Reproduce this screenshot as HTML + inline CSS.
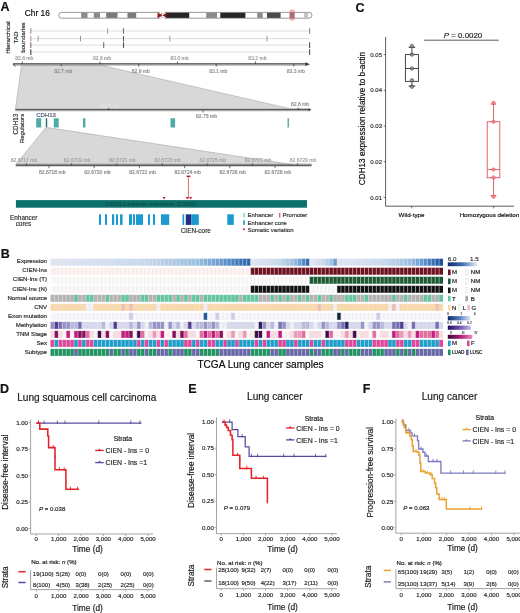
<!DOCTYPE html>
<html><head><meta charset="utf-8"><title>Figure</title>
<style>
html,body{margin:0;padding:0;background:#fff;}
body{width:520px;height:613px;overflow:hidden;}
svg{display:block;}
svg text{font-family:'Liberation Sans', Arial, sans-serif;}
</style></head>
<body>
<svg width="520" height="613" viewBox="0 0 520 613">
<rect width="520" height="613" fill="#fff"/>
<text x="0.50" y="10.90" font-size="12.5" fill="#111" stroke="#111" stroke-width="0.18" font-weight="bold">A</text>
<text x="0.80" y="258.00" font-size="12.5" fill="#111" stroke="#111" stroke-width="0.18" font-weight="bold">B</text>
<text x="355.50" y="11.50" font-size="12.5" fill="#111" stroke="#111" stroke-width="0.18" font-weight="bold">C</text>
<text x="0.00" y="392.60" font-size="12.5" fill="#111" stroke="#111" stroke-width="0.18" font-weight="bold">D</text>
<text x="188.30" y="393.00" font-size="12.5" fill="#111" stroke="#111" stroke-width="0.18" font-weight="bold">E</text>
<text x="362.80" y="392.80" font-size="12.5" fill="#111" stroke="#111" stroke-width="0.18" font-weight="bold">F</text>
<text x="24.80" y="16.10" font-size="8.4" stroke="#222" stroke-width="0.18">Chr 16</text>
<rect x="58.7" y="12.4" width="104" height="5.80" rx="2.9" fill="#fff" stroke="#555" stroke-width="0.6"/>
<rect x="161" y="12.4" width="151" height="5.80" rx="2.9" fill="#fff" stroke="#555" stroke-width="0.6"/>
<rect x="81.20" y="12.70" width="6.30" height="5.20" fill="#8a8a8a"/>
<rect x="93.80" y="12.70" width="6.20" height="5.20" fill="#8a8a8a"/>
<rect x="106.20" y="12.70" width="11.30" height="5.20" fill="#7a7a7a"/>
<rect x="127.50" y="12.70" width="8.70" height="5.20" fill="#7a7a7a"/>
<rect x="166.30" y="12.70" width="22.90" height="5.20" fill="#262626"/>
<rect x="206.20" y="12.70" width="10.80" height="5.20" fill="#8a8a8a"/>
<rect x="220.30" y="12.70" width="25.10" height="5.20" fill="#262626"/>
<rect x="257.20" y="12.70" width="5.50" height="5.20" fill="#8a8a8a"/>
<rect x="267.00" y="12.70" width="13.60" height="5.20" fill="#4a4a4a"/>
<rect x="289.60" y="12.70" width="4.90" height="5.20" fill="#8a8a8a"/>
<rect x="304.00" y="12.70" width="4.00" height="5.20" fill="#c4c4c4"/>
<path d="M157.5 12.4 L162.4 15.30 L157.5 18.2 Z" fill="#8b1a1a"/>
<path d="M167 12.4 L162.4 15.30 L167 18.2 Z" fill="#8b1a1a"/>
<rect x="160.20" y="11.90" width="4.40" height="1.20" fill="#fff"/>
<rect x="160.20" y="17.50" width="4.40" height="1.20" fill="#fff"/>
<rect x="289.8" y="9.8" width="4.8" height="10.6" rx="1.3" fill="#e23a4e" fill-opacity="0.38" stroke="#e86070" stroke-width="0.5" stroke-opacity="0.5" stroke-dasharray="1 0.6"/>
<text x="10.00" y="37.50" font-size="6.15" text-anchor="middle" fill="#333" stroke="#333" stroke-width="0.18" transform="rotate(-90 10.00 37.50)">Hierarchical</text>
<text x="17.50" y="37.50" font-size="6.15" text-anchor="middle" fill="#333" stroke="#333" stroke-width="0.18" transform="rotate(-90 17.50 37.50)">TAD</text>
<text x="24.60" y="37.50" font-size="6.15" text-anchor="middle" fill="#333" stroke="#333" stroke-width="0.18" transform="rotate(-90 24.60 37.50)">boundaries</text>
<line x1="30.80" y1="31.00" x2="309.60" y2="31.00" stroke="#cbcbcb" stroke-width="0.65"/>
<line x1="30.80" y1="38.60" x2="309.60" y2="38.60" stroke="#cbcbcb" stroke-width="0.65"/>
<line x1="30.80" y1="45.10" x2="309.60" y2="45.10" stroke="#cbcbcb" stroke-width="0.65"/>
<line x1="30.80" y1="52.10" x2="309.60" y2="52.10" stroke="#cbcbcb" stroke-width="0.65"/>
<line x1="30.80" y1="28.20" x2="30.80" y2="33.80" stroke="#a888b0" stroke-width="1.1"/>
<line x1="107.60" y1="28.20" x2="107.60" y2="33.80" stroke="#a4a4ac" stroke-width="1.1"/>
<line x1="123.50" y1="28.20" x2="123.50" y2="33.80" stroke="#786878" stroke-width="1.1"/>
<line x1="309.60" y1="28.20" x2="309.60" y2="33.80" stroke="#888" stroke-width="1.1"/>
<line x1="30.80" y1="35.80" x2="30.80" y2="41.40" stroke="#b890a8" stroke-width="1.1"/>
<line x1="38.20" y1="35.80" x2="38.20" y2="41.40" stroke="#a4a4a4" stroke-width="1.1"/>
<line x1="80.50" y1="35.80" x2="80.50" y2="41.40" stroke="#b888a0" stroke-width="1.1"/>
<line x1="123.50" y1="35.80" x2="123.50" y2="41.40" stroke="#6a5868" stroke-width="1.1"/>
<line x1="169.80" y1="35.80" x2="169.80" y2="41.40" stroke="#a4a4a4" stroke-width="1.1"/>
<line x1="267.00" y1="35.80" x2="267.00" y2="41.40" stroke="#a4a4a4" stroke-width="1.1"/>
<line x1="30.80" y1="42.30" x2="30.80" y2="47.90" stroke="#806878" stroke-width="1.1"/>
<line x1="103.70" y1="42.30" x2="103.70" y2="47.90" stroke="#707070" stroke-width="1.1"/>
<line x1="123.50" y1="42.30" x2="123.50" y2="47.90" stroke="#5a4858" stroke-width="1.1"/>
<line x1="309.60" y1="42.30" x2="309.60" y2="47.90" stroke="#555" stroke-width="1.1"/>
<line x1="30.80" y1="49.30" x2="30.80" y2="54.90" stroke="#444" stroke-width="1.1"/>
<line x1="309.60" y1="49.30" x2="309.60" y2="54.90" stroke="#555" stroke-width="1.1"/>
<path d="M21.5 65 L100 65 L293.5 109.5 L15.4 109.5 Z" fill="#d8d8d8" stroke="#9a9a9a" stroke-width="0.5"/>
<line x1="13.00" y1="64.90" x2="306.50" y2="64.90" stroke="#8e8e8e" stroke-width="1.3"/>
<line x1="13.00" y1="63.70" x2="306.50" y2="63.70" stroke="#4e4e4e" stroke-width="1.0"/>
<path d="M305.5 62.3 L310 64.2 L305.5 65.9 Z" fill="#3a3a3a"/>
<path d="M13 64 L15.5 66.5" fill="none" stroke="#333" stroke-width="0.8"/>
<line x1="22.30" y1="61.40" x2="22.30" y2="64.00" stroke="#333" stroke-width="0.7"/>
<text x="24.30" y="60.20" font-size="5" text-anchor="middle" fill="#9c9c9c" stroke="#9c9c9c" stroke-width="0.18">82.6 mb</text>
<line x1="100.00" y1="61.40" x2="100.00" y2="64.00" stroke="#333" stroke-width="0.7"/>
<text x="102.00" y="60.20" font-size="5" text-anchor="middle" fill="#9c9c9c" stroke="#9c9c9c" stroke-width="0.18">82.8 mb</text>
<line x1="177.50" y1="61.40" x2="177.50" y2="64.00" stroke="#333" stroke-width="0.7"/>
<text x="179.50" y="60.20" font-size="5" text-anchor="middle" fill="#9c9c9c" stroke="#9c9c9c" stroke-width="0.18">83.0 mb</text>
<line x1="255.40" y1="61.40" x2="255.40" y2="64.00" stroke="#333" stroke-width="0.7"/>
<text x="257.40" y="60.20" font-size="5" text-anchor="middle" fill="#9c9c9c" stroke="#9c9c9c" stroke-width="0.18">83.2 mb</text>
<line x1="61.20" y1="64.00" x2="61.20" y2="66.60" stroke="#333" stroke-width="0.7"/>
<text x="63.20" y="72.60" font-size="5" text-anchor="middle" fill="#8c8c8c" stroke="#8c8c8c" stroke-width="0.18">82.7 mb</text>
<line x1="138.75" y1="64.00" x2="138.75" y2="66.60" stroke="#333" stroke-width="0.7"/>
<text x="140.75" y="72.60" font-size="5" text-anchor="middle" fill="#8c8c8c" stroke="#8c8c8c" stroke-width="0.18">82.9 mb</text>
<line x1="216.25" y1="64.00" x2="216.25" y2="66.60" stroke="#333" stroke-width="0.7"/>
<text x="218.25" y="72.60" font-size="5" text-anchor="middle" fill="#8c8c8c" stroke="#8c8c8c" stroke-width="0.18">83.1 mb</text>
<line x1="293.80" y1="64.00" x2="293.80" y2="66.60" stroke="#333" stroke-width="0.7"/>
<text x="295.80" y="72.60" font-size="5" text-anchor="middle" fill="#8c8c8c" stroke="#8c8c8c" stroke-width="0.18">83.3 mb</text>
<line x1="15.40" y1="108.40" x2="309.50" y2="108.40" stroke="#c2c2c2" stroke-width="1.0"/>
<line x1="15.40" y1="109.80" x2="309.50" y2="109.80" stroke="#585858" stroke-width="1.5"/>
<line x1="15.40" y1="110.90" x2="309.50" y2="110.90" stroke="#a8a8a8" stroke-width="0.6"/>
<path d="M308.6 108.3 L311.4 109.8 L308.6 111.3 Z" fill="#3a3a3a"/>
<line x1="108.50" y1="107.70" x2="108.50" y2="110.20" stroke="#333" stroke-width="0.7"/>
<text x="109.50" y="107.50" font-size="5" text-anchor="middle" fill="#e2e2e2" stroke="#e2e2e2" stroke-width="0.18">82.7 mb</text>
<line x1="203.00" y1="110.20" x2="203.00" y2="112.60" stroke="#333" stroke-width="0.7"/>
<text x="206.50" y="117.90" font-size="5" text-anchor="middle" fill="#8c8c8c" stroke="#8c8c8c" stroke-width="0.18">82.75 mb</text>
<line x1="298.30" y1="107.70" x2="298.30" y2="110.20" stroke="#333" stroke-width="0.7"/>
<text x="300.00" y="106.20" font-size="5" text-anchor="middle" fill="#8c8c8c" stroke="#8c8c8c" stroke-width="0.18">82.8 mb</text>
<text x="17.80" y="113.80" font-size="6.3" text-anchor="end" fill="#333" stroke="#333" stroke-width="0.18" transform="rotate(-90 17.80 113.80)">CDH13</text>
<text x="23.80" y="113.80" font-size="6.1" text-anchor="end" fill="#333" stroke="#333" stroke-width="0.18" transform="rotate(-90 23.80 113.80)">Regulators</text>
<text x="36.20" y="116.80" font-size="6" fill="#4e5e72" stroke="#4e5e72" stroke-width="0.18">CDH13</text>
<rect x="36.20" y="118.30" width="5.00" height="9.20" fill="#4eaaa4"/>
<rect x="45.80" y="118.30" width="1.40" height="9.20" fill="#2a6a6a"/>
<rect x="53.80" y="118.30" width="4.90" height="9.20" fill="#4eaaa4"/>
<rect x="83.00" y="118.30" width="2.40" height="9.20" fill="#4eaaa4"/>
<rect x="170.50" y="118.30" width="4.60" height="9.20" fill="#4eaaa4"/>
<rect x="287.60" y="118.30" width="1.20" height="9.20" fill="#3a9a98"/>
<path d="M45.8 127.6 L47.6 127.6 L293 164.6 L15.8 164.6 Z" fill="#d8d8d8" stroke="#9a9a9a" stroke-width="0.5"/>
<line x1="15.80" y1="163.90" x2="311.60" y2="163.90" stroke="#b4b4b4" stroke-width="0.9"/>
<line x1="15.80" y1="165.20" x2="311.60" y2="165.20" stroke="#565656" stroke-width="1.5"/>
<line x1="15.80" y1="166.30" x2="311.60" y2="166.30" stroke="#a8a8a8" stroke-width="0.6"/>
<line x1="49.00" y1="165.80" x2="49.00" y2="168.20" stroke="#333" stroke-width="0.7"/>
<text x="52.30" y="173.90" font-size="5" text-anchor="middle" fill="#8a8a8a" stroke="#8a8a8a" stroke-width="0.18">82.6718 mb</text>
<line x1="94.20" y1="165.80" x2="94.20" y2="168.20" stroke="#333" stroke-width="0.7"/>
<text x="97.40" y="173.90" font-size="5" text-anchor="middle" fill="#8a8a8a" stroke="#8a8a8a" stroke-width="0.18">82.6720 mb</text>
<line x1="139.40" y1="165.80" x2="139.40" y2="168.20" stroke="#333" stroke-width="0.7"/>
<text x="142.50" y="173.90" font-size="5" text-anchor="middle" fill="#8a8a8a" stroke="#8a8a8a" stroke-width="0.18">82.6722 mb</text>
<line x1="184.60" y1="165.80" x2="184.60" y2="168.20" stroke="#333" stroke-width="0.7"/>
<text x="187.60" y="173.90" font-size="5" text-anchor="middle" fill="#8a8a8a" stroke="#8a8a8a" stroke-width="0.18">82.6724 mb</text>
<line x1="229.80" y1="165.80" x2="229.80" y2="168.20" stroke="#333" stroke-width="0.7"/>
<text x="232.70" y="173.90" font-size="5" text-anchor="middle" fill="#8a8a8a" stroke="#8a8a8a" stroke-width="0.18">82.6726 mb</text>
<line x1="275.00" y1="165.80" x2="275.00" y2="168.20" stroke="#333" stroke-width="0.7"/>
<text x="277.80" y="173.90" font-size="5" text-anchor="middle" fill="#8a8a8a" stroke="#8a8a8a" stroke-width="0.18">82.6728 mb</text>
<line x1="26.40" y1="163.40" x2="26.40" y2="165.80" stroke="#333" stroke-width="0.7"/>
<text x="24.00" y="161.60" font-size="5" text-anchor="middle" fill="#a4a4a4" stroke="#a4a4a4" stroke-width="0.18">82.6717 mb</text>
<line x1="71.60" y1="163.40" x2="71.60" y2="165.80" stroke="#333" stroke-width="0.7"/>
<text x="77.00" y="161.60" font-size="5" text-anchor="middle" fill="#a4a4a4" stroke="#a4a4a4" stroke-width="0.18">82.6719 mb</text>
<line x1="116.80" y1="163.40" x2="116.80" y2="165.80" stroke="#333" stroke-width="0.7"/>
<text x="122.40" y="161.60" font-size="5" text-anchor="middle" fill="#a4a4a4" stroke="#a4a4a4" stroke-width="0.18">82.6721 mb</text>
<line x1="162.00" y1="163.40" x2="162.00" y2="165.80" stroke="#333" stroke-width="0.7"/>
<text x="167.60" y="161.60" font-size="5" text-anchor="middle" fill="#a4a4a4" stroke="#a4a4a4" stroke-width="0.18">82.6723 mb</text>
<line x1="207.20" y1="163.40" x2="207.20" y2="165.80" stroke="#333" stroke-width="0.7"/>
<text x="212.80" y="161.60" font-size="5" text-anchor="middle" fill="#a4a4a4" stroke="#a4a4a4" stroke-width="0.18">82.6725 mb</text>
<line x1="252.40" y1="163.40" x2="252.40" y2="165.80" stroke="#333" stroke-width="0.7"/>
<text x="258.00" y="161.60" font-size="5" text-anchor="middle" fill="#a4a4a4" stroke="#a4a4a4" stroke-width="0.18">82.6727 mb</text>
<line x1="297.60" y1="163.40" x2="297.60" y2="165.80" stroke="#333" stroke-width="0.7"/>
<text x="303.00" y="161.60" font-size="5" text-anchor="middle" fill="#a4a4a4" stroke="#a4a4a4" stroke-width="0.18">82.6729 mb</text>
<line x1="188.40" y1="176.50" x2="188.40" y2="198.60" stroke="#e8404a" stroke-width="0.8"/>
<rect x="186.60" y="175.60" width="3.80" height="1.40" fill="#b02030"/>
<path d="M162.60 197.0 L165.60 197.0 L164.10 199.4 Z" fill="#c0202a"/>
<path d="M185.70 197.0 L188.70 197.0 L187.20 199.4 Z" fill="#c0202a"/>
<path d="M189.10 197.0 L192.10 197.0 L190.60 199.4 Z" fill="#c0202a"/>
<rect x="15.90" y="200.10" width="291.10" height="7.60" fill="#0c706b"/>
<text x="150.50" y="206.10" font-size="6.2" text-anchor="middle" fill="#0b5451" stroke="#0b5451" stroke-width="0.18">CDH13 intronic enhancer (CIEN)</text>
<text x="23.70" y="219.50" font-size="6.4" text-anchor="middle" fill="#333" stroke="#333" stroke-width="0.18">Enhancer</text>
<text x="23.50" y="226.00" font-size="6.4" text-anchor="middle" fill="#333" stroke="#333" stroke-width="0.18">cores</text>
<rect x="99.00" y="214.30" width="2.00" height="10.60" fill="#1b9ad0"/>
<rect x="105.00" y="214.30" width="2.00" height="10.60" fill="#1b9ad0"/>
<rect x="112.00" y="214.30" width="2.20" height="10.60" fill="#1b9ad0"/>
<rect x="116.00" y="214.30" width="2.00" height="10.60" fill="#1b9ad0"/>
<rect x="120.00" y="214.30" width="2.60" height="10.60" fill="#1b9ad0"/>
<rect x="129.00" y="214.30" width="3.00" height="10.60" fill="#1b9ad0"/>
<rect x="133.00" y="214.30" width="2.00" height="10.60" fill="#1b9ad0"/>
<rect x="136.00" y="214.30" width="7.00" height="10.60" fill="#1b9ad0"/>
<rect x="148.00" y="214.30" width="2.00" height="10.60" fill="#1b9ad0"/>
<rect x="153.00" y="214.30" width="2.00" height="10.60" fill="#1b9ad0"/>
<rect x="161.00" y="214.30" width="8.20" height="10.60" fill="#1b9ad0"/>
<rect x="182.50" y="214.30" width="1.70" height="10.60" fill="#1b9ad0"/>
<rect x="185.80" y="214.30" width="5.40" height="10.60" fill="#232c80"/>
<rect x="191.20" y="214.30" width="7.60" height="10.60" fill="#1b9ad0"/>
<rect x="227.30" y="214.30" width="6.50" height="10.60" fill="#1b9ad0"/>
<text x="195.80" y="232.60" font-size="6.5" text-anchor="middle" fill="#333" stroke="#333" stroke-width="0.18">CIEN-core</text>
<rect x="243.30" y="212.90" width="1.50" height="4.60" fill="#7ed0e8"/>
<text x="247.50" y="217.40" font-size="6" fill="#333" stroke="#333" stroke-width="0.18">Enhancer</text>
<rect x="278.90" y="212.90" width="1.50" height="4.60" fill="#e07070"/>
<text x="282.60" y="217.40" font-size="6" fill="#333" stroke="#333" stroke-width="0.18">Promoter</text>
<rect x="243.30" y="220.30" width="1.50" height="4.60" fill="#1b8ac0"/>
<text x="247.50" y="224.80" font-size="6" fill="#333" stroke="#333" stroke-width="0.18">Enhancer core</text>
<path d="M242.6 228.6 L245.4 228.6 L244 230.8 Z" fill="#c0202a"/>
<text x="247.50" y="232.20" font-size="6" fill="#333" stroke="#333" stroke-width="0.18">Somatic variation</text>
<line x1="385.60" y1="37.00" x2="385.60" y2="206.20" stroke="#333" stroke-width="0.8"/>
<line x1="385.60" y1="206.20" x2="514.00" y2="206.20" stroke="#333" stroke-width="0.8"/>
<line x1="383.60" y1="54.60" x2="385.60" y2="54.60" stroke="#333" stroke-width="0.7"/>
<text x="382.00" y="56.70" font-size="6" text-anchor="end" fill="#333" stroke="#333" stroke-width="0.18">0.05</text>
<line x1="383.60" y1="90.30" x2="385.60" y2="90.30" stroke="#333" stroke-width="0.7"/>
<text x="382.00" y="92.40" font-size="6" text-anchor="end" fill="#333" stroke="#333" stroke-width="0.18">0.04</text>
<line x1="383.60" y1="126.00" x2="385.60" y2="126.00" stroke="#333" stroke-width="0.7"/>
<text x="382.00" y="128.10" font-size="6" text-anchor="end" fill="#333" stroke="#333" stroke-width="0.18">0.03</text>
<line x1="383.60" y1="161.70" x2="385.60" y2="161.70" stroke="#333" stroke-width="0.7"/>
<text x="382.00" y="163.80" font-size="6" text-anchor="end" fill="#333" stroke="#333" stroke-width="0.18">0.02</text>
<line x1="383.60" y1="197.40" x2="385.60" y2="197.40" stroke="#333" stroke-width="0.7"/>
<text x="382.00" y="199.50" font-size="6" text-anchor="end" fill="#333" stroke="#333" stroke-width="0.18">0.01</text>
<text x="364.80" y="118.50" font-size="8.2" text-anchor="middle" stroke="#222" stroke-width="0.18" transform="rotate(-90 364.80 118.50)">CDH13 expression relative to b-actin</text>
<line x1="411.70" y1="206.20" x2="411.70" y2="208.40" stroke="#333" stroke-width="0.7"/>
<text x="411.50" y="217.00" font-size="6.2" text-anchor="middle" stroke="#222" stroke-width="0.18">Wild-type</text>
<line x1="493.70" y1="206.20" x2="493.70" y2="208.40" stroke="#333" stroke-width="0.7"/>
<text x="489.40" y="217.00" font-size="6.2" text-anchor="middle" stroke="#222" stroke-width="0.18">Homozygous deletion</text>
<line x1="424.20" y1="40.20" x2="498.80" y2="40.20" stroke="#333" stroke-width="0.8"/>
<text x="463" y="37.9" font-size="7.9" text-anchor="middle" fill="#222" stroke="#222" stroke-width="0.18"><tspan font-style="italic">P</tspan> = 0.0020</text>
<line x1="411.90" y1="46.03" x2="411.90" y2="54.60" stroke="#333" stroke-width="0.9"/>
<line x1="411.90" y1="81.38" x2="411.90" y2="87.09" stroke="#333" stroke-width="0.9"/>
<line x1="408.60" y1="47.23" x2="415.20" y2="47.23" stroke="#333" stroke-width="1.1"/>
<line x1="408.60" y1="86.09" x2="415.20" y2="86.09" stroke="#333" stroke-width="1.1"/>
<rect x="405.40" y="54.60" width="13.00" height="26.77" fill="none" stroke="#333" stroke-width="0.9"/>
<line x1="405.40" y1="68.52" x2="418.40" y2="68.52" stroke="#333" stroke-width="0.9"/>
<circle cx="411.90" cy="46.03" r="1.75" fill="#8a8a8a" fill-opacity="0.85" stroke="#333" stroke-width="0.5"/>
<circle cx="411.90" cy="54.60" r="1.75" fill="#8a8a8a" fill-opacity="0.85" stroke="#333" stroke-width="0.5"/>
<circle cx="411.90" cy="68.52" r="1.75" fill="#8a8a8a" fill-opacity="0.85" stroke="#333" stroke-width="0.5"/>
<circle cx="411.90" cy="80.30" r="1.75" fill="#8a8a8a" fill-opacity="0.85" stroke="#333" stroke-width="0.5"/>
<circle cx="411.90" cy="86.73" r="1.75" fill="#8a8a8a" fill-opacity="0.85" stroke="#333" stroke-width="0.5"/>
<line x1="493.50" y1="102.80" x2="493.50" y2="121.72" stroke="#e0505a" stroke-width="0.9"/>
<line x1="493.50" y1="177.77" x2="493.50" y2="196.69" stroke="#e0505a" stroke-width="0.9"/>
<line x1="490.70" y1="104.00" x2="496.30" y2="104.00" stroke="#e0505a" stroke-width="1.1"/>
<line x1="490.70" y1="195.69" x2="496.30" y2="195.69" stroke="#e0505a" stroke-width="1.1"/>
<rect x="487.20" y="121.72" width="12.60" height="56.05" fill="none" stroke="#e0505a" stroke-width="0.9"/>
<line x1="487.20" y1="169.55" x2="499.80" y2="169.55" stroke="#e0505a" stroke-width="0.9"/>
<circle cx="493.50" cy="102.80" r="1.75" fill="#ee8088" fill-opacity="0.85" stroke="#e0505a" stroke-width="0.5"/>
<circle cx="493.50" cy="121.72" r="1.75" fill="#ee8088" fill-opacity="0.85" stroke="#e0505a" stroke-width="0.5"/>
<circle cx="493.50" cy="169.55" r="1.75" fill="#ee8088" fill-opacity="0.85" stroke="#e0505a" stroke-width="0.5"/>
<circle cx="493.50" cy="177.41" r="1.75" fill="#ee8088" fill-opacity="0.85" stroke="#e0505a" stroke-width="0.5"/>
<circle cx="493.50" cy="196.69" r="1.75" fill="#ee8088" fill-opacity="0.85" stroke="#e0505a" stroke-width="0.5"/>
<text x="47.00" y="263.45" font-size="6.1" text-anchor="end" fill="#2a2a2a" stroke="#2a2a2a" stroke-width="0.18">Expression</text>
<text x="47.00" y="272.47" font-size="6.1" text-anchor="end" fill="#2a2a2a" stroke="#2a2a2a" stroke-width="0.18">CIEN-Ins</text>
<text x="47.00" y="281.49" font-size="6.1" text-anchor="end" fill="#2a2a2a" stroke="#2a2a2a" stroke-width="0.18">CIEN-Ins (T)</text>
<text x="47.00" y="290.51" font-size="6.1" text-anchor="end" fill="#2a2a2a" stroke="#2a2a2a" stroke-width="0.18">CIEN-Ins (N)</text>
<text x="47.00" y="299.53" font-size="6.1" text-anchor="end" fill="#2a2a2a" stroke="#2a2a2a" stroke-width="0.18">Normal source</text>
<text x="47.00" y="308.55" font-size="6.1" text-anchor="end" fill="#2a2a2a" stroke="#2a2a2a" stroke-width="0.18">CNV</text>
<text x="47.00" y="317.57" font-size="6.1" text-anchor="end" fill="#2a2a2a" stroke="#2a2a2a" stroke-width="0.18">Exon mutation</text>
<text x="47.00" y="326.59" font-size="6.1" text-anchor="end" fill="#2a2a2a" stroke="#2a2a2a" stroke-width="0.18">Methylation</text>
<text x="47.00" y="335.61" font-size="6.1" text-anchor="end" fill="#2a2a2a" stroke="#2a2a2a" stroke-width="0.18">TNM Stage</text>
<text x="47.00" y="344.63" font-size="6.1" text-anchor="end" fill="#2a2a2a" stroke="#2a2a2a" stroke-width="0.18">Sex</text>
<text x="47.00" y="353.65" font-size="6.1" text-anchor="end" fill="#2a2a2a" stroke="#2a2a2a" stroke-width="0.18">Subtype</text>
<rect x="50.50" y="258.70" width="3.92" height="7.00" fill="#e0e6f3"/>
<rect x="54.42" y="258.70" width="3.92" height="7.00" fill="#dfe5f3"/>
<rect x="58.35" y="258.70" width="3.92" height="7.00" fill="#dee5f3"/>
<rect x="62.27" y="258.70" width="3.92" height="7.00" fill="#dde4f2"/>
<rect x="66.20" y="258.70" width="3.92" height="7.00" fill="#dce4f2"/>
<rect x="70.12" y="258.70" width="3.92" height="7.00" fill="#dbe3f2"/>
<rect x="74.05" y="258.70" width="3.92" height="7.00" fill="#d9e3f2"/>
<rect x="77.97" y="258.70" width="3.92" height="7.00" fill="#d8e2f2"/>
<rect x="81.90" y="258.70" width="3.92" height="7.00" fill="#d7e2f2"/>
<rect x="85.82" y="258.70" width="3.92" height="7.00" fill="#d6e1f1"/>
<rect x="89.75" y="258.70" width="3.92" height="7.00" fill="#d5e1f1"/>
<rect x="93.67" y="258.70" width="3.92" height="7.00" fill="#d4e0f1"/>
<rect x="97.60" y="258.70" width="3.92" height="7.00" fill="#d3dff1"/>
<rect x="101.53" y="258.70" width="3.92" height="7.00" fill="#d2dff1"/>
<rect x="105.45" y="258.70" width="3.92" height="7.00" fill="#d1def1"/>
<rect x="109.38" y="258.70" width="3.92" height="7.00" fill="#d0def0"/>
<rect x="113.30" y="258.70" width="3.92" height="7.00" fill="#ceddf0"/>
<rect x="117.22" y="258.70" width="3.92" height="7.00" fill="#cdddf0"/>
<rect x="121.15" y="258.70" width="3.92" height="7.00" fill="#ccdcf0"/>
<rect x="125.08" y="258.70" width="3.92" height="7.00" fill="#cbdcf0"/>
<rect x="129.00" y="258.70" width="3.92" height="7.00" fill="#cadbf0"/>
<rect x="132.93" y="258.70" width="3.92" height="7.00" fill="#c9daef"/>
<rect x="136.85" y="258.70" width="3.92" height="7.00" fill="#c8daef"/>
<rect x="140.77" y="258.70" width="3.92" height="7.00" fill="#c7d9ef"/>
<rect x="144.70" y="258.70" width="3.92" height="7.00" fill="#c5d8ef"/>
<rect x="148.62" y="258.70" width="3.92" height="7.00" fill="#c1d6ee"/>
<rect x="152.55" y="258.70" width="3.92" height="7.00" fill="#bed4ed"/>
<rect x="156.47" y="258.70" width="3.92" height="7.00" fill="#bad2ec"/>
<rect x="160.40" y="258.70" width="3.92" height="7.00" fill="#b7d0eb"/>
<rect x="164.32" y="258.70" width="3.92" height="7.00" fill="#b3ceeb"/>
<rect x="168.25" y="258.70" width="3.92" height="7.00" fill="#b0cdea"/>
<rect x="172.18" y="258.70" width="3.92" height="7.00" fill="#accbe9"/>
<rect x="176.10" y="258.70" width="3.92" height="7.00" fill="#a9c9e8"/>
<rect x="180.03" y="258.70" width="3.92" height="7.00" fill="#a5c7e7"/>
<rect x="183.95" y="258.70" width="3.92" height="7.00" fill="#a2c5e6"/>
<rect x="187.88" y="258.70" width="3.92" height="7.00" fill="#9ec3e6"/>
<rect x="191.80" y="258.70" width="3.92" height="7.00" fill="#9bc1e5"/>
<rect x="195.72" y="258.70" width="3.92" height="7.00" fill="#97bee3"/>
<rect x="199.65" y="258.70" width="3.92" height="7.00" fill="#8eb8e0"/>
<rect x="203.57" y="258.70" width="3.92" height="7.00" fill="#85b2dd"/>
<rect x="207.50" y="258.70" width="3.92" height="7.00" fill="#7dacda"/>
<rect x="211.42" y="258.70" width="3.92" height="7.00" fill="#74a5d6"/>
<rect x="215.35" y="258.70" width="3.92" height="7.00" fill="#6b9fd3"/>
<rect x="219.28" y="258.70" width="3.92" height="7.00" fill="#6399d0"/>
<rect x="223.20" y="258.70" width="3.92" height="7.00" fill="#5a93cc"/>
<rect x="227.12" y="258.70" width="3.92" height="7.00" fill="#518dc9"/>
<rect x="231.05" y="258.70" width="3.92" height="7.00" fill="#4a85c4"/>
<rect x="234.97" y="258.70" width="3.92" height="7.00" fill="#437dbe"/>
<rect x="238.90" y="258.70" width="3.92" height="7.00" fill="#3c74b8"/>
<rect x="242.82" y="258.70" width="3.92" height="7.00" fill="#356cb2"/>
<rect x="246.75" y="258.70" width="3.92" height="7.00" fill="#2e64ac"/>
<rect x="250.67" y="258.70" width="3.92" height="7.00" fill="#e0e6f3"/>
<rect x="254.60" y="258.70" width="3.92" height="7.00" fill="#dce4f2"/>
<rect x="258.52" y="258.70" width="3.92" height="7.00" fill="#d8e2f2"/>
<rect x="262.45" y="258.70" width="3.92" height="7.00" fill="#d4e0f1"/>
<rect x="266.38" y="258.70" width="3.92" height="7.00" fill="#d1def1"/>
<rect x="270.30" y="258.70" width="3.92" height="7.00" fill="#cddcf0"/>
<rect x="274.23" y="258.70" width="3.92" height="7.00" fill="#c9daef"/>
<rect x="278.15" y="258.70" width="3.92" height="7.00" fill="#c3d7ee"/>
<rect x="282.07" y="258.70" width="3.92" height="7.00" fill="#b7d1eb"/>
<rect x="286.00" y="258.70" width="3.92" height="7.00" fill="#abcae8"/>
<rect x="289.92" y="258.70" width="3.92" height="7.00" fill="#9fc3e6"/>
<rect x="293.85" y="258.70" width="3.92" height="7.00" fill="#8ab5df"/>
<rect x="297.77" y="258.70" width="3.92" height="7.00" fill="#6c9fd3"/>
<rect x="301.70" y="258.70" width="3.92" height="7.00" fill="#4e89c7"/>
<rect x="305.62" y="258.70" width="3.92" height="7.00" fill="#356cb2"/>
<rect x="309.55" y="258.70" width="3.92" height="7.00" fill="#e0e6f3"/>
<rect x="313.47" y="258.70" width="3.92" height="7.00" fill="#d8e2f2"/>
<rect x="317.40" y="258.70" width="3.92" height="7.00" fill="#d1def1"/>
<rect x="321.32" y="258.70" width="3.92" height="7.00" fill="#c9daef"/>
<rect x="325.25" y="258.70" width="3.92" height="7.00" fill="#b7d0eb"/>
<rect x="329.18" y="258.70" width="3.92" height="7.00" fill="#9ec2e5"/>
<rect x="333.10" y="258.70" width="3.92" height="7.00" fill="#6a9ed2"/>
<rect x="337.02" y="258.70" width="3.92" height="7.00" fill="#e0e6f3"/>
<rect x="340.95" y="258.70" width="3.92" height="7.00" fill="#dee5f3"/>
<rect x="344.88" y="258.70" width="3.92" height="7.00" fill="#dce4f2"/>
<rect x="348.80" y="258.70" width="3.92" height="7.00" fill="#d9e3f2"/>
<rect x="352.72" y="258.70" width="3.92" height="7.00" fill="#d7e2f2"/>
<rect x="356.65" y="258.70" width="3.92" height="7.00" fill="#d5e0f1"/>
<rect x="360.57" y="258.70" width="3.92" height="7.00" fill="#d3dff1"/>
<rect x="364.50" y="258.70" width="3.92" height="7.00" fill="#d0def1"/>
<rect x="368.43" y="258.70" width="3.92" height="7.00" fill="#ceddf0"/>
<rect x="372.35" y="258.70" width="3.92" height="7.00" fill="#ccdcf0"/>
<rect x="376.27" y="258.70" width="3.92" height="7.00" fill="#cadbf0"/>
<rect x="380.20" y="258.70" width="3.92" height="7.00" fill="#c8daef"/>
<rect x="384.12" y="258.70" width="3.92" height="7.00" fill="#c4d8ee"/>
<rect x="388.05" y="258.70" width="3.92" height="7.00" fill="#bdd4ed"/>
<rect x="391.97" y="258.70" width="3.92" height="7.00" fill="#b6d0eb"/>
<rect x="395.90" y="258.70" width="3.92" height="7.00" fill="#afcce9"/>
<rect x="399.82" y="258.70" width="3.92" height="7.00" fill="#a8c8e8"/>
<rect x="403.75" y="258.70" width="3.92" height="7.00" fill="#a0c4e6"/>
<rect x="407.68" y="258.70" width="3.92" height="7.00" fill="#99c0e4"/>
<rect x="411.60" y="258.70" width="3.92" height="7.00" fill="#8ab5df"/>
<rect x="415.52" y="258.70" width="3.92" height="7.00" fill="#78a8d8"/>
<rect x="419.45" y="258.70" width="3.92" height="7.00" fill="#679cd1"/>
<rect x="423.38" y="258.70" width="3.92" height="7.00" fill="#5590ca"/>
<rect x="427.30" y="258.70" width="3.92" height="7.00" fill="#4680c0"/>
<rect x="431.22" y="258.70" width="3.92" height="7.00" fill="#3870b4"/>
<rect x="435.15" y="258.70" width="3.92" height="7.00" fill="#295fa8"/>
<rect x="439.07" y="258.70" width="3.92" height="7.00" fill="#1b4e9c"/>
<path d="M54.42 258.70v7.0M58.35 258.70v7.0M62.27 258.70v7.0M66.20 258.70v7.0M70.12 258.70v7.0M74.05 258.70v7.0M77.97 258.70v7.0M81.90 258.70v7.0M85.82 258.70v7.0M89.75 258.70v7.0M93.67 258.70v7.0M97.60 258.70v7.0M101.53 258.70v7.0M105.45 258.70v7.0M109.38 258.70v7.0M113.30 258.70v7.0M117.22 258.70v7.0M121.15 258.70v7.0M125.08 258.70v7.0M129.00 258.70v7.0M132.93 258.70v7.0M136.85 258.70v7.0M140.77 258.70v7.0M144.70 258.70v7.0M148.62 258.70v7.0M152.55 258.70v7.0M156.47 258.70v7.0M160.40 258.70v7.0M164.32 258.70v7.0M168.25 258.70v7.0M172.18 258.70v7.0M176.10 258.70v7.0M180.03 258.70v7.0M183.95 258.70v7.0M187.88 258.70v7.0M191.80 258.70v7.0M195.72 258.70v7.0M199.65 258.70v7.0M203.57 258.70v7.0M207.50 258.70v7.0M211.42 258.70v7.0M215.35 258.70v7.0M219.28 258.70v7.0M223.20 258.70v7.0M227.12 258.70v7.0M231.05 258.70v7.0M234.97 258.70v7.0M238.90 258.70v7.0M242.82 258.70v7.0M246.75 258.70v7.0M250.67 258.70v7.0M254.60 258.70v7.0M258.52 258.70v7.0M262.45 258.70v7.0M266.38 258.70v7.0M270.30 258.70v7.0M274.23 258.70v7.0M278.15 258.70v7.0M282.07 258.70v7.0M286.00 258.70v7.0M289.92 258.70v7.0M293.85 258.70v7.0M297.77 258.70v7.0M301.70 258.70v7.0M305.62 258.70v7.0M309.55 258.70v7.0M313.47 258.70v7.0M317.40 258.70v7.0M321.32 258.70v7.0M325.25 258.70v7.0M329.18 258.70v7.0M333.10 258.70v7.0M337.02 258.70v7.0M340.95 258.70v7.0M344.88 258.70v7.0M348.80 258.70v7.0M352.72 258.70v7.0M356.65 258.70v7.0M360.57 258.70v7.0M364.50 258.70v7.0M368.43 258.70v7.0M372.35 258.70v7.0M376.27 258.70v7.0M380.20 258.70v7.0M384.12 258.70v7.0M388.05 258.70v7.0M391.97 258.70v7.0M395.90 258.70v7.0M399.82 258.70v7.0M403.75 258.70v7.0M407.68 258.70v7.0M411.60 258.70v7.0M415.52 258.70v7.0M419.45 258.70v7.0M423.38 258.70v7.0M427.30 258.70v7.0M431.22 258.70v7.0M435.15 258.70v7.0M439.07 258.70v7.0" fill="none" stroke="#e2dcdc" stroke-width="0.6" stroke-opacity="0.8"/>
<rect x="50.50" y="267.72" width="3.92" height="7.00" fill="#fdf3f1"/>
<rect x="54.42" y="267.72" width="3.92" height="7.00" fill="#fdf3f1"/>
<rect x="58.35" y="267.72" width="3.92" height="7.00" fill="#fdf3f1"/>
<rect x="62.27" y="267.72" width="3.92" height="7.00" fill="#fdf3f1"/>
<rect x="66.20" y="267.72" width="3.92" height="7.00" fill="#fdf3f1"/>
<rect x="70.12" y="267.72" width="3.92" height="7.00" fill="#fdf3f1"/>
<rect x="74.05" y="267.72" width="3.92" height="7.00" fill="#fdf3f1"/>
<rect x="77.97" y="267.72" width="3.92" height="7.00" fill="#fdf3f1"/>
<rect x="81.90" y="267.72" width="3.92" height="7.00" fill="#fdf3f1"/>
<rect x="85.82" y="267.72" width="3.92" height="7.00" fill="#fdf3f1"/>
<rect x="89.75" y="267.72" width="3.92" height="7.00" fill="#fdf3f1"/>
<rect x="93.67" y="267.72" width="3.92" height="7.00" fill="#fdf3f1"/>
<rect x="97.60" y="267.72" width="3.92" height="7.00" fill="#fdf3f1"/>
<rect x="101.53" y="267.72" width="3.92" height="7.00" fill="#fdf3f1"/>
<rect x="105.45" y="267.72" width="3.92" height="7.00" fill="#fdf3f1"/>
<rect x="109.38" y="267.72" width="3.92" height="7.00" fill="#fdf3f1"/>
<rect x="113.30" y="267.72" width="3.92" height="7.00" fill="#fdf3f1"/>
<rect x="117.22" y="267.72" width="3.92" height="7.00" fill="#fdf3f1"/>
<rect x="121.15" y="267.72" width="3.92" height="7.00" fill="#fdf3f1"/>
<rect x="125.08" y="267.72" width="3.92" height="7.00" fill="#fdf3f1"/>
<rect x="129.00" y="267.72" width="3.92" height="7.00" fill="#fdf3f1"/>
<rect x="132.93" y="267.72" width="3.92" height="7.00" fill="#fdf3f1"/>
<rect x="136.85" y="267.72" width="3.92" height="7.00" fill="#fdf3f1"/>
<rect x="140.77" y="267.72" width="3.92" height="7.00" fill="#fdf3f1"/>
<rect x="144.70" y="267.72" width="3.92" height="7.00" fill="#fdf3f1"/>
<rect x="148.62" y="267.72" width="3.92" height="7.00" fill="#fdf3f1"/>
<rect x="152.55" y="267.72" width="3.92" height="7.00" fill="#fdf3f1"/>
<rect x="156.47" y="267.72" width="3.92" height="7.00" fill="#fdf3f1"/>
<rect x="160.40" y="267.72" width="3.92" height="7.00" fill="#fdf3f1"/>
<rect x="164.32" y="267.72" width="3.92" height="7.00" fill="#fdf3f1"/>
<rect x="168.25" y="267.72" width="3.92" height="7.00" fill="#fdf3f1"/>
<rect x="172.18" y="267.72" width="3.92" height="7.00" fill="#fdf3f1"/>
<rect x="176.10" y="267.72" width="3.92" height="7.00" fill="#fdf3f1"/>
<rect x="180.03" y="267.72" width="3.92" height="7.00" fill="#fdf3f1"/>
<rect x="183.95" y="267.72" width="3.92" height="7.00" fill="#fdf3f1"/>
<rect x="187.88" y="267.72" width="3.92" height="7.00" fill="#fdf3f1"/>
<rect x="191.80" y="267.72" width="3.92" height="7.00" fill="#fdf3f1"/>
<rect x="195.72" y="267.72" width="3.92" height="7.00" fill="#fdf3f1"/>
<rect x="199.65" y="267.72" width="3.92" height="7.00" fill="#fdf3f1"/>
<rect x="203.57" y="267.72" width="3.92" height="7.00" fill="#fdf3f1"/>
<rect x="207.50" y="267.72" width="3.92" height="7.00" fill="#fdf3f1"/>
<rect x="211.42" y="267.72" width="3.92" height="7.00" fill="#fdf3f1"/>
<rect x="215.35" y="267.72" width="3.92" height="7.00" fill="#fdf3f1"/>
<rect x="219.28" y="267.72" width="3.92" height="7.00" fill="#fdf3f1"/>
<rect x="223.20" y="267.72" width="3.92" height="7.00" fill="#fdf3f1"/>
<rect x="227.12" y="267.72" width="3.92" height="7.00" fill="#fdf3f1"/>
<rect x="231.05" y="267.72" width="3.92" height="7.00" fill="#fdf3f1"/>
<rect x="234.97" y="267.72" width="3.92" height="7.00" fill="#fdf3f1"/>
<rect x="238.90" y="267.72" width="3.92" height="7.00" fill="#fdf3f1"/>
<rect x="242.82" y="267.72" width="3.92" height="7.00" fill="#fdf3f1"/>
<rect x="246.75" y="267.72" width="3.92" height="7.00" fill="#fdf3f1"/>
<rect x="250.67" y="267.72" width="3.92" height="7.00" fill="#6d1020"/>
<rect x="254.60" y="267.72" width="3.92" height="7.00" fill="#6d1020"/>
<rect x="258.52" y="267.72" width="3.92" height="7.00" fill="#6d1020"/>
<rect x="262.45" y="267.72" width="3.92" height="7.00" fill="#6d1020"/>
<rect x="266.38" y="267.72" width="3.92" height="7.00" fill="#6d1020"/>
<rect x="270.30" y="267.72" width="3.92" height="7.00" fill="#6d1020"/>
<rect x="274.23" y="267.72" width="3.92" height="7.00" fill="#6d1020"/>
<rect x="278.15" y="267.72" width="3.92" height="7.00" fill="#6d1020"/>
<rect x="282.07" y="267.72" width="3.92" height="7.00" fill="#6d1020"/>
<rect x="286.00" y="267.72" width="3.92" height="7.00" fill="#6d1020"/>
<rect x="289.92" y="267.72" width="3.92" height="7.00" fill="#6d1020"/>
<rect x="293.85" y="267.72" width="3.92" height="7.00" fill="#6d1020"/>
<rect x="297.77" y="267.72" width="3.92" height="7.00" fill="#6d1020"/>
<rect x="301.70" y="267.72" width="3.92" height="7.00" fill="#6d1020"/>
<rect x="305.62" y="267.72" width="3.92" height="7.00" fill="#6d1020"/>
<rect x="309.55" y="267.72" width="3.92" height="7.00" fill="#6d1020"/>
<rect x="313.47" y="267.72" width="3.92" height="7.00" fill="#6d1020"/>
<rect x="317.40" y="267.72" width="3.92" height="7.00" fill="#6d1020"/>
<rect x="321.32" y="267.72" width="3.92" height="7.00" fill="#6d1020"/>
<rect x="325.25" y="267.72" width="3.92" height="7.00" fill="#6d1020"/>
<rect x="329.18" y="267.72" width="3.92" height="7.00" fill="#6d1020"/>
<rect x="333.10" y="267.72" width="3.92" height="7.00" fill="#6d1020"/>
<rect x="337.02" y="267.72" width="3.92" height="7.00" fill="#6d1020"/>
<rect x="340.95" y="267.72" width="3.92" height="7.00" fill="#6d1020"/>
<rect x="344.88" y="267.72" width="3.92" height="7.00" fill="#6d1020"/>
<rect x="348.80" y="267.72" width="3.92" height="7.00" fill="#6d1020"/>
<rect x="352.72" y="267.72" width="3.92" height="7.00" fill="#6d1020"/>
<rect x="356.65" y="267.72" width="3.92" height="7.00" fill="#6d1020"/>
<rect x="360.57" y="267.72" width="3.92" height="7.00" fill="#6d1020"/>
<rect x="364.50" y="267.72" width="3.92" height="7.00" fill="#6d1020"/>
<rect x="368.43" y="267.72" width="3.92" height="7.00" fill="#6d1020"/>
<rect x="372.35" y="267.72" width="3.92" height="7.00" fill="#6d1020"/>
<rect x="376.27" y="267.72" width="3.92" height="7.00" fill="#6d1020"/>
<rect x="380.20" y="267.72" width="3.92" height="7.00" fill="#6d1020"/>
<rect x="384.12" y="267.72" width="3.92" height="7.00" fill="#6d1020"/>
<rect x="388.05" y="267.72" width="3.92" height="7.00" fill="#6d1020"/>
<rect x="391.97" y="267.72" width="3.92" height="7.00" fill="#6d1020"/>
<rect x="395.90" y="267.72" width="3.92" height="7.00" fill="#6d1020"/>
<rect x="399.82" y="267.72" width="3.92" height="7.00" fill="#6d1020"/>
<rect x="403.75" y="267.72" width="3.92" height="7.00" fill="#6d1020"/>
<rect x="407.68" y="267.72" width="3.92" height="7.00" fill="#6d1020"/>
<rect x="411.60" y="267.72" width="3.92" height="7.00" fill="#6d1020"/>
<rect x="415.52" y="267.72" width="3.92" height="7.00" fill="#6d1020"/>
<rect x="419.45" y="267.72" width="3.92" height="7.00" fill="#6d1020"/>
<rect x="423.38" y="267.72" width="3.92" height="7.00" fill="#6d1020"/>
<rect x="427.30" y="267.72" width="3.92" height="7.00" fill="#6d1020"/>
<rect x="431.22" y="267.72" width="3.92" height="7.00" fill="#6d1020"/>
<rect x="435.15" y="267.72" width="3.92" height="7.00" fill="#6d1020"/>
<rect x="439.07" y="267.72" width="3.92" height="7.00" fill="#6d1020"/>
<path d="M54.42 267.72v7.0M58.35 267.72v7.0M62.27 267.72v7.0M66.20 267.72v7.0M70.12 267.72v7.0M74.05 267.72v7.0M77.97 267.72v7.0M81.90 267.72v7.0M85.82 267.72v7.0M89.75 267.72v7.0M93.67 267.72v7.0M97.60 267.72v7.0M101.53 267.72v7.0M105.45 267.72v7.0M109.38 267.72v7.0M113.30 267.72v7.0M117.22 267.72v7.0M121.15 267.72v7.0M125.08 267.72v7.0M129.00 267.72v7.0M132.93 267.72v7.0M136.85 267.72v7.0M140.77 267.72v7.0M144.70 267.72v7.0M148.62 267.72v7.0M152.55 267.72v7.0M156.47 267.72v7.0M160.40 267.72v7.0M164.32 267.72v7.0M168.25 267.72v7.0M172.18 267.72v7.0M176.10 267.72v7.0M180.03 267.72v7.0M183.95 267.72v7.0M187.88 267.72v7.0M191.80 267.72v7.0M195.72 267.72v7.0M199.65 267.72v7.0M203.57 267.72v7.0M207.50 267.72v7.0M211.42 267.72v7.0M215.35 267.72v7.0M219.28 267.72v7.0M223.20 267.72v7.0M227.12 267.72v7.0M231.05 267.72v7.0M234.97 267.72v7.0M238.90 267.72v7.0M242.82 267.72v7.0M246.75 267.72v7.0M250.67 267.72v7.0M254.60 267.72v7.0M258.52 267.72v7.0M262.45 267.72v7.0M266.38 267.72v7.0M270.30 267.72v7.0M274.23 267.72v7.0M278.15 267.72v7.0M282.07 267.72v7.0M286.00 267.72v7.0M289.92 267.72v7.0M293.85 267.72v7.0M297.77 267.72v7.0M301.70 267.72v7.0M305.62 267.72v7.0M309.55 267.72v7.0M313.47 267.72v7.0M317.40 267.72v7.0M321.32 267.72v7.0M325.25 267.72v7.0M329.18 267.72v7.0M333.10 267.72v7.0M337.02 267.72v7.0M340.95 267.72v7.0M344.88 267.72v7.0M348.80 267.72v7.0M352.72 267.72v7.0M356.65 267.72v7.0M360.57 267.72v7.0M364.50 267.72v7.0M368.43 267.72v7.0M372.35 267.72v7.0M376.27 267.72v7.0M380.20 267.72v7.0M384.12 267.72v7.0M388.05 267.72v7.0M391.97 267.72v7.0M395.90 267.72v7.0M399.82 267.72v7.0M403.75 267.72v7.0M407.68 267.72v7.0M411.60 267.72v7.0M415.52 267.72v7.0M419.45 267.72v7.0M423.38 267.72v7.0M427.30 267.72v7.0M431.22 267.72v7.0M435.15 267.72v7.0M439.07 267.72v7.0" fill="none" stroke="#e2dcdc" stroke-width="0.6" stroke-opacity="0.8"/>
<rect x="50.50" y="276.74" width="3.92" height="7.00" fill="#fafaf9"/>
<rect x="54.42" y="276.74" width="3.92" height="7.00" fill="#fafaf9"/>
<rect x="58.35" y="276.74" width="3.92" height="7.00" fill="#fafaf9"/>
<rect x="62.27" y="276.74" width="3.92" height="7.00" fill="#fafaf9"/>
<rect x="66.20" y="276.74" width="3.92" height="7.00" fill="#fafaf9"/>
<rect x="70.12" y="276.74" width="3.92" height="7.00" fill="#fafaf9"/>
<rect x="74.05" y="276.74" width="3.92" height="7.00" fill="#fafaf9"/>
<rect x="77.97" y="276.74" width="3.92" height="7.00" fill="#fafaf9"/>
<rect x="81.90" y="276.74" width="3.92" height="7.00" fill="#fafaf9"/>
<rect x="85.82" y="276.74" width="3.92" height="7.00" fill="#fafaf9"/>
<rect x="89.75" y="276.74" width="3.92" height="7.00" fill="#fafaf9"/>
<rect x="93.67" y="276.74" width="3.92" height="7.00" fill="#fafaf9"/>
<rect x="97.60" y="276.74" width="3.92" height="7.00" fill="#fafaf9"/>
<rect x="101.53" y="276.74" width="3.92" height="7.00" fill="#fafaf9"/>
<rect x="105.45" y="276.74" width="3.92" height="7.00" fill="#fafaf9"/>
<rect x="109.38" y="276.74" width="3.92" height="7.00" fill="#fafaf9"/>
<rect x="113.30" y="276.74" width="3.92" height="7.00" fill="#fafaf9"/>
<rect x="117.22" y="276.74" width="3.92" height="7.00" fill="#fafaf9"/>
<rect x="121.15" y="276.74" width="3.92" height="7.00" fill="#fafaf9"/>
<rect x="125.08" y="276.74" width="3.92" height="7.00" fill="#fafaf9"/>
<rect x="129.00" y="276.74" width="3.92" height="7.00" fill="#fafaf9"/>
<rect x="132.93" y="276.74" width="3.92" height="7.00" fill="#fafaf9"/>
<rect x="136.85" y="276.74" width="3.92" height="7.00" fill="#fafaf9"/>
<rect x="140.77" y="276.74" width="3.92" height="7.00" fill="#fafaf9"/>
<rect x="144.70" y="276.74" width="3.92" height="7.00" fill="#fafaf9"/>
<rect x="148.62" y="276.74" width="3.92" height="7.00" fill="#fafaf9"/>
<rect x="152.55" y="276.74" width="3.92" height="7.00" fill="#fafaf9"/>
<rect x="156.47" y="276.74" width="3.92" height="7.00" fill="#fafaf9"/>
<rect x="160.40" y="276.74" width="3.92" height="7.00" fill="#fafaf9"/>
<rect x="164.32" y="276.74" width="3.92" height="7.00" fill="#fafaf9"/>
<rect x="168.25" y="276.74" width="3.92" height="7.00" fill="#fafaf9"/>
<rect x="172.18" y="276.74" width="3.92" height="7.00" fill="#fafaf9"/>
<rect x="176.10" y="276.74" width="3.92" height="7.00" fill="#fafaf9"/>
<rect x="180.03" y="276.74" width="3.92" height="7.00" fill="#fafaf9"/>
<rect x="183.95" y="276.74" width="3.92" height="7.00" fill="#fafaf9"/>
<rect x="187.88" y="276.74" width="3.92" height="7.00" fill="#fafaf9"/>
<rect x="191.80" y="276.74" width="3.92" height="7.00" fill="#fafaf9"/>
<rect x="195.72" y="276.74" width="3.92" height="7.00" fill="#fafaf9"/>
<rect x="199.65" y="276.74" width="3.92" height="7.00" fill="#fafaf9"/>
<rect x="203.57" y="276.74" width="3.92" height="7.00" fill="#fafaf9"/>
<rect x="207.50" y="276.74" width="3.92" height="7.00" fill="#fafaf9"/>
<rect x="211.42" y="276.74" width="3.92" height="7.00" fill="#fafaf9"/>
<rect x="215.35" y="276.74" width="3.92" height="7.00" fill="#fafaf9"/>
<rect x="219.28" y="276.74" width="3.92" height="7.00" fill="#fafaf9"/>
<rect x="223.20" y="276.74" width="3.92" height="7.00" fill="#fafaf9"/>
<rect x="227.12" y="276.74" width="3.92" height="7.00" fill="#fafaf9"/>
<rect x="231.05" y="276.74" width="3.92" height="7.00" fill="#fafaf9"/>
<rect x="234.97" y="276.74" width="3.92" height="7.00" fill="#fafaf9"/>
<rect x="238.90" y="276.74" width="3.92" height="7.00" fill="#fafaf9"/>
<rect x="242.82" y="276.74" width="3.92" height="7.00" fill="#fafaf9"/>
<rect x="246.75" y="276.74" width="3.92" height="7.00" fill="#fafaf9"/>
<rect x="250.67" y="276.74" width="3.92" height="7.00" fill="#fafaf9"/>
<rect x="254.60" y="276.74" width="3.92" height="7.00" fill="#fafaf9"/>
<rect x="258.52" y="276.74" width="3.92" height="7.00" fill="#fafaf9"/>
<rect x="262.45" y="276.74" width="3.92" height="7.00" fill="#fafaf9"/>
<rect x="266.38" y="276.74" width="3.92" height="7.00" fill="#fafaf9"/>
<rect x="270.30" y="276.74" width="3.92" height="7.00" fill="#fafaf9"/>
<rect x="274.23" y="276.74" width="3.92" height="7.00" fill="#fafaf9"/>
<rect x="278.15" y="276.74" width="3.92" height="7.00" fill="#fafaf9"/>
<rect x="282.07" y="276.74" width="3.92" height="7.00" fill="#fafaf9"/>
<rect x="286.00" y="276.74" width="3.92" height="7.00" fill="#fafaf9"/>
<rect x="289.92" y="276.74" width="3.92" height="7.00" fill="#fafaf9"/>
<rect x="293.85" y="276.74" width="3.92" height="7.00" fill="#fafaf9"/>
<rect x="297.77" y="276.74" width="3.92" height="7.00" fill="#fafaf9"/>
<rect x="301.70" y="276.74" width="3.92" height="7.00" fill="#fafaf9"/>
<rect x="305.62" y="276.74" width="3.92" height="7.00" fill="#fafaf9"/>
<rect x="309.55" y="276.74" width="3.92" height="7.00" fill="#1b5b33"/>
<rect x="313.47" y="276.74" width="3.92" height="7.00" fill="#1b5b33"/>
<rect x="317.40" y="276.74" width="3.92" height="7.00" fill="#1b5b33"/>
<rect x="321.32" y="276.74" width="3.92" height="7.00" fill="#1b5b33"/>
<rect x="325.25" y="276.74" width="3.92" height="7.00" fill="#1b5b33"/>
<rect x="329.18" y="276.74" width="3.92" height="7.00" fill="#1b5b33"/>
<rect x="333.10" y="276.74" width="3.92" height="7.00" fill="#1b5b33"/>
<rect x="337.02" y="276.74" width="3.92" height="7.00" fill="#1b5b33"/>
<rect x="340.95" y="276.74" width="3.92" height="7.00" fill="#1b5b33"/>
<rect x="344.88" y="276.74" width="3.92" height="7.00" fill="#1b5b33"/>
<rect x="348.80" y="276.74" width="3.92" height="7.00" fill="#1b5b33"/>
<rect x="352.72" y="276.74" width="3.92" height="7.00" fill="#1b5b33"/>
<rect x="356.65" y="276.74" width="3.92" height="7.00" fill="#1b5b33"/>
<rect x="360.57" y="276.74" width="3.92" height="7.00" fill="#1b5b33"/>
<rect x="364.50" y="276.74" width="3.92" height="7.00" fill="#1b5b33"/>
<rect x="368.43" y="276.74" width="3.92" height="7.00" fill="#1b5b33"/>
<rect x="372.35" y="276.74" width="3.92" height="7.00" fill="#1b5b33"/>
<rect x="376.27" y="276.74" width="3.92" height="7.00" fill="#1b5b33"/>
<rect x="380.20" y="276.74" width="3.92" height="7.00" fill="#1b5b33"/>
<rect x="384.12" y="276.74" width="3.92" height="7.00" fill="#1b5b33"/>
<rect x="388.05" y="276.74" width="3.92" height="7.00" fill="#1b5b33"/>
<rect x="391.97" y="276.74" width="3.92" height="7.00" fill="#1b5b33"/>
<rect x="395.90" y="276.74" width="3.92" height="7.00" fill="#1b5b33"/>
<rect x="399.82" y="276.74" width="3.92" height="7.00" fill="#1b5b33"/>
<rect x="403.75" y="276.74" width="3.92" height="7.00" fill="#1b5b33"/>
<rect x="407.68" y="276.74" width="3.92" height="7.00" fill="#1b5b33"/>
<rect x="411.60" y="276.74" width="3.92" height="7.00" fill="#1b5b33"/>
<rect x="415.52" y="276.74" width="3.92" height="7.00" fill="#1b5b33"/>
<rect x="419.45" y="276.74" width="3.92" height="7.00" fill="#1b5b33"/>
<rect x="423.38" y="276.74" width="3.92" height="7.00" fill="#1b5b33"/>
<rect x="427.30" y="276.74" width="3.92" height="7.00" fill="#1b5b33"/>
<rect x="431.22" y="276.74" width="3.92" height="7.00" fill="#1b5b33"/>
<rect x="435.15" y="276.74" width="3.92" height="7.00" fill="#1b5b33"/>
<rect x="439.07" y="276.74" width="3.92" height="7.00" fill="#1b5b33"/>
<path d="M54.42 276.74v7.0M58.35 276.74v7.0M62.27 276.74v7.0M66.20 276.74v7.0M70.12 276.74v7.0M74.05 276.74v7.0M77.97 276.74v7.0M81.90 276.74v7.0M85.82 276.74v7.0M89.75 276.74v7.0M93.67 276.74v7.0M97.60 276.74v7.0M101.53 276.74v7.0M105.45 276.74v7.0M109.38 276.74v7.0M113.30 276.74v7.0M117.22 276.74v7.0M121.15 276.74v7.0M125.08 276.74v7.0M129.00 276.74v7.0M132.93 276.74v7.0M136.85 276.74v7.0M140.77 276.74v7.0M144.70 276.74v7.0M148.62 276.74v7.0M152.55 276.74v7.0M156.47 276.74v7.0M160.40 276.74v7.0M164.32 276.74v7.0M168.25 276.74v7.0M172.18 276.74v7.0M176.10 276.74v7.0M180.03 276.74v7.0M183.95 276.74v7.0M187.88 276.74v7.0M191.80 276.74v7.0M195.72 276.74v7.0M199.65 276.74v7.0M203.57 276.74v7.0M207.50 276.74v7.0M211.42 276.74v7.0M215.35 276.74v7.0M219.28 276.74v7.0M223.20 276.74v7.0M227.12 276.74v7.0M231.05 276.74v7.0M234.97 276.74v7.0M238.90 276.74v7.0M242.82 276.74v7.0M246.75 276.74v7.0M250.67 276.74v7.0M254.60 276.74v7.0M258.52 276.74v7.0M262.45 276.74v7.0M266.38 276.74v7.0M270.30 276.74v7.0M274.23 276.74v7.0M278.15 276.74v7.0M282.07 276.74v7.0M286.00 276.74v7.0M289.92 276.74v7.0M293.85 276.74v7.0M297.77 276.74v7.0M301.70 276.74v7.0M305.62 276.74v7.0M309.55 276.74v7.0M313.47 276.74v7.0M317.40 276.74v7.0M321.32 276.74v7.0M325.25 276.74v7.0M329.18 276.74v7.0M333.10 276.74v7.0M337.02 276.74v7.0M340.95 276.74v7.0M344.88 276.74v7.0M348.80 276.74v7.0M352.72 276.74v7.0M356.65 276.74v7.0M360.57 276.74v7.0M364.50 276.74v7.0M368.43 276.74v7.0M372.35 276.74v7.0M376.27 276.74v7.0M380.20 276.74v7.0M384.12 276.74v7.0M388.05 276.74v7.0M391.97 276.74v7.0M395.90 276.74v7.0M399.82 276.74v7.0M403.75 276.74v7.0M407.68 276.74v7.0M411.60 276.74v7.0M415.52 276.74v7.0M419.45 276.74v7.0M423.38 276.74v7.0M427.30 276.74v7.0M431.22 276.74v7.0M435.15 276.74v7.0M439.07 276.74v7.0" fill="none" stroke="#e2dcdc" stroke-width="0.6" stroke-opacity="0.8"/>
<rect x="50.50" y="285.76" width="3.92" height="7.00" fill="#faf8f8"/>
<rect x="54.42" y="285.76" width="3.92" height="7.00" fill="#faf8f8"/>
<rect x="58.35" y="285.76" width="3.92" height="7.00" fill="#faf8f8"/>
<rect x="62.27" y="285.76" width="3.92" height="7.00" fill="#faf8f8"/>
<rect x="66.20" y="285.76" width="3.92" height="7.00" fill="#faf8f8"/>
<rect x="70.12" y="285.76" width="3.92" height="7.00" fill="#faf8f8"/>
<rect x="74.05" y="285.76" width="3.92" height="7.00" fill="#faf8f8"/>
<rect x="77.97" y="285.76" width="3.92" height="7.00" fill="#faf8f8"/>
<rect x="81.90" y="285.76" width="3.92" height="7.00" fill="#faf8f8"/>
<rect x="85.82" y="285.76" width="3.92" height="7.00" fill="#faf8f8"/>
<rect x="89.75" y="285.76" width="3.92" height="7.00" fill="#faf8f8"/>
<rect x="93.67" y="285.76" width="3.92" height="7.00" fill="#faf8f8"/>
<rect x="97.60" y="285.76" width="3.92" height="7.00" fill="#faf8f8"/>
<rect x="101.53" y="285.76" width="3.92" height="7.00" fill="#faf8f8"/>
<rect x="105.45" y="285.76" width="3.92" height="7.00" fill="#faf8f8"/>
<rect x="109.38" y="285.76" width="3.92" height="7.00" fill="#faf8f8"/>
<rect x="113.30" y="285.76" width="3.92" height="7.00" fill="#faf8f8"/>
<rect x="117.22" y="285.76" width="3.92" height="7.00" fill="#faf8f8"/>
<rect x="121.15" y="285.76" width="3.92" height="7.00" fill="#faf8f8"/>
<rect x="125.08" y="285.76" width="3.92" height="7.00" fill="#faf8f8"/>
<rect x="129.00" y="285.76" width="3.92" height="7.00" fill="#faf8f8"/>
<rect x="132.93" y="285.76" width="3.92" height="7.00" fill="#faf8f8"/>
<rect x="136.85" y="285.76" width="3.92" height="7.00" fill="#faf8f8"/>
<rect x="140.77" y="285.76" width="3.92" height="7.00" fill="#faf8f8"/>
<rect x="144.70" y="285.76" width="3.92" height="7.00" fill="#faf8f8"/>
<rect x="148.62" y="285.76" width="3.92" height="7.00" fill="#faf8f8"/>
<rect x="152.55" y="285.76" width="3.92" height="7.00" fill="#faf8f8"/>
<rect x="156.47" y="285.76" width="3.92" height="7.00" fill="#faf8f8"/>
<rect x="160.40" y="285.76" width="3.92" height="7.00" fill="#faf8f8"/>
<rect x="164.32" y="285.76" width="3.92" height="7.00" fill="#faf8f8"/>
<rect x="168.25" y="285.76" width="3.92" height="7.00" fill="#faf8f8"/>
<rect x="172.18" y="285.76" width="3.92" height="7.00" fill="#faf8f8"/>
<rect x="176.10" y="285.76" width="3.92" height="7.00" fill="#faf8f8"/>
<rect x="180.03" y="285.76" width="3.92" height="7.00" fill="#faf8f8"/>
<rect x="183.95" y="285.76" width="3.92" height="7.00" fill="#faf8f8"/>
<rect x="187.88" y="285.76" width="3.92" height="7.00" fill="#faf8f8"/>
<rect x="191.80" y="285.76" width="3.92" height="7.00" fill="#faf8f8"/>
<rect x="195.72" y="285.76" width="3.92" height="7.00" fill="#faf8f8"/>
<rect x="199.65" y="285.76" width="3.92" height="7.00" fill="#faf8f8"/>
<rect x="203.57" y="285.76" width="3.92" height="7.00" fill="#faf8f8"/>
<rect x="207.50" y="285.76" width="3.92" height="7.00" fill="#faf8f8"/>
<rect x="211.42" y="285.76" width="3.92" height="7.00" fill="#faf8f8"/>
<rect x="215.35" y="285.76" width="3.92" height="7.00" fill="#faf8f8"/>
<rect x="219.28" y="285.76" width="3.92" height="7.00" fill="#faf8f8"/>
<rect x="223.20" y="285.76" width="3.92" height="7.00" fill="#faf8f8"/>
<rect x="227.12" y="285.76" width="3.92" height="7.00" fill="#faf8f8"/>
<rect x="231.05" y="285.76" width="3.92" height="7.00" fill="#faf8f8"/>
<rect x="234.97" y="285.76" width="3.92" height="7.00" fill="#faf8f8"/>
<rect x="238.90" y="285.76" width="3.92" height="7.00" fill="#faf8f8"/>
<rect x="242.82" y="285.76" width="3.92" height="7.00" fill="#faf8f8"/>
<rect x="246.75" y="285.76" width="3.92" height="7.00" fill="#faf8f8"/>
<rect x="250.67" y="285.76" width="3.92" height="7.00" fill="#121212"/>
<rect x="254.60" y="285.76" width="3.92" height="7.00" fill="#121212"/>
<rect x="258.52" y="285.76" width="3.92" height="7.00" fill="#121212"/>
<rect x="262.45" y="285.76" width="3.92" height="7.00" fill="#121212"/>
<rect x="266.38" y="285.76" width="3.92" height="7.00" fill="#121212"/>
<rect x="270.30" y="285.76" width="3.92" height="7.00" fill="#121212"/>
<rect x="274.23" y="285.76" width="3.92" height="7.00" fill="#121212"/>
<rect x="278.15" y="285.76" width="3.92" height="7.00" fill="#121212"/>
<rect x="282.07" y="285.76" width="3.92" height="7.00" fill="#121212"/>
<rect x="286.00" y="285.76" width="3.92" height="7.00" fill="#121212"/>
<rect x="289.92" y="285.76" width="3.92" height="7.00" fill="#121212"/>
<rect x="293.85" y="285.76" width="3.92" height="7.00" fill="#121212"/>
<rect x="297.77" y="285.76" width="3.92" height="7.00" fill="#121212"/>
<rect x="301.70" y="285.76" width="3.92" height="7.00" fill="#121212"/>
<rect x="305.62" y="285.76" width="3.92" height="7.00" fill="#121212"/>
<rect x="309.55" y="285.76" width="3.92" height="7.00" fill="#faf8f8"/>
<rect x="313.47" y="285.76" width="3.92" height="7.00" fill="#faf8f8"/>
<rect x="317.40" y="285.76" width="3.92" height="7.00" fill="#faf8f8"/>
<rect x="321.32" y="285.76" width="3.92" height="7.00" fill="#faf8f8"/>
<rect x="325.25" y="285.76" width="3.92" height="7.00" fill="#faf8f8"/>
<rect x="329.18" y="285.76" width="3.92" height="7.00" fill="#faf8f8"/>
<rect x="333.10" y="285.76" width="3.92" height="7.00" fill="#faf8f8"/>
<rect x="337.02" y="285.76" width="3.92" height="7.00" fill="#121212"/>
<rect x="340.95" y="285.76" width="3.92" height="7.00" fill="#121212"/>
<rect x="344.88" y="285.76" width="3.92" height="7.00" fill="#121212"/>
<rect x="348.80" y="285.76" width="3.92" height="7.00" fill="#121212"/>
<rect x="352.72" y="285.76" width="3.92" height="7.00" fill="#121212"/>
<rect x="356.65" y="285.76" width="3.92" height="7.00" fill="#121212"/>
<rect x="360.57" y="285.76" width="3.92" height="7.00" fill="#121212"/>
<rect x="364.50" y="285.76" width="3.92" height="7.00" fill="#121212"/>
<rect x="368.43" y="285.76" width="3.92" height="7.00" fill="#121212"/>
<rect x="372.35" y="285.76" width="3.92" height="7.00" fill="#121212"/>
<rect x="376.27" y="285.76" width="3.92" height="7.00" fill="#121212"/>
<rect x="380.20" y="285.76" width="3.92" height="7.00" fill="#121212"/>
<rect x="384.12" y="285.76" width="3.92" height="7.00" fill="#121212"/>
<rect x="388.05" y="285.76" width="3.92" height="7.00" fill="#121212"/>
<rect x="391.97" y="285.76" width="3.92" height="7.00" fill="#121212"/>
<rect x="395.90" y="285.76" width="3.92" height="7.00" fill="#121212"/>
<rect x="399.82" y="285.76" width="3.92" height="7.00" fill="#121212"/>
<rect x="403.75" y="285.76" width="3.92" height="7.00" fill="#121212"/>
<rect x="407.68" y="285.76" width="3.92" height="7.00" fill="#121212"/>
<rect x="411.60" y="285.76" width="3.92" height="7.00" fill="#121212"/>
<rect x="415.52" y="285.76" width="3.92" height="7.00" fill="#121212"/>
<rect x="419.45" y="285.76" width="3.92" height="7.00" fill="#121212"/>
<rect x="423.38" y="285.76" width="3.92" height="7.00" fill="#121212"/>
<rect x="427.30" y="285.76" width="3.92" height="7.00" fill="#121212"/>
<rect x="431.22" y="285.76" width="3.92" height="7.00" fill="#121212"/>
<rect x="435.15" y="285.76" width="3.92" height="7.00" fill="#121212"/>
<rect x="439.07" y="285.76" width="3.92" height="7.00" fill="#121212"/>
<path d="M54.42 285.76v7.0M58.35 285.76v7.0M62.27 285.76v7.0M66.20 285.76v7.0M70.12 285.76v7.0M74.05 285.76v7.0M77.97 285.76v7.0M81.90 285.76v7.0M85.82 285.76v7.0M89.75 285.76v7.0M93.67 285.76v7.0M97.60 285.76v7.0M101.53 285.76v7.0M105.45 285.76v7.0M109.38 285.76v7.0M113.30 285.76v7.0M117.22 285.76v7.0M121.15 285.76v7.0M125.08 285.76v7.0M129.00 285.76v7.0M132.93 285.76v7.0M136.85 285.76v7.0M140.77 285.76v7.0M144.70 285.76v7.0M148.62 285.76v7.0M152.55 285.76v7.0M156.47 285.76v7.0M160.40 285.76v7.0M164.32 285.76v7.0M168.25 285.76v7.0M172.18 285.76v7.0M176.10 285.76v7.0M180.03 285.76v7.0M183.95 285.76v7.0M187.88 285.76v7.0M191.80 285.76v7.0M195.72 285.76v7.0M199.65 285.76v7.0M203.57 285.76v7.0M207.50 285.76v7.0M211.42 285.76v7.0M215.35 285.76v7.0M219.28 285.76v7.0M223.20 285.76v7.0M227.12 285.76v7.0M231.05 285.76v7.0M234.97 285.76v7.0M238.90 285.76v7.0M242.82 285.76v7.0M246.75 285.76v7.0M250.67 285.76v7.0M254.60 285.76v7.0M258.52 285.76v7.0M262.45 285.76v7.0M266.38 285.76v7.0M270.30 285.76v7.0M274.23 285.76v7.0M278.15 285.76v7.0M282.07 285.76v7.0M286.00 285.76v7.0M289.92 285.76v7.0M293.85 285.76v7.0M297.77 285.76v7.0M301.70 285.76v7.0M305.62 285.76v7.0M309.55 285.76v7.0M313.47 285.76v7.0M317.40 285.76v7.0M321.32 285.76v7.0M325.25 285.76v7.0M329.18 285.76v7.0M333.10 285.76v7.0M337.02 285.76v7.0M340.95 285.76v7.0M344.88 285.76v7.0M348.80 285.76v7.0M352.72 285.76v7.0M356.65 285.76v7.0M360.57 285.76v7.0M364.50 285.76v7.0M368.43 285.76v7.0M372.35 285.76v7.0M376.27 285.76v7.0M380.20 285.76v7.0M384.12 285.76v7.0M388.05 285.76v7.0M391.97 285.76v7.0M395.90 285.76v7.0M399.82 285.76v7.0M403.75 285.76v7.0M407.68 285.76v7.0M411.60 285.76v7.0M415.52 285.76v7.0M419.45 285.76v7.0M423.38 285.76v7.0M427.30 285.76v7.0M431.22 285.76v7.0M435.15 285.76v7.0M439.07 285.76v7.0" fill="none" stroke="#e2dcdc" stroke-width="0.6" stroke-opacity="0.8"/>
<rect x="50.50" y="294.78" width="3.92" height="7.00" fill="#b3b3b3"/>
<rect x="54.42" y="294.78" width="3.92" height="7.00" fill="#b3b3b3"/>
<rect x="58.35" y="294.78" width="3.92" height="7.00" fill="#b3b3b3"/>
<rect x="62.27" y="294.78" width="3.92" height="7.00" fill="#b3b3b3"/>
<rect x="66.20" y="294.78" width="3.92" height="7.00" fill="#b3b3b3"/>
<rect x="70.12" y="294.78" width="3.92" height="7.00" fill="#b3b3b3"/>
<rect x="74.05" y="294.78" width="3.92" height="7.00" fill="#62c6a2"/>
<rect x="77.97" y="294.78" width="3.92" height="7.00" fill="#b3b3b3"/>
<rect x="81.90" y="294.78" width="3.92" height="7.00" fill="#b3b3b3"/>
<rect x="85.82" y="294.78" width="3.92" height="7.00" fill="#62c6a2"/>
<rect x="89.75" y="294.78" width="3.92" height="7.00" fill="#62c6a2"/>
<rect x="93.67" y="294.78" width="3.92" height="7.00" fill="#b3b3b3"/>
<rect x="97.60" y="294.78" width="3.92" height="7.00" fill="#b3b3b3"/>
<rect x="101.53" y="294.78" width="3.92" height="7.00" fill="#b3b3b3"/>
<rect x="105.45" y="294.78" width="3.92" height="7.00" fill="#62c6a2"/>
<rect x="109.38" y="294.78" width="3.92" height="7.00" fill="#b3b3b3"/>
<rect x="113.30" y="294.78" width="3.92" height="7.00" fill="#b3b3b3"/>
<rect x="117.22" y="294.78" width="3.92" height="7.00" fill="#b3b3b3"/>
<rect x="121.15" y="294.78" width="3.92" height="7.00" fill="#62c6a2"/>
<rect x="125.08" y="294.78" width="3.92" height="7.00" fill="#62c6a2"/>
<rect x="129.00" y="294.78" width="3.92" height="7.00" fill="#b3b3b3"/>
<rect x="132.93" y="294.78" width="3.92" height="7.00" fill="#b3b3b3"/>
<rect x="136.85" y="294.78" width="3.92" height="7.00" fill="#b3b3b3"/>
<rect x="140.77" y="294.78" width="3.92" height="7.00" fill="#62c6a2"/>
<rect x="144.70" y="294.78" width="3.92" height="7.00" fill="#62c6a2"/>
<rect x="148.62" y="294.78" width="3.92" height="7.00" fill="#b3b3b3"/>
<rect x="152.55" y="294.78" width="3.92" height="7.00" fill="#b3b3b3"/>
<rect x="156.47" y="294.78" width="3.92" height="7.00" fill="#62c6a2"/>
<rect x="160.40" y="294.78" width="3.92" height="7.00" fill="#62c6a2"/>
<rect x="164.32" y="294.78" width="3.92" height="7.00" fill="#62c6a2"/>
<rect x="168.25" y="294.78" width="3.92" height="7.00" fill="#62c6a2"/>
<rect x="172.18" y="294.78" width="3.92" height="7.00" fill="#b3b3b3"/>
<rect x="176.10" y="294.78" width="3.92" height="7.00" fill="#62c6a2"/>
<rect x="180.03" y="294.78" width="3.92" height="7.00" fill="#b3b3b3"/>
<rect x="183.95" y="294.78" width="3.92" height="7.00" fill="#62c6a2"/>
<rect x="187.88" y="294.78" width="3.92" height="7.00" fill="#b3b3b3"/>
<rect x="191.80" y="294.78" width="3.92" height="7.00" fill="#62c6a2"/>
<rect x="195.72" y="294.78" width="3.92" height="7.00" fill="#62c6a2"/>
<rect x="199.65" y="294.78" width="3.92" height="7.00" fill="#b3b3b3"/>
<rect x="203.57" y="294.78" width="3.92" height="7.00" fill="#62c6a2"/>
<rect x="207.50" y="294.78" width="3.92" height="7.00" fill="#62c6a2"/>
<rect x="211.42" y="294.78" width="3.92" height="7.00" fill="#62c6a2"/>
<rect x="215.35" y="294.78" width="3.92" height="7.00" fill="#62c6a2"/>
<rect x="219.28" y="294.78" width="3.92" height="7.00" fill="#62c6a2"/>
<rect x="223.20" y="294.78" width="3.92" height="7.00" fill="#62c6a2"/>
<rect x="227.12" y="294.78" width="3.92" height="7.00" fill="#62c6a2"/>
<rect x="231.05" y="294.78" width="3.92" height="7.00" fill="#62c6a2"/>
<rect x="234.97" y="294.78" width="3.92" height="7.00" fill="#62c6a2"/>
<rect x="238.90" y="294.78" width="3.92" height="7.00" fill="#b3b3b3"/>
<rect x="242.82" y="294.78" width="3.92" height="7.00" fill="#62c6a2"/>
<rect x="246.75" y="294.78" width="3.92" height="7.00" fill="#62c6a2"/>
<rect x="250.67" y="294.78" width="3.92" height="7.00" fill="#62c6a2"/>
<rect x="254.60" y="294.78" width="3.92" height="7.00" fill="#62c6a2"/>
<rect x="258.52" y="294.78" width="3.92" height="7.00" fill="#b3b3b3"/>
<rect x="262.45" y="294.78" width="3.92" height="7.00" fill="#b3b3b3"/>
<rect x="266.38" y="294.78" width="3.92" height="7.00" fill="#b3b3b3"/>
<rect x="270.30" y="294.78" width="3.92" height="7.00" fill="#62c6a2"/>
<rect x="274.23" y="294.78" width="3.92" height="7.00" fill="#b3b3b3"/>
<rect x="278.15" y="294.78" width="3.92" height="7.00" fill="#62c6a2"/>
<rect x="282.07" y="294.78" width="3.92" height="7.00" fill="#b3b3b3"/>
<rect x="286.00" y="294.78" width="3.92" height="7.00" fill="#62c6a2"/>
<rect x="289.92" y="294.78" width="3.92" height="7.00" fill="#b3b3b3"/>
<rect x="293.85" y="294.78" width="3.92" height="7.00" fill="#b3b3b3"/>
<rect x="297.77" y="294.78" width="3.92" height="7.00" fill="#62c6a2"/>
<rect x="301.70" y="294.78" width="3.92" height="7.00" fill="#b3b3b3"/>
<rect x="305.62" y="294.78" width="3.92" height="7.00" fill="#62c6a2"/>
<rect x="309.55" y="294.78" width="3.92" height="7.00" fill="#b3b3b3"/>
<rect x="313.47" y="294.78" width="3.92" height="7.00" fill="#b3b3b3"/>
<rect x="317.40" y="294.78" width="3.92" height="7.00" fill="#62c6a2"/>
<rect x="321.32" y="294.78" width="3.92" height="7.00" fill="#b3b3b3"/>
<rect x="325.25" y="294.78" width="3.92" height="7.00" fill="#b3b3b3"/>
<rect x="329.18" y="294.78" width="3.92" height="7.00" fill="#62c6a2"/>
<rect x="333.10" y="294.78" width="3.92" height="7.00" fill="#b3b3b3"/>
<rect x="337.02" y="294.78" width="3.92" height="7.00" fill="#b3b3b3"/>
<rect x="340.95" y="294.78" width="3.92" height="7.00" fill="#b3b3b3"/>
<rect x="344.88" y="294.78" width="3.92" height="7.00" fill="#62c6a2"/>
<rect x="348.80" y="294.78" width="3.92" height="7.00" fill="#62c6a2"/>
<rect x="352.72" y="294.78" width="3.92" height="7.00" fill="#62c6a2"/>
<rect x="356.65" y="294.78" width="3.92" height="7.00" fill="#b3b3b3"/>
<rect x="360.57" y="294.78" width="3.92" height="7.00" fill="#b3b3b3"/>
<rect x="364.50" y="294.78" width="3.92" height="7.00" fill="#62c6a2"/>
<rect x="368.43" y="294.78" width="3.92" height="7.00" fill="#b3b3b3"/>
<rect x="372.35" y="294.78" width="3.92" height="7.00" fill="#b3b3b3"/>
<rect x="376.27" y="294.78" width="3.92" height="7.00" fill="#b3b3b3"/>
<rect x="380.20" y="294.78" width="3.92" height="7.00" fill="#b3b3b3"/>
<rect x="384.12" y="294.78" width="3.92" height="7.00" fill="#b3b3b3"/>
<rect x="388.05" y="294.78" width="3.92" height="7.00" fill="#b3b3b3"/>
<rect x="391.97" y="294.78" width="3.92" height="7.00" fill="#62c6a2"/>
<rect x="395.90" y="294.78" width="3.92" height="7.00" fill="#b3b3b3"/>
<rect x="399.82" y="294.78" width="3.92" height="7.00" fill="#b3b3b3"/>
<rect x="403.75" y="294.78" width="3.92" height="7.00" fill="#62c6a2"/>
<rect x="407.68" y="294.78" width="3.92" height="7.00" fill="#b3b3b3"/>
<rect x="411.60" y="294.78" width="3.92" height="7.00" fill="#b3b3b3"/>
<rect x="415.52" y="294.78" width="3.92" height="7.00" fill="#b3b3b3"/>
<rect x="419.45" y="294.78" width="3.92" height="7.00" fill="#b3b3b3"/>
<rect x="423.38" y="294.78" width="3.92" height="7.00" fill="#62c6a2"/>
<rect x="427.30" y="294.78" width="3.92" height="7.00" fill="#62c6a2"/>
<rect x="431.22" y="294.78" width="3.92" height="7.00" fill="#b3b3b3"/>
<rect x="435.15" y="294.78" width="3.92" height="7.00" fill="#b3b3b3"/>
<rect x="439.07" y="294.78" width="3.92" height="7.00" fill="#62c6a2"/>
<path d="M54.42 294.78v7.0M58.35 294.78v7.0M62.27 294.78v7.0M66.20 294.78v7.0M70.12 294.78v7.0M74.05 294.78v7.0M77.97 294.78v7.0M81.90 294.78v7.0M85.82 294.78v7.0M89.75 294.78v7.0M93.67 294.78v7.0M97.60 294.78v7.0M101.53 294.78v7.0M105.45 294.78v7.0M109.38 294.78v7.0M113.30 294.78v7.0M117.22 294.78v7.0M121.15 294.78v7.0M125.08 294.78v7.0M129.00 294.78v7.0M132.93 294.78v7.0M136.85 294.78v7.0M140.77 294.78v7.0M144.70 294.78v7.0M148.62 294.78v7.0M152.55 294.78v7.0M156.47 294.78v7.0M160.40 294.78v7.0M164.32 294.78v7.0M168.25 294.78v7.0M172.18 294.78v7.0M176.10 294.78v7.0M180.03 294.78v7.0M183.95 294.78v7.0M187.88 294.78v7.0M191.80 294.78v7.0M195.72 294.78v7.0M199.65 294.78v7.0M203.57 294.78v7.0M207.50 294.78v7.0M211.42 294.78v7.0M215.35 294.78v7.0M219.28 294.78v7.0M223.20 294.78v7.0M227.12 294.78v7.0M231.05 294.78v7.0M234.97 294.78v7.0M238.90 294.78v7.0M242.82 294.78v7.0M246.75 294.78v7.0M250.67 294.78v7.0M254.60 294.78v7.0M258.52 294.78v7.0M262.45 294.78v7.0M266.38 294.78v7.0M270.30 294.78v7.0M274.23 294.78v7.0M278.15 294.78v7.0M282.07 294.78v7.0M286.00 294.78v7.0M289.92 294.78v7.0M293.85 294.78v7.0M297.77 294.78v7.0M301.70 294.78v7.0M305.62 294.78v7.0M309.55 294.78v7.0M313.47 294.78v7.0M317.40 294.78v7.0M321.32 294.78v7.0M325.25 294.78v7.0M329.18 294.78v7.0M333.10 294.78v7.0M337.02 294.78v7.0M340.95 294.78v7.0M344.88 294.78v7.0M348.80 294.78v7.0M352.72 294.78v7.0M356.65 294.78v7.0M360.57 294.78v7.0M364.50 294.78v7.0M368.43 294.78v7.0M372.35 294.78v7.0M376.27 294.78v7.0M380.20 294.78v7.0M384.12 294.78v7.0M388.05 294.78v7.0M391.97 294.78v7.0M395.90 294.78v7.0M399.82 294.78v7.0M403.75 294.78v7.0M407.68 294.78v7.0M411.60 294.78v7.0M415.52 294.78v7.0M419.45 294.78v7.0M423.38 294.78v7.0M427.30 294.78v7.0M431.22 294.78v7.0M435.15 294.78v7.0M439.07 294.78v7.0" fill="none" stroke="#e2dcdc" stroke-width="0.6" stroke-opacity="0.8"/>
<rect x="50.50" y="303.80" width="3.92" height="7.00" fill="#fad8a8"/>
<rect x="54.42" y="303.80" width="3.92" height="7.00" fill="#fad8a8"/>
<rect x="58.35" y="303.80" width="3.92" height="7.00" fill="#fad8a8"/>
<rect x="62.27" y="303.80" width="3.92" height="7.00" fill="#fad8a8"/>
<rect x="66.20" y="303.80" width="3.92" height="7.00" fill="#fad8a8"/>
<rect x="70.12" y="303.80" width="3.92" height="7.00" fill="#fad8a8"/>
<rect x="74.05" y="303.80" width="3.92" height="7.00" fill="#fad8a8"/>
<rect x="77.97" y="303.80" width="3.92" height="7.00" fill="#fad8a8"/>
<rect x="81.90" y="303.80" width="3.92" height="7.00" fill="#fad8a8"/>
<rect x="85.82" y="303.80" width="3.92" height="7.00" fill="#f1f0f6"/>
<rect x="89.75" y="303.80" width="3.92" height="7.00" fill="#f1f0f6"/>
<rect x="93.67" y="303.80" width="3.92" height="7.00" fill="#fad8a8"/>
<rect x="97.60" y="303.80" width="3.92" height="7.00" fill="#fad8a8"/>
<rect x="101.53" y="303.80" width="3.92" height="7.00" fill="#fad8a8"/>
<rect x="105.45" y="303.80" width="3.92" height="7.00" fill="#fad8a8"/>
<rect x="109.38" y="303.80" width="3.92" height="7.00" fill="#fad8a8"/>
<rect x="113.30" y="303.80" width="3.92" height="7.00" fill="#fad8a8"/>
<rect x="117.22" y="303.80" width="3.92" height="7.00" fill="#fad8a8"/>
<rect x="121.15" y="303.80" width="3.92" height="7.00" fill="#f2bdb0"/>
<rect x="125.08" y="303.80" width="3.92" height="7.00" fill="#fad8a8"/>
<rect x="129.00" y="303.80" width="3.92" height="7.00" fill="#f2bdb0"/>
<rect x="132.93" y="303.80" width="3.92" height="7.00" fill="#fad8a8"/>
<rect x="136.85" y="303.80" width="3.92" height="7.00" fill="#fad8a8"/>
<rect x="140.77" y="303.80" width="3.92" height="7.00" fill="#fad8a8"/>
<rect x="144.70" y="303.80" width="3.92" height="7.00" fill="#fad8a8"/>
<rect x="148.62" y="303.80" width="3.92" height="7.00" fill="#fad8a8"/>
<rect x="152.55" y="303.80" width="3.92" height="7.00" fill="#fad8a8"/>
<rect x="156.47" y="303.80" width="3.92" height="7.00" fill="#f1f0f6"/>
<rect x="160.40" y="303.80" width="3.92" height="7.00" fill="#fad8a8"/>
<rect x="164.32" y="303.80" width="3.92" height="7.00" fill="#fad8a8"/>
<rect x="168.25" y="303.80" width="3.92" height="7.00" fill="#fad8a8"/>
<rect x="172.18" y="303.80" width="3.92" height="7.00" fill="#fad8a8"/>
<rect x="176.10" y="303.80" width="3.92" height="7.00" fill="#fad8a8"/>
<rect x="180.03" y="303.80" width="3.92" height="7.00" fill="#fad8a8"/>
<rect x="183.95" y="303.80" width="3.92" height="7.00" fill="#fad8a8"/>
<rect x="187.88" y="303.80" width="3.92" height="7.00" fill="#fad8a8"/>
<rect x="191.80" y="303.80" width="3.92" height="7.00" fill="#fad8a8"/>
<rect x="195.72" y="303.80" width="3.92" height="7.00" fill="#fad8a8"/>
<rect x="199.65" y="303.80" width="3.92" height="7.00" fill="#fad8a8"/>
<rect x="203.57" y="303.80" width="3.92" height="7.00" fill="#f1f0f6"/>
<rect x="207.50" y="303.80" width="3.92" height="7.00" fill="#fad8a8"/>
<rect x="211.42" y="303.80" width="3.92" height="7.00" fill="#fad8a8"/>
<rect x="215.35" y="303.80" width="3.92" height="7.00" fill="#fad8a8"/>
<rect x="219.28" y="303.80" width="3.92" height="7.00" fill="#fad8a8"/>
<rect x="223.20" y="303.80" width="3.92" height="7.00" fill="#fad8a8"/>
<rect x="227.12" y="303.80" width="3.92" height="7.00" fill="#fad8a8"/>
<rect x="231.05" y="303.80" width="3.92" height="7.00" fill="#fad8a8"/>
<rect x="234.97" y="303.80" width="3.92" height="7.00" fill="#fad8a8"/>
<rect x="238.90" y="303.80" width="3.92" height="7.00" fill="#fad8a8"/>
<rect x="242.82" y="303.80" width="3.92" height="7.00" fill="#fad8a8"/>
<rect x="246.75" y="303.80" width="3.92" height="7.00" fill="#fad8a8"/>
<rect x="250.67" y="303.80" width="3.92" height="7.00" fill="#fad8a8"/>
<rect x="254.60" y="303.80" width="3.92" height="7.00" fill="#fad8a8"/>
<rect x="258.52" y="303.80" width="3.92" height="7.00" fill="#fad8a8"/>
<rect x="262.45" y="303.80" width="3.92" height="7.00" fill="#fad8a8"/>
<rect x="266.38" y="303.80" width="3.92" height="7.00" fill="#fad8a8"/>
<rect x="270.30" y="303.80" width="3.92" height="7.00" fill="#fad8a8"/>
<rect x="274.23" y="303.80" width="3.92" height="7.00" fill="#fad8a8"/>
<rect x="278.15" y="303.80" width="3.92" height="7.00" fill="#fad8a8"/>
<rect x="282.07" y="303.80" width="3.92" height="7.00" fill="#fad8a8"/>
<rect x="286.00" y="303.80" width="3.92" height="7.00" fill="#fad8a8"/>
<rect x="289.92" y="303.80" width="3.92" height="7.00" fill="#fad8a8"/>
<rect x="293.85" y="303.80" width="3.92" height="7.00" fill="#fad8a8"/>
<rect x="297.77" y="303.80" width="3.92" height="7.00" fill="#fad8a8"/>
<rect x="301.70" y="303.80" width="3.92" height="7.00" fill="#fad8a8"/>
<rect x="305.62" y="303.80" width="3.92" height="7.00" fill="#fad8a8"/>
<rect x="309.55" y="303.80" width="3.92" height="7.00" fill="#fad8a8"/>
<rect x="313.47" y="303.80" width="3.92" height="7.00" fill="#fad8a8"/>
<rect x="317.40" y="303.80" width="3.92" height="7.00" fill="#f2bdb0"/>
<rect x="321.32" y="303.80" width="3.92" height="7.00" fill="#fad8a8"/>
<rect x="325.25" y="303.80" width="3.92" height="7.00" fill="#fad8a8"/>
<rect x="329.18" y="303.80" width="3.92" height="7.00" fill="#fad8a8"/>
<rect x="333.10" y="303.80" width="3.92" height="7.00" fill="#f1f0f6"/>
<rect x="337.02" y="303.80" width="3.92" height="7.00" fill="#fad8a8"/>
<rect x="340.95" y="303.80" width="3.92" height="7.00" fill="#fad8a8"/>
<rect x="344.88" y="303.80" width="3.92" height="7.00" fill="#fad8a8"/>
<rect x="348.80" y="303.80" width="3.92" height="7.00" fill="#fad8a8"/>
<rect x="352.72" y="303.80" width="3.92" height="7.00" fill="#fad8a8"/>
<rect x="356.65" y="303.80" width="3.92" height="7.00" fill="#fad8a8"/>
<rect x="360.57" y="303.80" width="3.92" height="7.00" fill="#fad8a8"/>
<rect x="364.50" y="303.80" width="3.92" height="7.00" fill="#fad8a8"/>
<rect x="368.43" y="303.80" width="3.92" height="7.00" fill="#fad8a8"/>
<rect x="372.35" y="303.80" width="3.92" height="7.00" fill="#fad8a8"/>
<rect x="376.27" y="303.80" width="3.92" height="7.00" fill="#fad8a8"/>
<rect x="380.20" y="303.80" width="3.92" height="7.00" fill="#fad8a8"/>
<rect x="384.12" y="303.80" width="3.92" height="7.00" fill="#fad8a8"/>
<rect x="388.05" y="303.80" width="3.92" height="7.00" fill="#f1f0f6"/>
<rect x="391.97" y="303.80" width="3.92" height="7.00" fill="#f2bdb0"/>
<rect x="395.90" y="303.80" width="3.92" height="7.00" fill="#f1f0f6"/>
<rect x="399.82" y="303.80" width="3.92" height="7.00" fill="#fad8a8"/>
<rect x="403.75" y="303.80" width="3.92" height="7.00" fill="#fad8a8"/>
<rect x="407.68" y="303.80" width="3.92" height="7.00" fill="#fad8a8"/>
<rect x="411.60" y="303.80" width="3.92" height="7.00" fill="#fad8a8"/>
<rect x="415.52" y="303.80" width="3.92" height="7.00" fill="#fad8a8"/>
<rect x="419.45" y="303.80" width="3.92" height="7.00" fill="#fad8a8"/>
<rect x="423.38" y="303.80" width="3.92" height="7.00" fill="#fad8a8"/>
<rect x="427.30" y="303.80" width="3.92" height="7.00" fill="#fad8a8"/>
<rect x="431.22" y="303.80" width="3.92" height="7.00" fill="#fad8a8"/>
<rect x="435.15" y="303.80" width="3.92" height="7.00" fill="#f2bdb0"/>
<rect x="439.07" y="303.80" width="3.92" height="7.00" fill="#fad8a8"/>
<path d="M54.42 303.80v7.0M58.35 303.80v7.0M62.27 303.80v7.0M66.20 303.80v7.0M70.12 303.80v7.0M74.05 303.80v7.0M77.97 303.80v7.0M81.90 303.80v7.0M85.82 303.80v7.0M89.75 303.80v7.0M93.67 303.80v7.0M97.60 303.80v7.0M101.53 303.80v7.0M105.45 303.80v7.0M109.38 303.80v7.0M113.30 303.80v7.0M117.22 303.80v7.0M121.15 303.80v7.0M125.08 303.80v7.0M129.00 303.80v7.0M132.93 303.80v7.0M136.85 303.80v7.0M140.77 303.80v7.0M144.70 303.80v7.0M148.62 303.80v7.0M152.55 303.80v7.0M156.47 303.80v7.0M160.40 303.80v7.0M164.32 303.80v7.0M168.25 303.80v7.0M172.18 303.80v7.0M176.10 303.80v7.0M180.03 303.80v7.0M183.95 303.80v7.0M187.88 303.80v7.0M191.80 303.80v7.0M195.72 303.80v7.0M199.65 303.80v7.0M203.57 303.80v7.0M207.50 303.80v7.0M211.42 303.80v7.0M215.35 303.80v7.0M219.28 303.80v7.0M223.20 303.80v7.0M227.12 303.80v7.0M231.05 303.80v7.0M234.97 303.80v7.0M238.90 303.80v7.0M242.82 303.80v7.0M246.75 303.80v7.0M250.67 303.80v7.0M254.60 303.80v7.0M258.52 303.80v7.0M262.45 303.80v7.0M266.38 303.80v7.0M270.30 303.80v7.0M274.23 303.80v7.0M278.15 303.80v7.0M282.07 303.80v7.0M286.00 303.80v7.0M289.92 303.80v7.0M293.85 303.80v7.0M297.77 303.80v7.0M301.70 303.80v7.0M305.62 303.80v7.0M309.55 303.80v7.0M313.47 303.80v7.0M317.40 303.80v7.0M321.32 303.80v7.0M325.25 303.80v7.0M329.18 303.80v7.0M333.10 303.80v7.0M337.02 303.80v7.0M340.95 303.80v7.0M344.88 303.80v7.0M348.80 303.80v7.0M352.72 303.80v7.0M356.65 303.80v7.0M360.57 303.80v7.0M364.50 303.80v7.0M368.43 303.80v7.0M372.35 303.80v7.0M376.27 303.80v7.0M380.20 303.80v7.0M384.12 303.80v7.0M388.05 303.80v7.0M391.97 303.80v7.0M395.90 303.80v7.0M399.82 303.80v7.0M403.75 303.80v7.0M407.68 303.80v7.0M411.60 303.80v7.0M415.52 303.80v7.0M419.45 303.80v7.0M423.38 303.80v7.0M427.30 303.80v7.0M431.22 303.80v7.0M435.15 303.80v7.0M439.07 303.80v7.0" fill="none" stroke="#e2dcdc" stroke-width="0.6" stroke-opacity="0.8"/>
<rect x="50.50" y="312.82" width="3.92" height="7.00" fill="#f8f7fc"/>
<rect x="54.42" y="312.82" width="3.92" height="7.00" fill="#f8f7fc"/>
<rect x="58.35" y="312.82" width="3.92" height="7.00" fill="#f8f7fc"/>
<rect x="62.27" y="312.82" width="3.92" height="7.00" fill="#f8f7fc"/>
<rect x="66.20" y="312.82" width="3.92" height="7.00" fill="#f8f7fc"/>
<rect x="70.12" y="312.82" width="3.92" height="7.00" fill="#f8f7fc"/>
<rect x="74.05" y="312.82" width="3.92" height="7.00" fill="#f8f7fc"/>
<rect x="77.97" y="312.82" width="3.92" height="7.00" fill="#f8f7fc"/>
<rect x="81.90" y="312.82" width="3.92" height="7.00" fill="#f8f7fc"/>
<rect x="85.82" y="312.82" width="3.92" height="7.00" fill="#f8f7fc"/>
<rect x="89.75" y="312.82" width="3.92" height="7.00" fill="#f8f7fc"/>
<rect x="93.67" y="312.82" width="3.92" height="7.00" fill="#f8f7fc"/>
<rect x="97.60" y="312.82" width="3.92" height="7.00" fill="#f8f7fc"/>
<rect x="101.53" y="312.82" width="3.92" height="7.00" fill="#f8f7fc"/>
<rect x="105.45" y="312.82" width="3.92" height="7.00" fill="#f8f7fc"/>
<rect x="109.38" y="312.82" width="3.92" height="7.00" fill="#f8f7fc"/>
<rect x="113.30" y="312.82" width="3.92" height="7.00" fill="#f8f7fc"/>
<rect x="117.22" y="312.82" width="3.92" height="7.00" fill="#f8f7fc"/>
<rect x="121.15" y="312.82" width="3.92" height="7.00" fill="#f8f7fc"/>
<rect x="125.08" y="312.82" width="3.92" height="7.00" fill="#f8f7fc"/>
<rect x="129.00" y="312.82" width="3.92" height="7.00" fill="#cdcee6"/>
<rect x="132.93" y="312.82" width="3.92" height="7.00" fill="#f8f7fc"/>
<rect x="136.85" y="312.82" width="3.92" height="7.00" fill="#f8f7fc"/>
<rect x="140.77" y="312.82" width="3.92" height="7.00" fill="#f8f7fc"/>
<rect x="144.70" y="312.82" width="3.92" height="7.00" fill="#f8f7fc"/>
<rect x="148.62" y="312.82" width="3.92" height="7.00" fill="#f8f7fc"/>
<rect x="152.55" y="312.82" width="3.92" height="7.00" fill="#f8f7fc"/>
<rect x="156.47" y="312.82" width="3.92" height="7.00" fill="#f8f7fc"/>
<rect x="160.40" y="312.82" width="3.92" height="7.00" fill="#f8f7fc"/>
<rect x="164.32" y="312.82" width="3.92" height="7.00" fill="#f8f7fc"/>
<rect x="168.25" y="312.82" width="3.92" height="7.00" fill="#f8f7fc"/>
<rect x="172.18" y="312.82" width="3.92" height="7.00" fill="#f8f7fc"/>
<rect x="176.10" y="312.82" width="3.92" height="7.00" fill="#f8f7fc"/>
<rect x="180.03" y="312.82" width="3.92" height="7.00" fill="#f8f7fc"/>
<rect x="183.95" y="312.82" width="3.92" height="7.00" fill="#f8f7fc"/>
<rect x="187.88" y="312.82" width="3.92" height="7.00" fill="#f8f7fc"/>
<rect x="191.80" y="312.82" width="3.92" height="7.00" fill="#f8f7fc"/>
<rect x="195.72" y="312.82" width="3.92" height="7.00" fill="#f8f7fc"/>
<rect x="199.65" y="312.82" width="3.92" height="7.00" fill="#f8f7fc"/>
<rect x="203.57" y="312.82" width="3.92" height="7.00" fill="#1d5d9e"/>
<rect x="207.50" y="312.82" width="3.92" height="7.00" fill="#f8f7fc"/>
<rect x="211.42" y="312.82" width="3.92" height="7.00" fill="#f8f7fc"/>
<rect x="215.35" y="312.82" width="3.92" height="7.00" fill="#cdcee6"/>
<rect x="219.28" y="312.82" width="3.92" height="7.00" fill="#f8f7fc"/>
<rect x="223.20" y="312.82" width="3.92" height="7.00" fill="#f8f7fc"/>
<rect x="227.12" y="312.82" width="3.92" height="7.00" fill="#f8f7fc"/>
<rect x="231.05" y="312.82" width="3.92" height="7.00" fill="#cdcee6"/>
<rect x="234.97" y="312.82" width="3.92" height="7.00" fill="#f8f7fc"/>
<rect x="238.90" y="312.82" width="3.92" height="7.00" fill="#f8f7fc"/>
<rect x="242.82" y="312.82" width="3.92" height="7.00" fill="#f8f7fc"/>
<rect x="246.75" y="312.82" width="3.92" height="7.00" fill="#f8f7fc"/>
<rect x="250.67" y="312.82" width="3.92" height="7.00" fill="#f8f7fc"/>
<rect x="254.60" y="312.82" width="3.92" height="7.00" fill="#f8f7fc"/>
<rect x="258.52" y="312.82" width="3.92" height="7.00" fill="#f8f7fc"/>
<rect x="262.45" y="312.82" width="3.92" height="7.00" fill="#f8f7fc"/>
<rect x="266.38" y="312.82" width="3.92" height="7.00" fill="#f8f7fc"/>
<rect x="270.30" y="312.82" width="3.92" height="7.00" fill="#f8f7fc"/>
<rect x="274.23" y="312.82" width="3.92" height="7.00" fill="#f8f7fc"/>
<rect x="278.15" y="312.82" width="3.92" height="7.00" fill="#f8f7fc"/>
<rect x="282.07" y="312.82" width="3.92" height="7.00" fill="#f8f7fc"/>
<rect x="286.00" y="312.82" width="3.92" height="7.00" fill="#f8f7fc"/>
<rect x="289.92" y="312.82" width="3.92" height="7.00" fill="#f8f7fc"/>
<rect x="293.85" y="312.82" width="3.92" height="7.00" fill="#f8f7fc"/>
<rect x="297.77" y="312.82" width="3.92" height="7.00" fill="#f8f7fc"/>
<rect x="301.70" y="312.82" width="3.92" height="7.00" fill="#f8f7fc"/>
<rect x="305.62" y="312.82" width="3.92" height="7.00" fill="#f8f7fc"/>
<rect x="309.55" y="312.82" width="3.92" height="7.00" fill="#f8f7fc"/>
<rect x="313.47" y="312.82" width="3.92" height="7.00" fill="#f8f7fc"/>
<rect x="317.40" y="312.82" width="3.92" height="7.00" fill="#f8f7fc"/>
<rect x="321.32" y="312.82" width="3.92" height="7.00" fill="#f8f7fc"/>
<rect x="325.25" y="312.82" width="3.92" height="7.00" fill="#f8f7fc"/>
<rect x="329.18" y="312.82" width="3.92" height="7.00" fill="#f8f7fc"/>
<rect x="333.10" y="312.82" width="3.92" height="7.00" fill="#f8f7fc"/>
<rect x="337.02" y="312.82" width="3.92" height="7.00" fill="#10283e"/>
<rect x="340.95" y="312.82" width="3.92" height="7.00" fill="#f8f7fc"/>
<rect x="344.88" y="312.82" width="3.92" height="7.00" fill="#f8f7fc"/>
<rect x="348.80" y="312.82" width="3.92" height="7.00" fill="#f8f7fc"/>
<rect x="352.72" y="312.82" width="3.92" height="7.00" fill="#f8f7fc"/>
<rect x="356.65" y="312.82" width="3.92" height="7.00" fill="#f8f7fc"/>
<rect x="360.57" y="312.82" width="3.92" height="7.00" fill="#f8f7fc"/>
<rect x="364.50" y="312.82" width="3.92" height="7.00" fill="#f8f7fc"/>
<rect x="368.43" y="312.82" width="3.92" height="7.00" fill="#f8f7fc"/>
<rect x="372.35" y="312.82" width="3.92" height="7.00" fill="#f8f7fc"/>
<rect x="376.27" y="312.82" width="3.92" height="7.00" fill="#cdcee6"/>
<rect x="380.20" y="312.82" width="3.92" height="7.00" fill="#f8f7fc"/>
<rect x="384.12" y="312.82" width="3.92" height="7.00" fill="#f8f7fc"/>
<rect x="388.05" y="312.82" width="3.92" height="7.00" fill="#f8f7fc"/>
<rect x="391.97" y="312.82" width="3.92" height="7.00" fill="#f8f7fc"/>
<rect x="395.90" y="312.82" width="3.92" height="7.00" fill="#f8f7fc"/>
<rect x="399.82" y="312.82" width="3.92" height="7.00" fill="#f8f7fc"/>
<rect x="403.75" y="312.82" width="3.92" height="7.00" fill="#f8f7fc"/>
<rect x="407.68" y="312.82" width="3.92" height="7.00" fill="#f8f7fc"/>
<rect x="411.60" y="312.82" width="3.92" height="7.00" fill="#f8f7fc"/>
<rect x="415.52" y="312.82" width="3.92" height="7.00" fill="#f8f7fc"/>
<rect x="419.45" y="312.82" width="3.92" height="7.00" fill="#f8f7fc"/>
<rect x="423.38" y="312.82" width="3.92" height="7.00" fill="#f8f7fc"/>
<rect x="427.30" y="312.82" width="3.92" height="7.00" fill="#f8f7fc"/>
<rect x="431.22" y="312.82" width="3.92" height="7.00" fill="#f8f7fc"/>
<rect x="435.15" y="312.82" width="3.92" height="7.00" fill="#f8f7fc"/>
<rect x="439.07" y="312.82" width="3.92" height="7.00" fill="#f8f7fc"/>
<path d="M54.42 312.82v7.0M58.35 312.82v7.0M62.27 312.82v7.0M66.20 312.82v7.0M70.12 312.82v7.0M74.05 312.82v7.0M77.97 312.82v7.0M81.90 312.82v7.0M85.82 312.82v7.0M89.75 312.82v7.0M93.67 312.82v7.0M97.60 312.82v7.0M101.53 312.82v7.0M105.45 312.82v7.0M109.38 312.82v7.0M113.30 312.82v7.0M117.22 312.82v7.0M121.15 312.82v7.0M125.08 312.82v7.0M129.00 312.82v7.0M132.93 312.82v7.0M136.85 312.82v7.0M140.77 312.82v7.0M144.70 312.82v7.0M148.62 312.82v7.0M152.55 312.82v7.0M156.47 312.82v7.0M160.40 312.82v7.0M164.32 312.82v7.0M168.25 312.82v7.0M172.18 312.82v7.0M176.10 312.82v7.0M180.03 312.82v7.0M183.95 312.82v7.0M187.88 312.82v7.0M191.80 312.82v7.0M195.72 312.82v7.0M199.65 312.82v7.0M203.57 312.82v7.0M207.50 312.82v7.0M211.42 312.82v7.0M215.35 312.82v7.0M219.28 312.82v7.0M223.20 312.82v7.0M227.12 312.82v7.0M231.05 312.82v7.0M234.97 312.82v7.0M238.90 312.82v7.0M242.82 312.82v7.0M246.75 312.82v7.0M250.67 312.82v7.0M254.60 312.82v7.0M258.52 312.82v7.0M262.45 312.82v7.0M266.38 312.82v7.0M270.30 312.82v7.0M274.23 312.82v7.0M278.15 312.82v7.0M282.07 312.82v7.0M286.00 312.82v7.0M289.92 312.82v7.0M293.85 312.82v7.0M297.77 312.82v7.0M301.70 312.82v7.0M305.62 312.82v7.0M309.55 312.82v7.0M313.47 312.82v7.0M317.40 312.82v7.0M321.32 312.82v7.0M325.25 312.82v7.0M329.18 312.82v7.0M333.10 312.82v7.0M337.02 312.82v7.0M340.95 312.82v7.0M344.88 312.82v7.0M348.80 312.82v7.0M352.72 312.82v7.0M356.65 312.82v7.0M360.57 312.82v7.0M364.50 312.82v7.0M368.43 312.82v7.0M372.35 312.82v7.0M376.27 312.82v7.0M380.20 312.82v7.0M384.12 312.82v7.0M388.05 312.82v7.0M391.97 312.82v7.0M395.90 312.82v7.0M399.82 312.82v7.0M403.75 312.82v7.0M407.68 312.82v7.0M411.60 312.82v7.0M415.52 312.82v7.0M419.45 312.82v7.0M423.38 312.82v7.0M427.30 312.82v7.0M431.22 312.82v7.0M435.15 312.82v7.0M439.07 312.82v7.0" fill="none" stroke="#e2dcdc" stroke-width="0.6" stroke-opacity="0.8"/>
<rect x="50.50" y="321.84" width="3.92" height="7.00" fill="#9492c8"/>
<rect x="54.42" y="321.84" width="3.92" height="7.00" fill="#503c96"/>
<rect x="58.35" y="321.84" width="3.92" height="7.00" fill="#7570b6"/>
<rect x="62.27" y="321.84" width="3.92" height="7.00" fill="#9492c8"/>
<rect x="66.20" y="321.84" width="3.92" height="7.00" fill="#9492c8"/>
<rect x="70.12" y="321.84" width="3.92" height="7.00" fill="#b6b8dd"/>
<rect x="74.05" y="321.84" width="3.92" height="7.00" fill="#b6b8dd"/>
<rect x="77.97" y="321.84" width="3.92" height="7.00" fill="#7570b6"/>
<rect x="81.90" y="321.84" width="3.92" height="7.00" fill="#d6d8ee"/>
<rect x="85.82" y="321.84" width="3.92" height="7.00" fill="#d6d8ee"/>
<rect x="89.75" y="321.84" width="3.92" height="7.00" fill="#d6d8ee"/>
<rect x="93.67" y="321.84" width="3.92" height="7.00" fill="#d6d8ee"/>
<rect x="97.60" y="321.84" width="3.92" height="7.00" fill="#d6d8ee"/>
<rect x="101.53" y="321.84" width="3.92" height="7.00" fill="#b6b8dd"/>
<rect x="105.45" y="321.84" width="3.92" height="7.00" fill="#efeff8"/>
<rect x="109.38" y="321.84" width="3.92" height="7.00" fill="#d6d8ee"/>
<rect x="113.30" y="321.84" width="3.92" height="7.00" fill="#503c96"/>
<rect x="117.22" y="321.84" width="3.92" height="7.00" fill="#d6d8ee"/>
<rect x="121.15" y="321.84" width="3.92" height="7.00" fill="#d6d8ee"/>
<rect x="125.08" y="321.84" width="3.92" height="7.00" fill="#d6d8ee"/>
<rect x="129.00" y="321.84" width="3.92" height="7.00" fill="#b6b8dd"/>
<rect x="132.93" y="321.84" width="3.92" height="7.00" fill="#d6d8ee"/>
<rect x="136.85" y="321.84" width="3.92" height="7.00" fill="#9492c8"/>
<rect x="140.77" y="321.84" width="3.92" height="7.00" fill="#d6d8ee"/>
<rect x="144.70" y="321.84" width="3.92" height="7.00" fill="#efeff8"/>
<rect x="148.62" y="321.84" width="3.92" height="7.00" fill="#b6b8dd"/>
<rect x="152.55" y="321.84" width="3.92" height="7.00" fill="#9492c8"/>
<rect x="156.47" y="321.84" width="3.92" height="7.00" fill="#9492c8"/>
<rect x="160.40" y="321.84" width="3.92" height="7.00" fill="#9492c8"/>
<rect x="164.32" y="321.84" width="3.92" height="7.00" fill="#efeff8"/>
<rect x="168.25" y="321.84" width="3.92" height="7.00" fill="#9492c8"/>
<rect x="172.18" y="321.84" width="3.92" height="7.00" fill="#d6d8ee"/>
<rect x="176.10" y="321.84" width="3.92" height="7.00" fill="#b6b8dd"/>
<rect x="180.03" y="321.84" width="3.92" height="7.00" fill="#efeff8"/>
<rect x="183.95" y="321.84" width="3.92" height="7.00" fill="#d6d8ee"/>
<rect x="187.88" y="321.84" width="3.92" height="7.00" fill="#503c96"/>
<rect x="191.80" y="321.84" width="3.92" height="7.00" fill="#d6d8ee"/>
<rect x="195.72" y="321.84" width="3.92" height="7.00" fill="#b6b8dd"/>
<rect x="199.65" y="321.84" width="3.92" height="7.00" fill="#b6b8dd"/>
<rect x="203.57" y="321.84" width="3.92" height="7.00" fill="#9492c8"/>
<rect x="207.50" y="321.84" width="3.92" height="7.00" fill="#b6b8dd"/>
<rect x="211.42" y="321.84" width="3.92" height="7.00" fill="#9492c8"/>
<rect x="215.35" y="321.84" width="3.92" height="7.00" fill="#b6b8dd"/>
<rect x="219.28" y="321.84" width="3.92" height="7.00" fill="#efeff8"/>
<rect x="223.20" y="321.84" width="3.92" height="7.00" fill="#efeff8"/>
<rect x="227.12" y="321.84" width="3.92" height="7.00" fill="#d6d8ee"/>
<rect x="231.05" y="321.84" width="3.92" height="7.00" fill="#d6d8ee"/>
<rect x="234.97" y="321.84" width="3.92" height="7.00" fill="#d6d8ee"/>
<rect x="238.90" y="321.84" width="3.92" height="7.00" fill="#d6d8ee"/>
<rect x="242.82" y="321.84" width="3.92" height="7.00" fill="#d6d8ee"/>
<rect x="246.75" y="321.84" width="3.92" height="7.00" fill="#d6d8ee"/>
<rect x="250.67" y="321.84" width="3.92" height="7.00" fill="#d6d8ee"/>
<rect x="254.60" y="321.84" width="3.92" height="7.00" fill="#efeff8"/>
<rect x="258.52" y="321.84" width="3.92" height="7.00" fill="#2c1c62"/>
<rect x="262.45" y="321.84" width="3.92" height="7.00" fill="#9492c8"/>
<rect x="266.38" y="321.84" width="3.92" height="7.00" fill="#d6d8ee"/>
<rect x="270.30" y="321.84" width="3.92" height="7.00" fill="#b6b8dd"/>
<rect x="274.23" y="321.84" width="3.92" height="7.00" fill="#efeff8"/>
<rect x="278.15" y="321.84" width="3.92" height="7.00" fill="#7570b6"/>
<rect x="282.07" y="321.84" width="3.92" height="7.00" fill="#9492c8"/>
<rect x="286.00" y="321.84" width="3.92" height="7.00" fill="#d6d8ee"/>
<rect x="289.92" y="321.84" width="3.92" height="7.00" fill="#efeff8"/>
<rect x="293.85" y="321.84" width="3.92" height="7.00" fill="#d6d8ee"/>
<rect x="297.77" y="321.84" width="3.92" height="7.00" fill="#d6d8ee"/>
<rect x="301.70" y="321.84" width="3.92" height="7.00" fill="#b6b8dd"/>
<rect x="305.62" y="321.84" width="3.92" height="7.00" fill="#b6b8dd"/>
<rect x="309.55" y="321.84" width="3.92" height="7.00" fill="#d6d8ee"/>
<rect x="313.47" y="321.84" width="3.92" height="7.00" fill="#efeff8"/>
<rect x="317.40" y="321.84" width="3.92" height="7.00" fill="#d6d8ee"/>
<rect x="321.32" y="321.84" width="3.92" height="7.00" fill="#9492c8"/>
<rect x="325.25" y="321.84" width="3.92" height="7.00" fill="#b6b8dd"/>
<rect x="329.18" y="321.84" width="3.92" height="7.00" fill="#d6d8ee"/>
<rect x="333.10" y="321.84" width="3.92" height="7.00" fill="#d6d8ee"/>
<rect x="337.02" y="321.84" width="3.92" height="7.00" fill="#9492c8"/>
<rect x="340.95" y="321.84" width="3.92" height="7.00" fill="#7570b6"/>
<rect x="344.88" y="321.84" width="3.92" height="7.00" fill="#2c1c62"/>
<rect x="348.80" y="321.84" width="3.92" height="7.00" fill="#d6d8ee"/>
<rect x="352.72" y="321.84" width="3.92" height="7.00" fill="#d6d8ee"/>
<rect x="356.65" y="321.84" width="3.92" height="7.00" fill="#d6d8ee"/>
<rect x="360.57" y="321.84" width="3.92" height="7.00" fill="#9492c8"/>
<rect x="364.50" y="321.84" width="3.92" height="7.00" fill="#efeff8"/>
<rect x="368.43" y="321.84" width="3.92" height="7.00" fill="#d6d8ee"/>
<rect x="372.35" y="321.84" width="3.92" height="7.00" fill="#9492c8"/>
<rect x="376.27" y="321.84" width="3.92" height="7.00" fill="#9492c8"/>
<rect x="380.20" y="321.84" width="3.92" height="7.00" fill="#b6b8dd"/>
<rect x="384.12" y="321.84" width="3.92" height="7.00" fill="#d6d8ee"/>
<rect x="388.05" y="321.84" width="3.92" height="7.00" fill="#d6d8ee"/>
<rect x="391.97" y="321.84" width="3.92" height="7.00" fill="#7570b6"/>
<rect x="395.90" y="321.84" width="3.92" height="7.00" fill="#7570b6"/>
<rect x="399.82" y="321.84" width="3.92" height="7.00" fill="#503c96"/>
<rect x="403.75" y="321.84" width="3.92" height="7.00" fill="#d6d8ee"/>
<rect x="407.68" y="321.84" width="3.92" height="7.00" fill="#efeff8"/>
<rect x="411.60" y="321.84" width="3.92" height="7.00" fill="#7570b6"/>
<rect x="415.52" y="321.84" width="3.92" height="7.00" fill="#d6d8ee"/>
<rect x="419.45" y="321.84" width="3.92" height="7.00" fill="#d6d8ee"/>
<rect x="423.38" y="321.84" width="3.92" height="7.00" fill="#d6d8ee"/>
<rect x="427.30" y="321.84" width="3.92" height="7.00" fill="#d6d8ee"/>
<rect x="431.22" y="321.84" width="3.92" height="7.00" fill="#d6d8ee"/>
<rect x="435.15" y="321.84" width="3.92" height="7.00" fill="#7570b6"/>
<rect x="439.07" y="321.84" width="3.92" height="7.00" fill="#d6d8ee"/>
<path d="M54.42 321.84v7.0M58.35 321.84v7.0M62.27 321.84v7.0M66.20 321.84v7.0M70.12 321.84v7.0M74.05 321.84v7.0M77.97 321.84v7.0M81.90 321.84v7.0M85.82 321.84v7.0M89.75 321.84v7.0M93.67 321.84v7.0M97.60 321.84v7.0M101.53 321.84v7.0M105.45 321.84v7.0M109.38 321.84v7.0M113.30 321.84v7.0M117.22 321.84v7.0M121.15 321.84v7.0M125.08 321.84v7.0M129.00 321.84v7.0M132.93 321.84v7.0M136.85 321.84v7.0M140.77 321.84v7.0M144.70 321.84v7.0M148.62 321.84v7.0M152.55 321.84v7.0M156.47 321.84v7.0M160.40 321.84v7.0M164.32 321.84v7.0M168.25 321.84v7.0M172.18 321.84v7.0M176.10 321.84v7.0M180.03 321.84v7.0M183.95 321.84v7.0M187.88 321.84v7.0M191.80 321.84v7.0M195.72 321.84v7.0M199.65 321.84v7.0M203.57 321.84v7.0M207.50 321.84v7.0M211.42 321.84v7.0M215.35 321.84v7.0M219.28 321.84v7.0M223.20 321.84v7.0M227.12 321.84v7.0M231.05 321.84v7.0M234.97 321.84v7.0M238.90 321.84v7.0M242.82 321.84v7.0M246.75 321.84v7.0M250.67 321.84v7.0M254.60 321.84v7.0M258.52 321.84v7.0M262.45 321.84v7.0M266.38 321.84v7.0M270.30 321.84v7.0M274.23 321.84v7.0M278.15 321.84v7.0M282.07 321.84v7.0M286.00 321.84v7.0M289.92 321.84v7.0M293.85 321.84v7.0M297.77 321.84v7.0M301.70 321.84v7.0M305.62 321.84v7.0M309.55 321.84v7.0M313.47 321.84v7.0M317.40 321.84v7.0M321.32 321.84v7.0M325.25 321.84v7.0M329.18 321.84v7.0M333.10 321.84v7.0M337.02 321.84v7.0M340.95 321.84v7.0M344.88 321.84v7.0M348.80 321.84v7.0M352.72 321.84v7.0M356.65 321.84v7.0M360.57 321.84v7.0M364.50 321.84v7.0M368.43 321.84v7.0M372.35 321.84v7.0M376.27 321.84v7.0M380.20 321.84v7.0M384.12 321.84v7.0M388.05 321.84v7.0M391.97 321.84v7.0M395.90 321.84v7.0M399.82 321.84v7.0M403.75 321.84v7.0M407.68 321.84v7.0M411.60 321.84v7.0M415.52 321.84v7.0M419.45 321.84v7.0M423.38 321.84v7.0M427.30 321.84v7.0M431.22 321.84v7.0M435.15 321.84v7.0M439.07 321.84v7.0" fill="none" stroke="#e2dcdc" stroke-width="0.6" stroke-opacity="0.8"/>
<rect x="50.50" y="330.86" width="3.92" height="7.00" fill="#f8dbe3"/>
<rect x="54.42" y="330.86" width="3.92" height="7.00" fill="#86115f"/>
<rect x="58.35" y="330.86" width="3.92" height="7.00" fill="#f8dbe3"/>
<rect x="62.27" y="330.86" width="3.92" height="7.00" fill="#fcf5f5"/>
<rect x="66.20" y="330.86" width="3.92" height="7.00" fill="#c41b82"/>
<rect x="70.12" y="330.86" width="3.92" height="7.00" fill="#fcf5f5"/>
<rect x="74.05" y="330.86" width="3.92" height="7.00" fill="#c41b82"/>
<rect x="77.97" y="330.86" width="3.92" height="7.00" fill="#86115f"/>
<rect x="81.90" y="330.86" width="3.92" height="7.00" fill="#86115f"/>
<rect x="85.82" y="330.86" width="3.92" height="7.00" fill="#e46aa0"/>
<rect x="89.75" y="330.86" width="3.92" height="7.00" fill="#f8dbe3"/>
<rect x="93.67" y="330.86" width="3.92" height="7.00" fill="#fcf5f5"/>
<rect x="97.60" y="330.86" width="3.92" height="7.00" fill="#3d0c4d"/>
<rect x="101.53" y="330.86" width="3.92" height="7.00" fill="#f8dbe3"/>
<rect x="105.45" y="330.86" width="3.92" height="7.00" fill="#86115f"/>
<rect x="109.38" y="330.86" width="3.92" height="7.00" fill="#fcf5f5"/>
<rect x="113.30" y="330.86" width="3.92" height="7.00" fill="#f8dbe3"/>
<rect x="117.22" y="330.86" width="3.92" height="7.00" fill="#f8dbe3"/>
<rect x="121.15" y="330.86" width="3.92" height="7.00" fill="#c41b82"/>
<rect x="125.08" y="330.86" width="3.92" height="7.00" fill="#c41b82"/>
<rect x="129.00" y="330.86" width="3.92" height="7.00" fill="#86115f"/>
<rect x="132.93" y="330.86" width="3.92" height="7.00" fill="#fcf5f5"/>
<rect x="136.85" y="330.86" width="3.92" height="7.00" fill="#3d0c4d"/>
<rect x="140.77" y="330.86" width="3.92" height="7.00" fill="#e46aa0"/>
<rect x="144.70" y="330.86" width="3.92" height="7.00" fill="#fcf5f5"/>
<rect x="148.62" y="330.86" width="3.92" height="7.00" fill="#f8dbe3"/>
<rect x="152.55" y="330.86" width="3.92" height="7.00" fill="#ec98b6"/>
<rect x="156.47" y="330.86" width="3.92" height="7.00" fill="#f8dbe3"/>
<rect x="160.40" y="330.86" width="3.92" height="7.00" fill="#c41b82"/>
<rect x="164.32" y="330.86" width="3.92" height="7.00" fill="#fcf5f5"/>
<rect x="168.25" y="330.86" width="3.92" height="7.00" fill="#fcf5f5"/>
<rect x="172.18" y="330.86" width="3.92" height="7.00" fill="#86115f"/>
<rect x="176.10" y="330.86" width="3.92" height="7.00" fill="#f8dbe3"/>
<rect x="180.03" y="330.86" width="3.92" height="7.00" fill="#86115f"/>
<rect x="183.95" y="330.86" width="3.92" height="7.00" fill="#e46aa0"/>
<rect x="187.88" y="330.86" width="3.92" height="7.00" fill="#f8dbe3"/>
<rect x="191.80" y="330.86" width="3.92" height="7.00" fill="#f8dbe3"/>
<rect x="195.72" y="330.86" width="3.92" height="7.00" fill="#fcf5f5"/>
<rect x="199.65" y="330.86" width="3.92" height="7.00" fill="#e46aa0"/>
<rect x="203.57" y="330.86" width="3.92" height="7.00" fill="#c41b82"/>
<rect x="207.50" y="330.86" width="3.92" height="7.00" fill="#e46aa0"/>
<rect x="211.42" y="330.86" width="3.92" height="7.00" fill="#c41b82"/>
<rect x="215.35" y="330.86" width="3.92" height="7.00" fill="#e46aa0"/>
<rect x="219.28" y="330.86" width="3.92" height="7.00" fill="#86115f"/>
<rect x="223.20" y="330.86" width="3.92" height="7.00" fill="#fcf5f5"/>
<rect x="227.12" y="330.86" width="3.92" height="7.00" fill="#f8dbe3"/>
<rect x="231.05" y="330.86" width="3.92" height="7.00" fill="#ec98b6"/>
<rect x="234.97" y="330.86" width="3.92" height="7.00" fill="#fcf5f5"/>
<rect x="238.90" y="330.86" width="3.92" height="7.00" fill="#f8dbe3"/>
<rect x="242.82" y="330.86" width="3.92" height="7.00" fill="#ec98b6"/>
<rect x="246.75" y="330.86" width="3.92" height="7.00" fill="#fcf5f5"/>
<rect x="250.67" y="330.86" width="3.92" height="7.00" fill="#f9efe2"/>
<rect x="254.60" y="330.86" width="3.92" height="7.00" fill="#3d0c4d"/>
<rect x="258.52" y="330.86" width="3.92" height="7.00" fill="#3d0c4d"/>
<rect x="262.45" y="330.86" width="3.92" height="7.00" fill="#fcf5f5"/>
<rect x="266.38" y="330.86" width="3.92" height="7.00" fill="#c41b82"/>
<rect x="270.30" y="330.86" width="3.92" height="7.00" fill="#f8dbe3"/>
<rect x="274.23" y="330.86" width="3.92" height="7.00" fill="#f8dbe3"/>
<rect x="278.15" y="330.86" width="3.92" height="7.00" fill="#c41b82"/>
<rect x="282.07" y="330.86" width="3.92" height="7.00" fill="#fcf5f5"/>
<rect x="286.00" y="330.86" width="3.92" height="7.00" fill="#fcf5f5"/>
<rect x="289.92" y="330.86" width="3.92" height="7.00" fill="#f8dbe3"/>
<rect x="293.85" y="330.86" width="3.92" height="7.00" fill="#ec98b6"/>
<rect x="297.77" y="330.86" width="3.92" height="7.00" fill="#ec98b6"/>
<rect x="301.70" y="330.86" width="3.92" height="7.00" fill="#e46aa0"/>
<rect x="305.62" y="330.86" width="3.92" height="7.00" fill="#fcf5f5"/>
<rect x="309.55" y="330.86" width="3.92" height="7.00" fill="#f8dbe3"/>
<rect x="313.47" y="330.86" width="3.92" height="7.00" fill="#f8dbe3"/>
<rect x="317.40" y="330.86" width="3.92" height="7.00" fill="#f8dbe3"/>
<rect x="321.32" y="330.86" width="3.92" height="7.00" fill="#fcf5f5"/>
<rect x="325.25" y="330.86" width="3.92" height="7.00" fill="#3d0c4d"/>
<rect x="329.18" y="330.86" width="3.92" height="7.00" fill="#e46aa0"/>
<rect x="333.10" y="330.86" width="3.92" height="7.00" fill="#fcf5f5"/>
<rect x="337.02" y="330.86" width="3.92" height="7.00" fill="#fcf5f5"/>
<rect x="340.95" y="330.86" width="3.92" height="7.00" fill="#f8dbe3"/>
<rect x="344.88" y="330.86" width="3.92" height="7.00" fill="#ec98b6"/>
<rect x="348.80" y="330.86" width="3.92" height="7.00" fill="#f8dbe3"/>
<rect x="352.72" y="330.86" width="3.92" height="7.00" fill="#3d0c4d"/>
<rect x="356.65" y="330.86" width="3.92" height="7.00" fill="#f9efe2"/>
<rect x="360.57" y="330.86" width="3.92" height="7.00" fill="#f8dbe3"/>
<rect x="364.50" y="330.86" width="3.92" height="7.00" fill="#f8dbe3"/>
<rect x="368.43" y="330.86" width="3.92" height="7.00" fill="#fcf5f5"/>
<rect x="372.35" y="330.86" width="3.92" height="7.00" fill="#e46aa0"/>
<rect x="376.27" y="330.86" width="3.92" height="7.00" fill="#fcf5f5"/>
<rect x="380.20" y="330.86" width="3.92" height="7.00" fill="#f8dbe3"/>
<rect x="384.12" y="330.86" width="3.92" height="7.00" fill="#f8dbe3"/>
<rect x="388.05" y="330.86" width="3.92" height="7.00" fill="#fcf5f5"/>
<rect x="391.97" y="330.86" width="3.92" height="7.00" fill="#c41b82"/>
<rect x="395.90" y="330.86" width="3.92" height="7.00" fill="#e46aa0"/>
<rect x="399.82" y="330.86" width="3.92" height="7.00" fill="#ec98b6"/>
<rect x="403.75" y="330.86" width="3.92" height="7.00" fill="#f8dbe3"/>
<rect x="407.68" y="330.86" width="3.92" height="7.00" fill="#ec98b6"/>
<rect x="411.60" y="330.86" width="3.92" height="7.00" fill="#f8dbe3"/>
<rect x="415.52" y="330.86" width="3.92" height="7.00" fill="#c41b82"/>
<rect x="419.45" y="330.86" width="3.92" height="7.00" fill="#e46aa0"/>
<rect x="423.38" y="330.86" width="3.92" height="7.00" fill="#e46aa0"/>
<rect x="427.30" y="330.86" width="3.92" height="7.00" fill="#e46aa0"/>
<rect x="431.22" y="330.86" width="3.92" height="7.00" fill="#c41b82"/>
<rect x="435.15" y="330.86" width="3.92" height="7.00" fill="#e46aa0"/>
<rect x="439.07" y="330.86" width="3.92" height="7.00" fill="#f8dbe3"/>
<path d="M54.42 330.86v7.0M58.35 330.86v7.0M62.27 330.86v7.0M66.20 330.86v7.0M70.12 330.86v7.0M74.05 330.86v7.0M77.97 330.86v7.0M81.90 330.86v7.0M85.82 330.86v7.0M89.75 330.86v7.0M93.67 330.86v7.0M97.60 330.86v7.0M101.53 330.86v7.0M105.45 330.86v7.0M109.38 330.86v7.0M113.30 330.86v7.0M117.22 330.86v7.0M121.15 330.86v7.0M125.08 330.86v7.0M129.00 330.86v7.0M132.93 330.86v7.0M136.85 330.86v7.0M140.77 330.86v7.0M144.70 330.86v7.0M148.62 330.86v7.0M152.55 330.86v7.0M156.47 330.86v7.0M160.40 330.86v7.0M164.32 330.86v7.0M168.25 330.86v7.0M172.18 330.86v7.0M176.10 330.86v7.0M180.03 330.86v7.0M183.95 330.86v7.0M187.88 330.86v7.0M191.80 330.86v7.0M195.72 330.86v7.0M199.65 330.86v7.0M203.57 330.86v7.0M207.50 330.86v7.0M211.42 330.86v7.0M215.35 330.86v7.0M219.28 330.86v7.0M223.20 330.86v7.0M227.12 330.86v7.0M231.05 330.86v7.0M234.97 330.86v7.0M238.90 330.86v7.0M242.82 330.86v7.0M246.75 330.86v7.0M250.67 330.86v7.0M254.60 330.86v7.0M258.52 330.86v7.0M262.45 330.86v7.0M266.38 330.86v7.0M270.30 330.86v7.0M274.23 330.86v7.0M278.15 330.86v7.0M282.07 330.86v7.0M286.00 330.86v7.0M289.92 330.86v7.0M293.85 330.86v7.0M297.77 330.86v7.0M301.70 330.86v7.0M305.62 330.86v7.0M309.55 330.86v7.0M313.47 330.86v7.0M317.40 330.86v7.0M321.32 330.86v7.0M325.25 330.86v7.0M329.18 330.86v7.0M333.10 330.86v7.0M337.02 330.86v7.0M340.95 330.86v7.0M344.88 330.86v7.0M348.80 330.86v7.0M352.72 330.86v7.0M356.65 330.86v7.0M360.57 330.86v7.0M364.50 330.86v7.0M368.43 330.86v7.0M372.35 330.86v7.0M376.27 330.86v7.0M380.20 330.86v7.0M384.12 330.86v7.0M388.05 330.86v7.0M391.97 330.86v7.0M395.90 330.86v7.0M399.82 330.86v7.0M403.75 330.86v7.0M407.68 330.86v7.0M411.60 330.86v7.0M415.52 330.86v7.0M419.45 330.86v7.0M423.38 330.86v7.0M427.30 330.86v7.0M431.22 330.86v7.0M435.15 330.86v7.0M439.07 330.86v7.0" fill="none" stroke="#e2dcdc" stroke-width="0.6" stroke-opacity="0.8"/>
<rect x="50.50" y="339.88" width="3.92" height="7.00" fill="#e0469a"/>
<rect x="54.42" y="339.88" width="3.92" height="7.00" fill="#1d9fcc"/>
<rect x="58.35" y="339.88" width="3.92" height="7.00" fill="#e0469a"/>
<rect x="62.27" y="339.88" width="3.92" height="7.00" fill="#e0469a"/>
<rect x="66.20" y="339.88" width="3.92" height="7.00" fill="#e0469a"/>
<rect x="70.12" y="339.88" width="3.92" height="7.00" fill="#e0469a"/>
<rect x="74.05" y="339.88" width="3.92" height="7.00" fill="#1d9fcc"/>
<rect x="77.97" y="339.88" width="3.92" height="7.00" fill="#e0469a"/>
<rect x="81.90" y="339.88" width="3.92" height="7.00" fill="#1d9fcc"/>
<rect x="85.82" y="339.88" width="3.92" height="7.00" fill="#e0469a"/>
<rect x="89.75" y="339.88" width="3.92" height="7.00" fill="#e0469a"/>
<rect x="93.67" y="339.88" width="3.92" height="7.00" fill="#1d9fcc"/>
<rect x="97.60" y="339.88" width="3.92" height="7.00" fill="#1d9fcc"/>
<rect x="101.53" y="339.88" width="3.92" height="7.00" fill="#1d9fcc"/>
<rect x="105.45" y="339.88" width="3.92" height="7.00" fill="#1d9fcc"/>
<rect x="109.38" y="339.88" width="3.92" height="7.00" fill="#1d9fcc"/>
<rect x="113.30" y="339.88" width="3.92" height="7.00" fill="#1d9fcc"/>
<rect x="117.22" y="339.88" width="3.92" height="7.00" fill="#1d9fcc"/>
<rect x="121.15" y="339.88" width="3.92" height="7.00" fill="#1d9fcc"/>
<rect x="125.08" y="339.88" width="3.92" height="7.00" fill="#1d9fcc"/>
<rect x="129.00" y="339.88" width="3.92" height="7.00" fill="#1d9fcc"/>
<rect x="132.93" y="339.88" width="3.92" height="7.00" fill="#1d9fcc"/>
<rect x="136.85" y="339.88" width="3.92" height="7.00" fill="#e0469a"/>
<rect x="140.77" y="339.88" width="3.92" height="7.00" fill="#1d9fcc"/>
<rect x="144.70" y="339.88" width="3.92" height="7.00" fill="#e0469a"/>
<rect x="148.62" y="339.88" width="3.92" height="7.00" fill="#1d9fcc"/>
<rect x="152.55" y="339.88" width="3.92" height="7.00" fill="#1d9fcc"/>
<rect x="156.47" y="339.88" width="3.92" height="7.00" fill="#e0469a"/>
<rect x="160.40" y="339.88" width="3.92" height="7.00" fill="#1d9fcc"/>
<rect x="164.32" y="339.88" width="3.92" height="7.00" fill="#e0469a"/>
<rect x="168.25" y="339.88" width="3.92" height="7.00" fill="#1d9fcc"/>
<rect x="172.18" y="339.88" width="3.92" height="7.00" fill="#1d9fcc"/>
<rect x="176.10" y="339.88" width="3.92" height="7.00" fill="#1d9fcc"/>
<rect x="180.03" y="339.88" width="3.92" height="7.00" fill="#1d9fcc"/>
<rect x="183.95" y="339.88" width="3.92" height="7.00" fill="#e0469a"/>
<rect x="187.88" y="339.88" width="3.92" height="7.00" fill="#e0469a"/>
<rect x="191.80" y="339.88" width="3.92" height="7.00" fill="#1d9fcc"/>
<rect x="195.72" y="339.88" width="3.92" height="7.00" fill="#e0469a"/>
<rect x="199.65" y="339.88" width="3.92" height="7.00" fill="#1d9fcc"/>
<rect x="203.57" y="339.88" width="3.92" height="7.00" fill="#1d9fcc"/>
<rect x="207.50" y="339.88" width="3.92" height="7.00" fill="#e0469a"/>
<rect x="211.42" y="339.88" width="3.92" height="7.00" fill="#e0469a"/>
<rect x="215.35" y="339.88" width="3.92" height="7.00" fill="#1d9fcc"/>
<rect x="219.28" y="339.88" width="3.92" height="7.00" fill="#1d9fcc"/>
<rect x="223.20" y="339.88" width="3.92" height="7.00" fill="#e0469a"/>
<rect x="227.12" y="339.88" width="3.92" height="7.00" fill="#1d9fcc"/>
<rect x="231.05" y="339.88" width="3.92" height="7.00" fill="#1d9fcc"/>
<rect x="234.97" y="339.88" width="3.92" height="7.00" fill="#e0469a"/>
<rect x="238.90" y="339.88" width="3.92" height="7.00" fill="#1d9fcc"/>
<rect x="242.82" y="339.88" width="3.92" height="7.00" fill="#1d9fcc"/>
<rect x="246.75" y="339.88" width="3.92" height="7.00" fill="#1d9fcc"/>
<rect x="250.67" y="339.88" width="3.92" height="7.00" fill="#1d9fcc"/>
<rect x="254.60" y="339.88" width="3.92" height="7.00" fill="#e0469a"/>
<rect x="258.52" y="339.88" width="3.92" height="7.00" fill="#1d9fcc"/>
<rect x="262.45" y="339.88" width="3.92" height="7.00" fill="#e0469a"/>
<rect x="266.38" y="339.88" width="3.92" height="7.00" fill="#1d9fcc"/>
<rect x="270.30" y="339.88" width="3.92" height="7.00" fill="#1d9fcc"/>
<rect x="274.23" y="339.88" width="3.92" height="7.00" fill="#1d9fcc"/>
<rect x="278.15" y="339.88" width="3.92" height="7.00" fill="#e0469a"/>
<rect x="282.07" y="339.88" width="3.92" height="7.00" fill="#e0469a"/>
<rect x="286.00" y="339.88" width="3.92" height="7.00" fill="#1d9fcc"/>
<rect x="289.92" y="339.88" width="3.92" height="7.00" fill="#1d9fcc"/>
<rect x="293.85" y="339.88" width="3.92" height="7.00" fill="#e0469a"/>
<rect x="297.77" y="339.88" width="3.92" height="7.00" fill="#1d9fcc"/>
<rect x="301.70" y="339.88" width="3.92" height="7.00" fill="#1d9fcc"/>
<rect x="305.62" y="339.88" width="3.92" height="7.00" fill="#1d9fcc"/>
<rect x="309.55" y="339.88" width="3.92" height="7.00" fill="#e0469a"/>
<rect x="313.47" y="339.88" width="3.92" height="7.00" fill="#1d9fcc"/>
<rect x="317.40" y="339.88" width="3.92" height="7.00" fill="#1d9fcc"/>
<rect x="321.32" y="339.88" width="3.92" height="7.00" fill="#e0469a"/>
<rect x="325.25" y="339.88" width="3.92" height="7.00" fill="#1d9fcc"/>
<rect x="329.18" y="339.88" width="3.92" height="7.00" fill="#1d9fcc"/>
<rect x="333.10" y="339.88" width="3.92" height="7.00" fill="#1d9fcc"/>
<rect x="337.02" y="339.88" width="3.92" height="7.00" fill="#1d9fcc"/>
<rect x="340.95" y="339.88" width="3.92" height="7.00" fill="#1d9fcc"/>
<rect x="344.88" y="339.88" width="3.92" height="7.00" fill="#e0469a"/>
<rect x="348.80" y="339.88" width="3.92" height="7.00" fill="#e0469a"/>
<rect x="352.72" y="339.88" width="3.92" height="7.00" fill="#e0469a"/>
<rect x="356.65" y="339.88" width="3.92" height="7.00" fill="#1d9fcc"/>
<rect x="360.57" y="339.88" width="3.92" height="7.00" fill="#1d9fcc"/>
<rect x="364.50" y="339.88" width="3.92" height="7.00" fill="#1d9fcc"/>
<rect x="368.43" y="339.88" width="3.92" height="7.00" fill="#1d9fcc"/>
<rect x="372.35" y="339.88" width="3.92" height="7.00" fill="#e0469a"/>
<rect x="376.27" y="339.88" width="3.92" height="7.00" fill="#e0469a"/>
<rect x="380.20" y="339.88" width="3.92" height="7.00" fill="#e0469a"/>
<rect x="384.12" y="339.88" width="3.92" height="7.00" fill="#e0469a"/>
<rect x="388.05" y="339.88" width="3.92" height="7.00" fill="#1d9fcc"/>
<rect x="391.97" y="339.88" width="3.92" height="7.00" fill="#1d9fcc"/>
<rect x="395.90" y="339.88" width="3.92" height="7.00" fill="#e0469a"/>
<rect x="399.82" y="339.88" width="3.92" height="7.00" fill="#e0469a"/>
<rect x="403.75" y="339.88" width="3.92" height="7.00" fill="#1d9fcc"/>
<rect x="407.68" y="339.88" width="3.92" height="7.00" fill="#1d9fcc"/>
<rect x="411.60" y="339.88" width="3.92" height="7.00" fill="#e0469a"/>
<rect x="415.52" y="339.88" width="3.92" height="7.00" fill="#e0469a"/>
<rect x="419.45" y="339.88" width="3.92" height="7.00" fill="#1d9fcc"/>
<rect x="423.38" y="339.88" width="3.92" height="7.00" fill="#1d9fcc"/>
<rect x="427.30" y="339.88" width="3.92" height="7.00" fill="#1d9fcc"/>
<rect x="431.22" y="339.88" width="3.92" height="7.00" fill="#1d9fcc"/>
<rect x="435.15" y="339.88" width="3.92" height="7.00" fill="#1d9fcc"/>
<rect x="439.07" y="339.88" width="3.92" height="7.00" fill="#e0469a"/>
<path d="M54.42 339.88v7.0M58.35 339.88v7.0M62.27 339.88v7.0M66.20 339.88v7.0M70.12 339.88v7.0M74.05 339.88v7.0M77.97 339.88v7.0M81.90 339.88v7.0M85.82 339.88v7.0M89.75 339.88v7.0M93.67 339.88v7.0M97.60 339.88v7.0M101.53 339.88v7.0M105.45 339.88v7.0M109.38 339.88v7.0M113.30 339.88v7.0M117.22 339.88v7.0M121.15 339.88v7.0M125.08 339.88v7.0M129.00 339.88v7.0M132.93 339.88v7.0M136.85 339.88v7.0M140.77 339.88v7.0M144.70 339.88v7.0M148.62 339.88v7.0M152.55 339.88v7.0M156.47 339.88v7.0M160.40 339.88v7.0M164.32 339.88v7.0M168.25 339.88v7.0M172.18 339.88v7.0M176.10 339.88v7.0M180.03 339.88v7.0M183.95 339.88v7.0M187.88 339.88v7.0M191.80 339.88v7.0M195.72 339.88v7.0M199.65 339.88v7.0M203.57 339.88v7.0M207.50 339.88v7.0M211.42 339.88v7.0M215.35 339.88v7.0M219.28 339.88v7.0M223.20 339.88v7.0M227.12 339.88v7.0M231.05 339.88v7.0M234.97 339.88v7.0M238.90 339.88v7.0M242.82 339.88v7.0M246.75 339.88v7.0M250.67 339.88v7.0M254.60 339.88v7.0M258.52 339.88v7.0M262.45 339.88v7.0M266.38 339.88v7.0M270.30 339.88v7.0M274.23 339.88v7.0M278.15 339.88v7.0M282.07 339.88v7.0M286.00 339.88v7.0M289.92 339.88v7.0M293.85 339.88v7.0M297.77 339.88v7.0M301.70 339.88v7.0M305.62 339.88v7.0M309.55 339.88v7.0M313.47 339.88v7.0M317.40 339.88v7.0M321.32 339.88v7.0M325.25 339.88v7.0M329.18 339.88v7.0M333.10 339.88v7.0M337.02 339.88v7.0M340.95 339.88v7.0M344.88 339.88v7.0M348.80 339.88v7.0M352.72 339.88v7.0M356.65 339.88v7.0M360.57 339.88v7.0M364.50 339.88v7.0M368.43 339.88v7.0M372.35 339.88v7.0M376.27 339.88v7.0M380.20 339.88v7.0M384.12 339.88v7.0M388.05 339.88v7.0M391.97 339.88v7.0M395.90 339.88v7.0M399.82 339.88v7.0M403.75 339.88v7.0M407.68 339.88v7.0M411.60 339.88v7.0M415.52 339.88v7.0M419.45 339.88v7.0M423.38 339.88v7.0M427.30 339.88v7.0M431.22 339.88v7.0M435.15 339.88v7.0M439.07 339.88v7.0" fill="none" stroke="#e2dcdc" stroke-width="0.6" stroke-opacity="0.8"/>
<rect x="50.50" y="348.90" width="3.92" height="7.00" fill="#1e9462"/>
<rect x="54.42" y="348.90" width="3.92" height="7.00" fill="#1e9462"/>
<rect x="58.35" y="348.90" width="3.92" height="7.00" fill="#1e9462"/>
<rect x="62.27" y="348.90" width="3.92" height="7.00" fill="#1e9462"/>
<rect x="66.20" y="348.90" width="3.92" height="7.00" fill="#1e9462"/>
<rect x="70.12" y="348.90" width="3.92" height="7.00" fill="#1e9462"/>
<rect x="74.05" y="348.90" width="3.92" height="7.00" fill="#6667a8"/>
<rect x="77.97" y="348.90" width="3.92" height="7.00" fill="#1e9462"/>
<rect x="81.90" y="348.90" width="3.92" height="7.00" fill="#1e9462"/>
<rect x="85.82" y="348.90" width="3.92" height="7.00" fill="#1e9462"/>
<rect x="89.75" y="348.90" width="3.92" height="7.00" fill="#1e9462"/>
<rect x="93.67" y="348.90" width="3.92" height="7.00" fill="#1e9462"/>
<rect x="97.60" y="348.90" width="3.92" height="7.00" fill="#1e9462"/>
<rect x="101.53" y="348.90" width="3.92" height="7.00" fill="#1e9462"/>
<rect x="105.45" y="348.90" width="3.92" height="7.00" fill="#1e9462"/>
<rect x="109.38" y="348.90" width="3.92" height="7.00" fill="#6667a8"/>
<rect x="113.30" y="348.90" width="3.92" height="7.00" fill="#1e9462"/>
<rect x="117.22" y="348.90" width="3.92" height="7.00" fill="#1e9462"/>
<rect x="121.15" y="348.90" width="3.92" height="7.00" fill="#6667a8"/>
<rect x="125.08" y="348.90" width="3.92" height="7.00" fill="#1e9462"/>
<rect x="129.00" y="348.90" width="3.92" height="7.00" fill="#6667a8"/>
<rect x="132.93" y="348.90" width="3.92" height="7.00" fill="#6667a8"/>
<rect x="136.85" y="348.90" width="3.92" height="7.00" fill="#1e9462"/>
<rect x="140.77" y="348.90" width="3.92" height="7.00" fill="#1e9462"/>
<rect x="144.70" y="348.90" width="3.92" height="7.00" fill="#6667a8"/>
<rect x="148.62" y="348.90" width="3.92" height="7.00" fill="#1e9462"/>
<rect x="152.55" y="348.90" width="3.92" height="7.00" fill="#1e9462"/>
<rect x="156.47" y="348.90" width="3.92" height="7.00" fill="#6667a8"/>
<rect x="160.40" y="348.90" width="3.92" height="7.00" fill="#6667a8"/>
<rect x="164.32" y="348.90" width="3.92" height="7.00" fill="#6667a8"/>
<rect x="168.25" y="348.90" width="3.92" height="7.00" fill="#1e9462"/>
<rect x="172.18" y="348.90" width="3.92" height="7.00" fill="#6667a8"/>
<rect x="176.10" y="348.90" width="3.92" height="7.00" fill="#6667a8"/>
<rect x="180.03" y="348.90" width="3.92" height="7.00" fill="#6667a8"/>
<rect x="183.95" y="348.90" width="3.92" height="7.00" fill="#1e9462"/>
<rect x="187.88" y="348.90" width="3.92" height="7.00" fill="#1e9462"/>
<rect x="191.80" y="348.90" width="3.92" height="7.00" fill="#6667a8"/>
<rect x="195.72" y="348.90" width="3.92" height="7.00" fill="#6667a8"/>
<rect x="199.65" y="348.90" width="3.92" height="7.00" fill="#1e9462"/>
<rect x="203.57" y="348.90" width="3.92" height="7.00" fill="#1e9462"/>
<rect x="207.50" y="348.90" width="3.92" height="7.00" fill="#1e9462"/>
<rect x="211.42" y="348.90" width="3.92" height="7.00" fill="#1e9462"/>
<rect x="215.35" y="348.90" width="3.92" height="7.00" fill="#1e9462"/>
<rect x="219.28" y="348.90" width="3.92" height="7.00" fill="#6667a8"/>
<rect x="223.20" y="348.90" width="3.92" height="7.00" fill="#6667a8"/>
<rect x="227.12" y="348.90" width="3.92" height="7.00" fill="#6667a8"/>
<rect x="231.05" y="348.90" width="3.92" height="7.00" fill="#6667a8"/>
<rect x="234.97" y="348.90" width="3.92" height="7.00" fill="#6667a8"/>
<rect x="238.90" y="348.90" width="3.92" height="7.00" fill="#6667a8"/>
<rect x="242.82" y="348.90" width="3.92" height="7.00" fill="#6667a8"/>
<rect x="246.75" y="348.90" width="3.92" height="7.00" fill="#6667a8"/>
<rect x="250.67" y="348.90" width="3.92" height="7.00" fill="#1e9462"/>
<rect x="254.60" y="348.90" width="3.92" height="7.00" fill="#1e9462"/>
<rect x="258.52" y="348.90" width="3.92" height="7.00" fill="#1e9462"/>
<rect x="262.45" y="348.90" width="3.92" height="7.00" fill="#1e9462"/>
<rect x="266.38" y="348.90" width="3.92" height="7.00" fill="#1e9462"/>
<rect x="270.30" y="348.90" width="3.92" height="7.00" fill="#6667a8"/>
<rect x="274.23" y="348.90" width="3.92" height="7.00" fill="#6667a8"/>
<rect x="278.15" y="348.90" width="3.92" height="7.00" fill="#1e9462"/>
<rect x="282.07" y="348.90" width="3.92" height="7.00" fill="#1e9462"/>
<rect x="286.00" y="348.90" width="3.92" height="7.00" fill="#6667a8"/>
<rect x="289.92" y="348.90" width="3.92" height="7.00" fill="#6667a8"/>
<rect x="293.85" y="348.90" width="3.92" height="7.00" fill="#6667a8"/>
<rect x="297.77" y="348.90" width="3.92" height="7.00" fill="#6667a8"/>
<rect x="301.70" y="348.90" width="3.92" height="7.00" fill="#6667a8"/>
<rect x="305.62" y="348.90" width="3.92" height="7.00" fill="#6667a8"/>
<rect x="309.55" y="348.90" width="3.92" height="7.00" fill="#1e9462"/>
<rect x="313.47" y="348.90" width="3.92" height="7.00" fill="#6667a8"/>
<rect x="317.40" y="348.90" width="3.92" height="7.00" fill="#6667a8"/>
<rect x="321.32" y="348.90" width="3.92" height="7.00" fill="#1e9462"/>
<rect x="325.25" y="348.90" width="3.92" height="7.00" fill="#1e9462"/>
<rect x="329.18" y="348.90" width="3.92" height="7.00" fill="#1e9462"/>
<rect x="333.10" y="348.90" width="3.92" height="7.00" fill="#6667a8"/>
<rect x="337.02" y="348.90" width="3.92" height="7.00" fill="#6667a8"/>
<rect x="340.95" y="348.90" width="3.92" height="7.00" fill="#1e9462"/>
<rect x="344.88" y="348.90" width="3.92" height="7.00" fill="#6667a8"/>
<rect x="348.80" y="348.90" width="3.92" height="7.00" fill="#1e9462"/>
<rect x="352.72" y="348.90" width="3.92" height="7.00" fill="#1e9462"/>
<rect x="356.65" y="348.90" width="3.92" height="7.00" fill="#1e9462"/>
<rect x="360.57" y="348.90" width="3.92" height="7.00" fill="#6667a8"/>
<rect x="364.50" y="348.90" width="3.92" height="7.00" fill="#6667a8"/>
<rect x="368.43" y="348.90" width="3.92" height="7.00" fill="#6667a8"/>
<rect x="372.35" y="348.90" width="3.92" height="7.00" fill="#1e9462"/>
<rect x="376.27" y="348.90" width="3.92" height="7.00" fill="#1e9462"/>
<rect x="380.20" y="348.90" width="3.92" height="7.00" fill="#1e9462"/>
<rect x="384.12" y="348.90" width="3.92" height="7.00" fill="#6667a8"/>
<rect x="388.05" y="348.90" width="3.92" height="7.00" fill="#6667a8"/>
<rect x="391.97" y="348.90" width="3.92" height="7.00" fill="#6667a8"/>
<rect x="395.90" y="348.90" width="3.92" height="7.00" fill="#1e9462"/>
<rect x="399.82" y="348.90" width="3.92" height="7.00" fill="#6667a8"/>
<rect x="403.75" y="348.90" width="3.92" height="7.00" fill="#1e9462"/>
<rect x="407.68" y="348.90" width="3.92" height="7.00" fill="#6667a8"/>
<rect x="411.60" y="348.90" width="3.92" height="7.00" fill="#1e9462"/>
<rect x="415.52" y="348.90" width="3.92" height="7.00" fill="#6667a8"/>
<rect x="419.45" y="348.90" width="3.92" height="7.00" fill="#6667a8"/>
<rect x="423.38" y="348.90" width="3.92" height="7.00" fill="#6667a8"/>
<rect x="427.30" y="348.90" width="3.92" height="7.00" fill="#6667a8"/>
<rect x="431.22" y="348.90" width="3.92" height="7.00" fill="#6667a8"/>
<rect x="435.15" y="348.90" width="3.92" height="7.00" fill="#6667a8"/>
<rect x="439.07" y="348.90" width="3.92" height="7.00" fill="#6667a8"/>
<path d="M54.42 348.90v7.0M58.35 348.90v7.0M62.27 348.90v7.0M66.20 348.90v7.0M70.12 348.90v7.0M74.05 348.90v7.0M77.97 348.90v7.0M81.90 348.90v7.0M85.82 348.90v7.0M89.75 348.90v7.0M93.67 348.90v7.0M97.60 348.90v7.0M101.53 348.90v7.0M105.45 348.90v7.0M109.38 348.90v7.0M113.30 348.90v7.0M117.22 348.90v7.0M121.15 348.90v7.0M125.08 348.90v7.0M129.00 348.90v7.0M132.93 348.90v7.0M136.85 348.90v7.0M140.77 348.90v7.0M144.70 348.90v7.0M148.62 348.90v7.0M152.55 348.90v7.0M156.47 348.90v7.0M160.40 348.90v7.0M164.32 348.90v7.0M168.25 348.90v7.0M172.18 348.90v7.0M176.10 348.90v7.0M180.03 348.90v7.0M183.95 348.90v7.0M187.88 348.90v7.0M191.80 348.90v7.0M195.72 348.90v7.0M199.65 348.90v7.0M203.57 348.90v7.0M207.50 348.90v7.0M211.42 348.90v7.0M215.35 348.90v7.0M219.28 348.90v7.0M223.20 348.90v7.0M227.12 348.90v7.0M231.05 348.90v7.0M234.97 348.90v7.0M238.90 348.90v7.0M242.82 348.90v7.0M246.75 348.90v7.0M250.67 348.90v7.0M254.60 348.90v7.0M258.52 348.90v7.0M262.45 348.90v7.0M266.38 348.90v7.0M270.30 348.90v7.0M274.23 348.90v7.0M278.15 348.90v7.0M282.07 348.90v7.0M286.00 348.90v7.0M289.92 348.90v7.0M293.85 348.90v7.0M297.77 348.90v7.0M301.70 348.90v7.0M305.62 348.90v7.0M309.55 348.90v7.0M313.47 348.90v7.0M317.40 348.90v7.0M321.32 348.90v7.0M325.25 348.90v7.0M329.18 348.90v7.0M333.10 348.90v7.0M337.02 348.90v7.0M340.95 348.90v7.0M344.88 348.90v7.0M348.80 348.90v7.0M352.72 348.90v7.0M356.65 348.90v7.0M360.57 348.90v7.0M364.50 348.90v7.0M368.43 348.90v7.0M372.35 348.90v7.0M376.27 348.90v7.0M380.20 348.90v7.0M384.12 348.90v7.0M388.05 348.90v7.0M391.97 348.90v7.0M395.90 348.90v7.0M399.82 348.90v7.0M403.75 348.90v7.0M407.68 348.90v7.0M411.60 348.90v7.0M415.52 348.90v7.0M419.45 348.90v7.0M423.38 348.90v7.0M427.30 348.90v7.0M431.22 348.90v7.0M435.15 348.90v7.0M439.07 348.90v7.0" fill="none" stroke="#e2dcdc" stroke-width="0.6" stroke-opacity="0.8"/>
<text x="260.50" y="367.60" font-size="10.1" text-anchor="middle" stroke="#222" stroke-width="0.18">TCGA Lung cancer samples</text>
<defs><linearGradient id="gexp" x1="0" x2="1"><stop offset="0" stop-color="#0e2a72"/><stop offset="0.5" stop-color="#3f6fb3"/><stop offset="1" stop-color="#e4ecf6"/></linearGradient><linearGradient id="gexo" x1="0" x2="1"><stop offset="0" stop-color="#0f2a6a"/><stop offset="0.55" stop-color="#5a84c0"/><stop offset="1" stop-color="#e6eef8"/></linearGradient><linearGradient id="gmet" x1="0" x2="1"><stop offset="0" stop-color="#2a0a62"/><stop offset="0.5" stop-color="#6a50a8"/><stop offset="1" stop-color="#c4bce2"/></linearGradient><linearGradient id="gtnm" x1="0" x2="1"><stop offset="0" stop-color="#3a0a3a"/><stop offset="0.55" stop-color="#b8207a"/><stop offset="1" stop-color="#ee88b8"/></linearGradient></defs>
<text x="447.80" y="260.60" font-size="6.2" fill="#333" stroke="#333" stroke-width="0.18">6.0</text>
<text x="470.00" y="260.60" font-size="6.2" fill="#333" stroke="#333" stroke-width="0.18">1.5</text>
<rect x="447.80" y="262.30" width="29.30" height="3.90" fill="url(#gexp)"/>
<rect x="448.00" y="269.52" width="2.60" height="5.60" fill="#6d1020"/>
<text x="452.00" y="274.42" font-size="6" fill="#1a1a1a" stroke="#1a1a1a" stroke-width="0.18">M</text>
<rect x="465.40" y="269.52" width="2.60" height="5.60" fill="#fbfbfb" stroke="#d8d8d8" stroke-width="0.4"/>
<text x="470.80" y="274.42" font-size="6" fill="#1a1a1a" stroke="#1a1a1a" stroke-width="0.18">NM</text>
<rect x="448.00" y="278.54" width="2.60" height="5.60" fill="#1b5b33"/>
<text x="452.00" y="283.44" font-size="6" fill="#1a1a1a" stroke="#1a1a1a" stroke-width="0.18">M</text>
<rect x="465.40" y="278.54" width="2.60" height="5.60" fill="#fbfbfb" stroke="#d8d8d8" stroke-width="0.4"/>
<text x="470.80" y="283.44" font-size="6" fill="#1a1a1a" stroke="#1a1a1a" stroke-width="0.18">NM</text>
<rect x="448.00" y="287.56" width="2.60" height="5.60" fill="#121212"/>
<text x="452.00" y="292.46" font-size="6" fill="#1a1a1a" stroke="#1a1a1a" stroke-width="0.18">M</text>
<rect x="465.40" y="287.56" width="2.60" height="5.60" fill="#fbfbfb" stroke="#d8d8d8" stroke-width="0.4"/>
<text x="470.80" y="292.46" font-size="6" fill="#1a1a1a" stroke="#1a1a1a" stroke-width="0.18">NM</text>
<rect x="448.00" y="295.78" width="2.60" height="5.60" fill="#62c6a2"/>
<text x="452.00" y="300.68" font-size="6" fill="#1a1a1a" stroke="#1a1a1a" stroke-width="0.18">T</text>
<rect x="465.40" y="295.78" width="2.60" height="5.60" fill="#a8a8a8"/>
<text x="470.80" y="300.68" font-size="6" fill="#1a1a1a" stroke="#1a1a1a" stroke-width="0.18">B</text>
<rect x="448.00" y="304.80" width="2.60" height="5.60" fill="#fad8a8"/>
<text x="452.00" y="309.70" font-size="6" fill="#1a1a1a" stroke="#1a1a1a" stroke-width="0.18">N</text>
<rect x="458.50" y="304.80" width="2.60" height="5.60" fill="#fbfbfb" stroke="#d8d8d8" stroke-width="0.4"/>
<text x="462.50" y="309.70" font-size="6" fill="#1a1a1a" stroke="#1a1a1a" stroke-width="0.18">L</text>
<rect x="467.40" y="304.80" width="2.60" height="5.60" fill="#eebcc0"/>
<text x="471.50" y="309.70" font-size="6" fill="#1a1a1a" stroke="#1a1a1a" stroke-width="0.18">G</text>
<text x="448.20" y="314.80" font-size="3.2" text-anchor="middle" fill="#555" stroke="#555" stroke-width="0.18">0</text>
<text x="461.50" y="314.80" font-size="3.2" text-anchor="middle" fill="#555" stroke="#555" stroke-width="0.18">2</text>
<text x="474.60" y="314.80" font-size="3.2" text-anchor="middle" fill="#555" stroke="#555" stroke-width="0.18">4</text>
<rect x="447.80" y="316.10" width="23.00" height="4.30" fill="url(#gexo)"/>
<text x="449.50" y="324.30" font-size="3.2" text-anchor="middle" fill="#555" stroke="#555" stroke-width="0.18">0.6</text>
<text x="459.20" y="324.30" font-size="3.2" text-anchor="middle" fill="#555" stroke="#555" stroke-width="0.18">0.4</text>
<text x="469.50" y="324.30" font-size="3.2" text-anchor="middle" fill="#555" stroke="#555" stroke-width="0.18">0.2</text>
<rect x="447.80" y="325.60" width="23.00" height="4.20" fill="url(#gmet)"/>
<text x="451.00" y="333.60" font-size="3.2" text-anchor="middle" fill="#555" stroke="#555" stroke-width="0.18">II</text>
<text x="463.00" y="333.60" font-size="3.2" text-anchor="middle" fill="#555" stroke="#555" stroke-width="0.18">III</text>
<text x="476.00" y="333.60" font-size="3.2" text-anchor="middle" fill="#555" stroke="#555" stroke-width="0.18">IV</text>
<rect x="447.80" y="334.80" width="24.50" height="4.00" fill="url(#gtnm)"/>
<rect x="448.00" y="340.58" width="2.60" height="5.60" fill="#1d9fcc"/>
<text x="452.00" y="345.48" font-size="6" fill="#1a1a1a" stroke="#1a1a1a" stroke-width="0.18">M</text>
<rect x="467.00" y="340.58" width="2.60" height="5.60" fill="#e0469a"/>
<text x="471.00" y="345.48" font-size="6" fill="#1a1a1a" stroke="#1a1a1a" stroke-width="0.18">F</text>
<rect x="448.00" y="349.60" width="2.60" height="5.60" fill="#1e9462"/>
<text x="452.00" y="354.10" font-size="4.7" stroke="#222" stroke-width="0.18">LUAD</text>
<rect x="466.00" y="349.60" width="2.60" height="5.60" fill="#6667a8"/>
<text x="470.00" y="354.10" font-size="4.7" stroke="#222" stroke-width="0.18">LUSC</text>
<text x="86.80" y="400.50" font-size="10.1" text-anchor="middle" fill="#1a1a1a" stroke="#1a1a1a" stroke-width="0.18">Lung squamous cell carcinoma</text>
<line x1="30.60" y1="419.50" x2="30.60" y2="534.00" stroke="#8c8c8c" stroke-width="0.8"/>
<line x1="30.60" y1="534.00" x2="153.00" y2="534.00" stroke="#8c8c8c" stroke-width="0.8"/>
<line x1="28.60" y1="422.70" x2="30.60" y2="422.70" stroke="#8c8c8c" stroke-width="0.7"/>
<text x="28.00" y="424.80" font-size="6.1" text-anchor="end" fill="#2a2a2a" stroke="#2a2a2a" stroke-width="0.18">1.00</text>
<line x1="28.60" y1="449.18" x2="30.60" y2="449.18" stroke="#8c8c8c" stroke-width="0.7"/>
<text x="28.00" y="451.28" font-size="6.1" text-anchor="end" fill="#2a2a2a" stroke="#2a2a2a" stroke-width="0.18">0.75</text>
<line x1="28.60" y1="475.65" x2="30.60" y2="475.65" stroke="#8c8c8c" stroke-width="0.7"/>
<text x="28.00" y="477.75" font-size="6.1" text-anchor="end" fill="#2a2a2a" stroke="#2a2a2a" stroke-width="0.18">0.50</text>
<line x1="28.60" y1="502.12" x2="30.60" y2="502.12" stroke="#8c8c8c" stroke-width="0.7"/>
<text x="28.00" y="504.23" font-size="6.1" text-anchor="end" fill="#2a2a2a" stroke="#2a2a2a" stroke-width="0.18">0.25</text>
<line x1="28.60" y1="528.60" x2="30.60" y2="528.60" stroke="#8c8c8c" stroke-width="0.7"/>
<text x="28.00" y="530.70" font-size="6.1" text-anchor="end" fill="#2a2a2a" stroke="#2a2a2a" stroke-width="0.18">0.00</text>
<line x1="36.30" y1="534.00" x2="36.30" y2="536.00" stroke="#8c8c8c" stroke-width="0.7"/>
<text x="36.30" y="541.40" font-size="6.1" text-anchor="middle" fill="#2a2a2a" stroke="#2a2a2a" stroke-width="0.18">0</text>
<line x1="58.65" y1="534.00" x2="58.65" y2="536.00" stroke="#8c8c8c" stroke-width="0.7"/>
<text x="58.65" y="541.40" font-size="6.1" text-anchor="middle" fill="#2a2a2a" stroke="#2a2a2a" stroke-width="0.18">1,000</text>
<line x1="81.00" y1="534.00" x2="81.00" y2="536.00" stroke="#8c8c8c" stroke-width="0.7"/>
<text x="81.00" y="541.40" font-size="6.1" text-anchor="middle" fill="#2a2a2a" stroke="#2a2a2a" stroke-width="0.18">2,000</text>
<line x1="103.35" y1="534.00" x2="103.35" y2="536.00" stroke="#8c8c8c" stroke-width="0.7"/>
<text x="103.35" y="541.40" font-size="6.1" text-anchor="middle" fill="#2a2a2a" stroke="#2a2a2a" stroke-width="0.18">3,000</text>
<line x1="125.70" y1="534.00" x2="125.70" y2="536.00" stroke="#8c8c8c" stroke-width="0.7"/>
<text x="125.70" y="541.40" font-size="6.1" text-anchor="middle" fill="#2a2a2a" stroke="#2a2a2a" stroke-width="0.18">4,000</text>
<line x1="148.05" y1="534.00" x2="148.05" y2="536.00" stroke="#8c8c8c" stroke-width="0.7"/>
<text x="148.05" y="541.40" font-size="6.1" text-anchor="middle" fill="#2a2a2a" stroke="#2a2a2a" stroke-width="0.18">5,000</text>
<text x="87.50" y="551.90" font-size="8.3" text-anchor="middle" fill="#1a1a1a" stroke="#1a1a1a" stroke-width="0.18">Time (d)</text>
<text x="8.30" y="472.30" font-size="8.2" text-anchor="middle" fill="#1a1a1a" stroke="#1a1a1a" stroke-width="0.18" transform="rotate(-90 8.30 472.30)">Disease-free interval</text>
<text x="39.00" y="511.00" font-size="6.1" fill="#2a2a2a" stroke="#2a2a2a" stroke-width="0.18"><tspan font-style="italic">P</tspan> = 0.038</text>
<path d="M36.50 423.10 L141.50 423.10" fill="none" stroke="#5c4aa0" stroke-width="1.25" stroke-linejoin="miter"/>
<line x1="44.10" y1="420.50" x2="44.10" y2="424.00" stroke="#5c4aa0" stroke-width="0.9"/>
<line x1="57.40" y1="420.50" x2="57.40" y2="424.00" stroke="#5c4aa0" stroke-width="0.9"/>
<line x1="65.00" y1="420.50" x2="65.00" y2="424.00" stroke="#5c4aa0" stroke-width="0.9"/>
<line x1="98.80" y1="420.50" x2="98.80" y2="424.00" stroke="#5c4aa0" stroke-width="0.9"/>
<line x1="130.80" y1="420.50" x2="130.80" y2="424.00" stroke="#5c4aa0" stroke-width="0.9"/>
<line x1="140.00" y1="420.50" x2="140.00" y2="424.00" stroke="#5c4aa0" stroke-width="0.9"/>
<path d="M36.50 423.10 L39.80 423.10 L39.80 429.10 L47.80 429.10 L47.80 436.00 L48.60 436.00 L48.60 447.60 L55.00 447.60 L55.00 469.80 L65.90 469.80 L65.90 489.30 L78.90 489.30" fill="none" stroke="#e3232b" stroke-width="1.55" stroke-linejoin="miter"/>
<line x1="38.50" y1="420.50" x2="38.50" y2="424.00" stroke="#e3232b" stroke-width="0.9"/>
<line x1="53.20" y1="445.00" x2="53.20" y2="448.50" stroke="#e3232b" stroke-width="0.9"/>
<line x1="55.00" y1="454.80" x2="55.00" y2="458.30" stroke="#e3232b" stroke-width="0.9"/>
<line x1="59.30" y1="467.20" x2="59.30" y2="470.70" stroke="#e3232b" stroke-width="0.9"/>
<line x1="64.20" y1="467.20" x2="64.20" y2="470.70" stroke="#e3232b" stroke-width="0.9"/>
<line x1="70.40" y1="486.70" x2="70.40" y2="490.20" stroke="#e3232b" stroke-width="0.9"/>
<line x1="77.60" y1="486.70" x2="77.60" y2="490.20" stroke="#e3232b" stroke-width="0.9"/>
<text x="122.90" y="441.40" font-size="6.9" text-anchor="middle" fill="#1a1a1a" stroke="#1a1a1a" stroke-width="0.18">Strata</text>
<line x1="95.20" y1="450.50" x2="103.80" y2="450.50" stroke="#e3232b" stroke-width="1.3"/>
<path d="M98.00 450.50 L99.50 448.50 L101.00 450.50 Z" fill="#e3232b"/>
<text x="105.50" y="453.10" font-size="6.9" fill="#2a2a2a" stroke="#2a2a2a" stroke-width="0.18">CIEN - Ins = 0</text>
<line x1="95.20" y1="462.60" x2="103.80" y2="462.60" stroke="#5c4aa0" stroke-width="1.3"/>
<path d="M98.00 462.60 L99.50 460.60 L101.00 462.60 Z" fill="#5c4aa0"/>
<text x="105.50" y="465.20" font-size="6.9" fill="#2a2a2a" stroke="#2a2a2a" stroke-width="0.18">CIEN - Ins =1</text>
<text x="31.20" y="564.30" font-size="6.1" fill="#1a1a1a" stroke="#1a1a1a" stroke-width="0.18">No. at risk: <tspan font-style="italic">n</tspan> (%)</text>
<text x="7.80" y="577.30" font-size="8.2" text-anchor="middle" fill="#1a1a1a" stroke="#1a1a1a" stroke-width="0.18" transform="rotate(-90 7.80 577.30)">Strata</text>
<line x1="18.40" y1="571.70" x2="25.60" y2="571.70" stroke="#e3232b" stroke-width="1.5"/>
<text x="32.80" y="575.70" font-size="6.0" fill="#2a2a2a" stroke="#2a2a2a" stroke-width="0.18">19(100)</text>
<text x="56.10" y="575.70" font-size="6.0" fill="#2a2a2a" stroke="#2a2a2a" stroke-width="0.18">5(26)</text>
<text x="75.60" y="575.70" font-size="6.0" fill="#2a2a2a" stroke="#2a2a2a" stroke-width="0.18">0(0)</text>
<text x="98.10" y="575.70" font-size="6.0" fill="#2a2a2a" stroke="#2a2a2a" stroke-width="0.18">0(0)</text>
<text x="120.60" y="575.70" font-size="6.0" fill="#2a2a2a" stroke="#2a2a2a" stroke-width="0.18">0(0)</text>
<text x="143.00" y="575.70" font-size="6.0" fill="#2a2a2a" stroke="#2a2a2a" stroke-width="0.18">0(0)</text>
<line x1="18.40" y1="582.50" x2="25.60" y2="582.50" stroke="#5c4aa0" stroke-width="1.5"/>
<text x="32.80" y="587.40" font-size="6.0" fill="#2a2a2a" stroke="#2a2a2a" stroke-width="0.18">8(100)</text>
<text x="56.10" y="587.40" font-size="6.0" fill="#2a2a2a" stroke="#2a2a2a" stroke-width="0.18">4(50)</text>
<text x="75.60" y="587.40" font-size="6.0" fill="#2a2a2a" stroke="#2a2a2a" stroke-width="0.18">3(38)</text>
<text x="98.10" y="587.40" font-size="6.0" fill="#2a2a2a" stroke="#2a2a2a" stroke-width="0.18">2(25)</text>
<text x="120.60" y="587.40" font-size="6.0" fill="#2a2a2a" stroke="#2a2a2a" stroke-width="0.18">2(25)</text>
<text x="143.00" y="587.40" font-size="6.0" fill="#2a2a2a" stroke="#2a2a2a" stroke-width="0.18">0(0)</text>
<line x1="30.60" y1="570.20" x2="30.60" y2="589.60" stroke="#8c8c8c" stroke-width="0.8"/>
<line x1="30.60" y1="589.60" x2="153.00" y2="589.60" stroke="#8c8c8c" stroke-width="0.8"/>
<line x1="36.30" y1="589.60" x2="36.30" y2="591.60" stroke="#8c8c8c" stroke-width="0.7"/>
<text x="36.30" y="597.60" font-size="6.1" text-anchor="middle" fill="#2a2a2a" stroke="#2a2a2a" stroke-width="0.18">0</text>
<line x1="58.65" y1="589.60" x2="58.65" y2="591.60" stroke="#8c8c8c" stroke-width="0.7"/>
<text x="58.65" y="597.60" font-size="6.1" text-anchor="middle" fill="#2a2a2a" stroke="#2a2a2a" stroke-width="0.18">1,000</text>
<line x1="81.00" y1="589.60" x2="81.00" y2="591.60" stroke="#8c8c8c" stroke-width="0.7"/>
<text x="81.00" y="597.60" font-size="6.1" text-anchor="middle" fill="#2a2a2a" stroke="#2a2a2a" stroke-width="0.18">2,000</text>
<line x1="103.35" y1="589.60" x2="103.35" y2="591.60" stroke="#8c8c8c" stroke-width="0.7"/>
<text x="103.35" y="597.60" font-size="6.1" text-anchor="middle" fill="#2a2a2a" stroke="#2a2a2a" stroke-width="0.18">3,000</text>
<line x1="125.70" y1="589.60" x2="125.70" y2="591.60" stroke="#8c8c8c" stroke-width="0.7"/>
<text x="125.70" y="597.60" font-size="6.1" text-anchor="middle" fill="#2a2a2a" stroke="#2a2a2a" stroke-width="0.18">4,000</text>
<line x1="148.05" y1="589.60" x2="148.05" y2="591.60" stroke="#8c8c8c" stroke-width="0.7"/>
<text x="148.05" y="597.60" font-size="6.1" text-anchor="middle" fill="#2a2a2a" stroke="#2a2a2a" stroke-width="0.18">5,000</text>
<text x="87.50" y="611.20" font-size="8.3" text-anchor="middle" fill="#1a1a1a" stroke="#1a1a1a" stroke-width="0.18">Time (d)</text>
<text x="274.80" y="399.60" font-size="10.1" text-anchor="middle" fill="#1a1a1a" stroke="#1a1a1a" stroke-width="0.18">Lung cancer</text>
<line x1="216.50" y1="417.30" x2="216.50" y2="533.60" stroke="#8c8c8c" stroke-width="0.8"/>
<line x1="216.50" y1="533.60" x2="336.80" y2="533.60" stroke="#8c8c8c" stroke-width="0.8"/>
<line x1="214.50" y1="421.70" x2="216.50" y2="421.70" stroke="#8c8c8c" stroke-width="0.7"/>
<text x="213.90" y="423.80" font-size="6.1" text-anchor="end" fill="#2a2a2a" stroke="#2a2a2a" stroke-width="0.18">1.00</text>
<line x1="214.50" y1="448.18" x2="216.50" y2="448.18" stroke="#8c8c8c" stroke-width="0.7"/>
<text x="213.90" y="450.28" font-size="6.1" text-anchor="end" fill="#2a2a2a" stroke="#2a2a2a" stroke-width="0.18">0.75</text>
<line x1="214.50" y1="474.65" x2="216.50" y2="474.65" stroke="#8c8c8c" stroke-width="0.7"/>
<text x="213.90" y="476.75" font-size="6.1" text-anchor="end" fill="#2a2a2a" stroke="#2a2a2a" stroke-width="0.18">0.50</text>
<line x1="214.50" y1="501.12" x2="216.50" y2="501.12" stroke="#8c8c8c" stroke-width="0.7"/>
<text x="213.90" y="503.23" font-size="6.1" text-anchor="end" fill="#2a2a2a" stroke="#2a2a2a" stroke-width="0.18">0.25</text>
<line x1="214.50" y1="527.60" x2="216.50" y2="527.60" stroke="#8c8c8c" stroke-width="0.7"/>
<text x="213.90" y="529.70" font-size="6.1" text-anchor="end" fill="#2a2a2a" stroke="#2a2a2a" stroke-width="0.18">0.00</text>
<line x1="221.30" y1="533.60" x2="221.30" y2="535.60" stroke="#8c8c8c" stroke-width="0.7"/>
<text x="221.30" y="541.00" font-size="6.1" text-anchor="middle" fill="#2a2a2a" stroke="#2a2a2a" stroke-width="0.18">0</text>
<line x1="243.42" y1="533.60" x2="243.42" y2="535.60" stroke="#8c8c8c" stroke-width="0.7"/>
<text x="243.42" y="541.00" font-size="6.1" text-anchor="middle" fill="#2a2a2a" stroke="#2a2a2a" stroke-width="0.18">1,000</text>
<line x1="265.54" y1="533.60" x2="265.54" y2="535.60" stroke="#8c8c8c" stroke-width="0.7"/>
<text x="265.54" y="541.00" font-size="6.1" text-anchor="middle" fill="#2a2a2a" stroke="#2a2a2a" stroke-width="0.18">2,000</text>
<line x1="287.66" y1="533.60" x2="287.66" y2="535.60" stroke="#8c8c8c" stroke-width="0.7"/>
<text x="287.66" y="541.00" font-size="6.1" text-anchor="middle" fill="#2a2a2a" stroke="#2a2a2a" stroke-width="0.18">3,000</text>
<line x1="309.78" y1="533.60" x2="309.78" y2="535.60" stroke="#8c8c8c" stroke-width="0.7"/>
<text x="309.78" y="541.00" font-size="6.1" text-anchor="middle" fill="#2a2a2a" stroke="#2a2a2a" stroke-width="0.18">4,000</text>
<line x1="331.90" y1="533.60" x2="331.90" y2="535.60" stroke="#8c8c8c" stroke-width="0.7"/>
<text x="331.90" y="541.00" font-size="6.1" text-anchor="middle" fill="#2a2a2a" stroke="#2a2a2a" stroke-width="0.18">5,000</text>
<text x="282.60" y="551.50" font-size="8.3" text-anchor="middle" fill="#1a1a1a" stroke="#1a1a1a" stroke-width="0.18">Time (d)</text>
<text x="194.30" y="470.40" font-size="8.2" text-anchor="middle" fill="#1a1a1a" stroke="#1a1a1a" stroke-width="0.18" transform="rotate(-90 194.30 470.40)">Disease-free interval</text>
<text x="223.80" y="510.40" font-size="6.1" fill="#2a2a2a" stroke="#2a2a2a" stroke-width="0.18"><tspan font-style="italic">P</tspan> = 0.079</text>
<path d="M222.00 422.00 L232.10 422.00 L232.10 429.70 L237.90 429.70 L237.90 436.70 L245.20 436.70 L245.20 446.80 L249.10 446.80 L249.10 456.40 L326.30 456.40" fill="none" stroke="#5c4aa0" stroke-width="1.25" stroke-linejoin="miter"/>
<line x1="229.70" y1="419.40" x2="229.70" y2="422.90" stroke="#5c4aa0" stroke-width="0.9"/>
<line x1="242.10" y1="434.10" x2="242.10" y2="437.60" stroke="#5c4aa0" stroke-width="0.9"/>
<line x1="251.40" y1="453.80" x2="251.40" y2="457.30" stroke="#5c4aa0" stroke-width="0.9"/>
<line x1="257.60" y1="453.80" x2="257.60" y2="457.30" stroke="#5c4aa0" stroke-width="0.9"/>
<line x1="283.70" y1="453.80" x2="283.70" y2="457.30" stroke="#5c4aa0" stroke-width="0.9"/>
<line x1="294.00" y1="453.80" x2="294.00" y2="457.30" stroke="#5c4aa0" stroke-width="0.9"/>
<line x1="315.50" y1="453.80" x2="315.50" y2="457.30" stroke="#5c4aa0" stroke-width="0.9"/>
<line x1="325.80" y1="453.80" x2="325.80" y2="457.30" stroke="#5c4aa0" stroke-width="0.9"/>
<path d="M222.00 422.00 L225.10 422.00 L225.10 425.10 L226.60 425.10 L226.60 427.40 L228.20 427.40 L228.20 430.50 L230.50 430.50 L230.50 435.20 L232.10 435.20 L232.10 439.80 L232.90 439.80 L232.90 455.30 L239.80 455.30 L239.80 468.50 L251.40 468.50 L251.40 478.30 L267.40 478.30 L267.40 502.60" fill="none" stroke="#e3232b" stroke-width="1.55" stroke-linejoin="miter"/>
<line x1="224.00" y1="419.40" x2="224.00" y2="422.90" stroke="#e3232b" stroke-width="0.9"/>
<line x1="237.50" y1="452.70" x2="237.50" y2="456.20" stroke="#e3232b" stroke-width="0.9"/>
<line x1="239.80" y1="458.10" x2="239.80" y2="461.60" stroke="#e3232b" stroke-width="0.9"/>
<line x1="246.80" y1="465.90" x2="246.80" y2="469.40" stroke="#e3232b" stroke-width="0.9"/>
<line x1="256.10" y1="475.70" x2="256.10" y2="479.20" stroke="#e3232b" stroke-width="0.9"/>
<line x1="263.40" y1="475.70" x2="263.40" y2="479.20" stroke="#e3232b" stroke-width="0.9"/>
<line x1="267.40" y1="500.00" x2="267.40" y2="503.50" stroke="#e3232b" stroke-width="0.9"/>
<text x="313.90" y="421.20" font-size="6.9" text-anchor="middle" fill="#1a1a1a" stroke="#1a1a1a" stroke-width="0.18">Strata</text>
<line x1="286.00" y1="428.00" x2="294.40" y2="428.00" stroke="#e3232b" stroke-width="1.3"/>
<path d="M288.70 428.00 L290.20 426.00 L291.70 428.00 Z" fill="#e3232b"/>
<text x="296.20" y="430.60" font-size="6.9" fill="#2a2a2a" stroke="#2a2a2a" stroke-width="0.18">CIEN - Ins = 0</text>
<line x1="286.00" y1="439.90" x2="294.40" y2="439.90" stroke="#5c4aa0" stroke-width="1.3"/>
<path d="M288.70 439.90 L290.20 437.90 L291.70 439.90 Z" fill="#5c4aa0"/>
<text x="296.20" y="442.50" font-size="6.9" fill="#2a2a2a" stroke="#2a2a2a" stroke-width="0.18">CIEN - Ins =1</text>
<text x="217.10" y="564.50" font-size="6.1" fill="#1a1a1a" stroke="#1a1a1a" stroke-width="0.18">No. at risk: <tspan font-style="italic">n</tspan> (%)</text>
<text x="193.60" y="575.50" font-size="8.2" text-anchor="middle" fill="#1a1a1a" stroke="#1a1a1a" stroke-width="0.18" transform="rotate(-90 193.60 575.50)">Strata</text>
<line x1="204.30" y1="569.50" x2="211.50" y2="569.50" stroke="#e3232b" stroke-width="1.5"/>
<text x="218.20" y="572.30" font-size="6.0" fill="#2a2a2a" stroke="#2a2a2a" stroke-width="0.18">28(100)</text>
<text x="241.50" y="572.30" font-size="6.0" fill="#2a2a2a" stroke="#2a2a2a" stroke-width="0.18">9(32)</text>
<text x="260.70" y="572.30" font-size="6.0" fill="#2a2a2a" stroke="#2a2a2a" stroke-width="0.18">2(7)</text>
<text x="282.40" y="572.30" font-size="6.0" fill="#2a2a2a" stroke="#2a2a2a" stroke-width="0.18">0(0)</text>
<text x="304.30" y="572.30" font-size="6.0" fill="#2a2a2a" stroke="#2a2a2a" stroke-width="0.18">0(0)</text>
<text x="327.60" y="572.30" font-size="6.0" fill="#2a2a2a" stroke="#2a2a2a" stroke-width="0.18">0(0)</text>
<line x1="204.30" y1="581.00" x2="211.50" y2="581.00" stroke="#605a7a" stroke-width="1.5"/>
<text x="218.20" y="585.10" font-size="6.0" fill="#2a2a2a" stroke="#2a2a2a" stroke-width="0.18">18(100)</text>
<text x="241.50" y="585.10" font-size="6.0" fill="#2a2a2a" stroke="#2a2a2a" stroke-width="0.18">9(50)</text>
<text x="260.70" y="585.10" font-size="6.0" fill="#2a2a2a" stroke="#2a2a2a" stroke-width="0.18">4(22)</text>
<text x="282.40" y="585.10" font-size="6.0" fill="#2a2a2a" stroke="#2a2a2a" stroke-width="0.18">3(17)</text>
<text x="304.30" y="585.10" font-size="6.0" fill="#2a2a2a" stroke="#2a2a2a" stroke-width="0.18">2(11)</text>
<text x="327.60" y="585.10" font-size="6.0" fill="#2a2a2a" stroke="#2a2a2a" stroke-width="0.18">0(0)</text>
<line x1="216.50" y1="567.50" x2="216.50" y2="588.70" stroke="#8c8c8c" stroke-width="0.8"/>
<line x1="216.50" y1="588.70" x2="336.80" y2="588.70" stroke="#8c8c8c" stroke-width="0.8"/>
<line x1="221.30" y1="588.70" x2="221.30" y2="590.70" stroke="#8c8c8c" stroke-width="0.7"/>
<text x="221.30" y="596.70" font-size="6.1" text-anchor="middle" fill="#2a2a2a" stroke="#2a2a2a" stroke-width="0.18">0</text>
<line x1="243.42" y1="588.70" x2="243.42" y2="590.70" stroke="#8c8c8c" stroke-width="0.7"/>
<text x="243.42" y="596.70" font-size="6.1" text-anchor="middle" fill="#2a2a2a" stroke="#2a2a2a" stroke-width="0.18">1,000</text>
<line x1="265.54" y1="588.70" x2="265.54" y2="590.70" stroke="#8c8c8c" stroke-width="0.7"/>
<text x="265.54" y="596.70" font-size="6.1" text-anchor="middle" fill="#2a2a2a" stroke="#2a2a2a" stroke-width="0.18">2,000</text>
<line x1="287.66" y1="588.70" x2="287.66" y2="590.70" stroke="#8c8c8c" stroke-width="0.7"/>
<text x="287.66" y="596.70" font-size="6.1" text-anchor="middle" fill="#2a2a2a" stroke="#2a2a2a" stroke-width="0.18">3,000</text>
<line x1="309.78" y1="588.70" x2="309.78" y2="590.70" stroke="#8c8c8c" stroke-width="0.7"/>
<text x="309.78" y="596.70" font-size="6.1" text-anchor="middle" fill="#2a2a2a" stroke="#2a2a2a" stroke-width="0.18">4,000</text>
<line x1="331.90" y1="588.70" x2="331.90" y2="590.70" stroke="#8c8c8c" stroke-width="0.7"/>
<text x="331.90" y="596.70" font-size="6.1" text-anchor="middle" fill="#2a2a2a" stroke="#2a2a2a" stroke-width="0.18">5,000</text>
<text x="282.60" y="610.30" font-size="8.3" text-anchor="middle" fill="#1a1a1a" stroke="#1a1a1a" stroke-width="0.18">Time (d)</text>
<text x="449.50" y="399.60" font-size="10.1" text-anchor="middle" fill="#1a1a1a" stroke="#1a1a1a" stroke-width="0.18">Lung cancer</text>
<line x1="395.90" y1="418.60" x2="395.90" y2="533.20" stroke="#8c8c8c" stroke-width="0.8"/>
<line x1="395.90" y1="533.20" x2="520.00" y2="533.20" stroke="#8c8c8c" stroke-width="0.8"/>
<line x1="393.90" y1="422.20" x2="395.90" y2="422.20" stroke="#8c8c8c" stroke-width="0.7"/>
<text x="393.30" y="424.30" font-size="6.1" text-anchor="end" fill="#2a2a2a" stroke="#2a2a2a" stroke-width="0.18">1.00</text>
<line x1="393.90" y1="448.60" x2="395.90" y2="448.60" stroke="#8c8c8c" stroke-width="0.7"/>
<text x="393.30" y="450.70" font-size="6.1" text-anchor="end" fill="#2a2a2a" stroke="#2a2a2a" stroke-width="0.18">0.75</text>
<line x1="393.90" y1="475.00" x2="395.90" y2="475.00" stroke="#8c8c8c" stroke-width="0.7"/>
<text x="393.30" y="477.10" font-size="6.1" text-anchor="end" fill="#2a2a2a" stroke="#2a2a2a" stroke-width="0.18">0.50</text>
<line x1="393.90" y1="501.40" x2="395.90" y2="501.40" stroke="#8c8c8c" stroke-width="0.7"/>
<text x="393.30" y="503.50" font-size="6.1" text-anchor="end" fill="#2a2a2a" stroke="#2a2a2a" stroke-width="0.18">0.25</text>
<line x1="393.90" y1="527.80" x2="395.90" y2="527.80" stroke="#8c8c8c" stroke-width="0.7"/>
<text x="393.30" y="529.90" font-size="6.1" text-anchor="end" fill="#2a2a2a" stroke="#2a2a2a" stroke-width="0.18">0.00</text>
<line x1="401.30" y1="533.20" x2="401.30" y2="535.20" stroke="#8c8c8c" stroke-width="0.7"/>
<text x="401.30" y="540.60" font-size="6.1" text-anchor="middle" fill="#2a2a2a" stroke="#2a2a2a" stroke-width="0.18">0</text>
<line x1="423.84" y1="533.20" x2="423.84" y2="535.20" stroke="#8c8c8c" stroke-width="0.7"/>
<text x="423.84" y="540.60" font-size="6.1" text-anchor="middle" fill="#2a2a2a" stroke="#2a2a2a" stroke-width="0.18">1,000</text>
<line x1="446.38" y1="533.20" x2="446.38" y2="535.20" stroke="#8c8c8c" stroke-width="0.7"/>
<text x="446.38" y="540.60" font-size="6.1" text-anchor="middle" fill="#2a2a2a" stroke="#2a2a2a" stroke-width="0.18">2,000</text>
<line x1="468.92" y1="533.20" x2="468.92" y2="535.20" stroke="#8c8c8c" stroke-width="0.7"/>
<text x="468.92" y="540.60" font-size="6.1" text-anchor="middle" fill="#2a2a2a" stroke="#2a2a2a" stroke-width="0.18">3,000</text>
<line x1="491.46" y1="533.20" x2="491.46" y2="535.20" stroke="#8c8c8c" stroke-width="0.7"/>
<text x="491.46" y="540.60" font-size="6.1" text-anchor="middle" fill="#2a2a2a" stroke="#2a2a2a" stroke-width="0.18">4,000</text>
<line x1="514.00" y1="533.20" x2="514.00" y2="535.20" stroke="#8c8c8c" stroke-width="0.7"/>
<text x="514.00" y="540.60" font-size="6.1" text-anchor="middle" fill="#2a2a2a" stroke="#2a2a2a" stroke-width="0.18">5,000</text>
<text x="462.60" y="551.10" font-size="8.3" text-anchor="middle" fill="#1a1a1a" stroke="#1a1a1a" stroke-width="0.18">Time (d)</text>
<text x="373.50" y="472.30" font-size="8.2" text-anchor="middle" fill="#1a1a1a" stroke="#1a1a1a" stroke-width="0.18" transform="rotate(-90 373.50 472.30)">Progression-free survival</text>
<text x="403.20" y="510.40" font-size="6.1" fill="#2a2a2a" stroke="#2a2a2a" stroke-width="0.18"><tspan font-style="italic">P</tspan> = 0.063</text>
<path d="M401.50 421.50 L403.50 421.50 L403.50 425.00 L405.80 425.00 L405.80 430.50 L410.50 430.50 L410.50 432.80 L412.00 432.80 L412.00 435.90 L417.50 435.90 L417.50 440.60 L418.60 440.60 L418.60 449.00 L422.90 449.00 L422.90 452.20 L424.90 452.20 L424.90 456.00 L428.30 456.00 L428.30 461.50 L440.90 461.50 L440.90 473.10 L505.60 473.10" fill="none" stroke="#7d7cc4" stroke-width="1.35" stroke-linejoin="miter"/>
<line x1="403.00" y1="418.90" x2="403.00" y2="422.40" stroke="#7d7cc4" stroke-width="0.9"/>
<line x1="409.00" y1="427.90" x2="409.00" y2="431.40" stroke="#7d7cc4" stroke-width="0.9"/>
<line x1="414.50" y1="433.30" x2="414.50" y2="436.80" stroke="#7d7cc4" stroke-width="0.9"/>
<line x1="421.00" y1="446.40" x2="421.00" y2="449.90" stroke="#7d7cc4" stroke-width="0.9"/>
<line x1="426.50" y1="453.40" x2="426.50" y2="456.90" stroke="#7d7cc4" stroke-width="0.9"/>
<line x1="433.00" y1="458.90" x2="433.00" y2="462.40" stroke="#7d7cc4" stroke-width="0.9"/>
<line x1="437.00" y1="458.90" x2="437.00" y2="462.40" stroke="#7d7cc4" stroke-width="0.9"/>
<line x1="450.60" y1="470.50" x2="450.60" y2="474.00" stroke="#7d7cc4" stroke-width="0.9"/>
<line x1="463.50" y1="470.50" x2="463.50" y2="474.00" stroke="#7d7cc4" stroke-width="0.9"/>
<line x1="473.30" y1="470.50" x2="473.30" y2="474.00" stroke="#7d7cc4" stroke-width="0.9"/>
<line x1="495.80" y1="470.50" x2="495.80" y2="474.00" stroke="#7d7cc4" stroke-width="0.9"/>
<line x1="505.00" y1="470.50" x2="505.00" y2="474.00" stroke="#7d7cc4" stroke-width="0.9"/>
<path d="M401.50 421.50 L403.00 421.50 L403.00 424.00 L404.30 424.00 L404.30 427.40 L405.80 427.40 L405.80 432.80 L409.70 432.80 L409.70 435.90 L411.30 435.90 L411.30 439.80 L412.30 439.80 L412.30 446.00 L413.30 446.00 L413.30 451.40 L417.50 451.40 L417.50 452.20 L419.00 452.20 L419.00 455.30 L420.00 455.30 L420.00 463.00 L420.80 463.00 L420.80 471.50 L425.20 471.50 L425.20 473.10 L429.80 473.10 L429.80 474.60 L432.20 474.60 L432.20 478.50 L434.50 478.50 L434.50 483.10 L435.60 483.10 L435.60 487.80 L436.80 487.80 L436.80 494.00 L439.10 494.00 L439.10 499.40 L446.30 499.40 L446.30 509.00 L482.30 509.00" fill="none" stroke="#e9a12c" stroke-width="1.5" stroke-linejoin="miter"/>
<line x1="402.50" y1="418.90" x2="402.50" y2="422.40" stroke="#e9a12c" stroke-width="0.9"/>
<line x1="408.00" y1="430.20" x2="408.00" y2="433.70" stroke="#e9a12c" stroke-width="0.9"/>
<line x1="416.00" y1="448.80" x2="416.00" y2="452.30" stroke="#e9a12c" stroke-width="0.9"/>
<line x1="423.00" y1="468.90" x2="423.00" y2="472.40" stroke="#e9a12c" stroke-width="0.9"/>
<line x1="427.50" y1="470.50" x2="427.50" y2="474.00" stroke="#e9a12c" stroke-width="0.9"/>
<line x1="431.00" y1="472.00" x2="431.00" y2="475.50" stroke="#e9a12c" stroke-width="0.9"/>
<line x1="442.00" y1="496.80" x2="442.00" y2="500.30" stroke="#e9a12c" stroke-width="0.9"/>
<line x1="444.50" y1="496.80" x2="444.50" y2="500.30" stroke="#e9a12c" stroke-width="0.9"/>
<line x1="470.00" y1="506.40" x2="470.00" y2="509.90" stroke="#e9a12c" stroke-width="0.9"/>
<line x1="481.50" y1="506.40" x2="481.50" y2="509.90" stroke="#e9a12c" stroke-width="0.9"/>
<text x="484.80" y="419.60" font-size="6.9" text-anchor="middle" fill="#1a1a1a" stroke="#1a1a1a" stroke-width="0.18">Strata</text>
<line x1="462.50" y1="429.60" x2="470.80" y2="429.60" stroke="#e9a12c" stroke-width="1.3"/>
<path d="M465.15 429.60 L466.65 427.60 L468.15 429.60 Z" fill="#e9a12c"/>
<text x="472.50" y="432.20" font-size="6.9" fill="#2a2a2a" stroke="#2a2a2a" stroke-width="0.18">CIEN - Ins = 0</text>
<line x1="462.50" y1="440.90" x2="470.80" y2="440.90" stroke="#7d7cc4" stroke-width="1.3"/>
<path d="M465.15 440.90 L466.65 438.90 L468.15 440.90 Z" fill="#7d7cc4"/>
<text x="472.50" y="443.50" font-size="6.9" fill="#2a2a2a" stroke="#2a2a2a" stroke-width="0.18">CIEN - Ins =1</text>
<text x="396.50" y="564.90" font-size="6.1" fill="#1a1a1a" stroke="#1a1a1a" stroke-width="0.18">No. at risk: <tspan font-style="italic">n</tspan> (%)</text>
<text x="371.40" y="576.70" font-size="8.2" text-anchor="middle" fill="#1a1a1a" stroke="#1a1a1a" stroke-width="0.18" transform="rotate(-90 371.40 576.70)">Strata</text>
<line x1="383.70" y1="570.40" x2="390.90" y2="570.40" stroke="#e9a12c" stroke-width="1.5"/>
<text x="397.80" y="574.30" font-size="6.0" fill="#2a2a2a" stroke="#2a2a2a" stroke-width="0.18">65(100)</text>
<text x="419.80" y="574.30" font-size="6.0" fill="#2a2a2a" stroke="#2a2a2a" stroke-width="0.18">19(29)</text>
<text x="441.50" y="574.30" font-size="6.0" fill="#2a2a2a" stroke="#2a2a2a" stroke-width="0.18">3(5)</text>
<text x="463.50" y="574.30" font-size="6.0" fill="#2a2a2a" stroke="#2a2a2a" stroke-width="0.18">1(2)</text>
<text x="486.20" y="574.30" font-size="6.0" fill="#2a2a2a" stroke="#2a2a2a" stroke-width="0.18">0(0)</text>
<text x="508.00" y="574.30" font-size="6.0" fill="#2a2a2a" stroke="#2a2a2a" stroke-width="0.18">0(0)</text>
<line x1="383.70" y1="581.90" x2="390.90" y2="581.90" stroke="#7d7cc4" stroke-width="1.5"/>
<text x="397.80" y="586.30" font-size="6.0" fill="#2a2a2a" stroke="#2a2a2a" stroke-width="0.18">35(100)</text>
<text x="419.80" y="586.30" font-size="6.0" fill="#2a2a2a" stroke="#2a2a2a" stroke-width="0.18">13(37)</text>
<text x="441.50" y="586.30" font-size="6.0" fill="#2a2a2a" stroke="#2a2a2a" stroke-width="0.18">5(14)</text>
<text x="463.50" y="586.30" font-size="6.0" fill="#2a2a2a" stroke="#2a2a2a" stroke-width="0.18">3(9)</text>
<text x="486.20" y="586.30" font-size="6.0" fill="#2a2a2a" stroke="#2a2a2a" stroke-width="0.18">2(6)</text>
<text x="508.00" y="586.30" font-size="6.0" fill="#2a2a2a" stroke="#2a2a2a" stroke-width="0.18">0(0)</text>
<line x1="395.90" y1="569.40" x2="395.90" y2="588.60" stroke="#8c8c8c" stroke-width="0.8"/>
<line x1="395.90" y1="588.60" x2="520.00" y2="588.60" stroke="#8c8c8c" stroke-width="0.8"/>
<line x1="401.30" y1="588.60" x2="401.30" y2="590.60" stroke="#8c8c8c" stroke-width="0.7"/>
<text x="401.30" y="596.60" font-size="6.1" text-anchor="middle" fill="#2a2a2a" stroke="#2a2a2a" stroke-width="0.18">0</text>
<line x1="423.84" y1="588.60" x2="423.84" y2="590.60" stroke="#8c8c8c" stroke-width="0.7"/>
<text x="423.84" y="596.60" font-size="6.1" text-anchor="middle" fill="#2a2a2a" stroke="#2a2a2a" stroke-width="0.18">1,000</text>
<line x1="446.38" y1="588.60" x2="446.38" y2="590.60" stroke="#8c8c8c" stroke-width="0.7"/>
<text x="446.38" y="596.60" font-size="6.1" text-anchor="middle" fill="#2a2a2a" stroke="#2a2a2a" stroke-width="0.18">2,000</text>
<line x1="468.92" y1="588.60" x2="468.92" y2="590.60" stroke="#8c8c8c" stroke-width="0.7"/>
<text x="468.92" y="596.60" font-size="6.1" text-anchor="middle" fill="#2a2a2a" stroke="#2a2a2a" stroke-width="0.18">3,000</text>
<line x1="491.46" y1="588.60" x2="491.46" y2="590.60" stroke="#8c8c8c" stroke-width="0.7"/>
<text x="491.46" y="596.60" font-size="6.1" text-anchor="middle" fill="#2a2a2a" stroke="#2a2a2a" stroke-width="0.18">4,000</text>
<line x1="514.00" y1="588.60" x2="514.00" y2="590.60" stroke="#8c8c8c" stroke-width="0.7"/>
<text x="514.00" y="596.60" font-size="6.1" text-anchor="middle" fill="#2a2a2a" stroke="#2a2a2a" stroke-width="0.18">5,000</text>
<text x="462.60" y="610.20" font-size="8.3" text-anchor="middle" fill="#1a1a1a" stroke="#1a1a1a" stroke-width="0.18">Time (d)</text>
</svg>
</body></html>
